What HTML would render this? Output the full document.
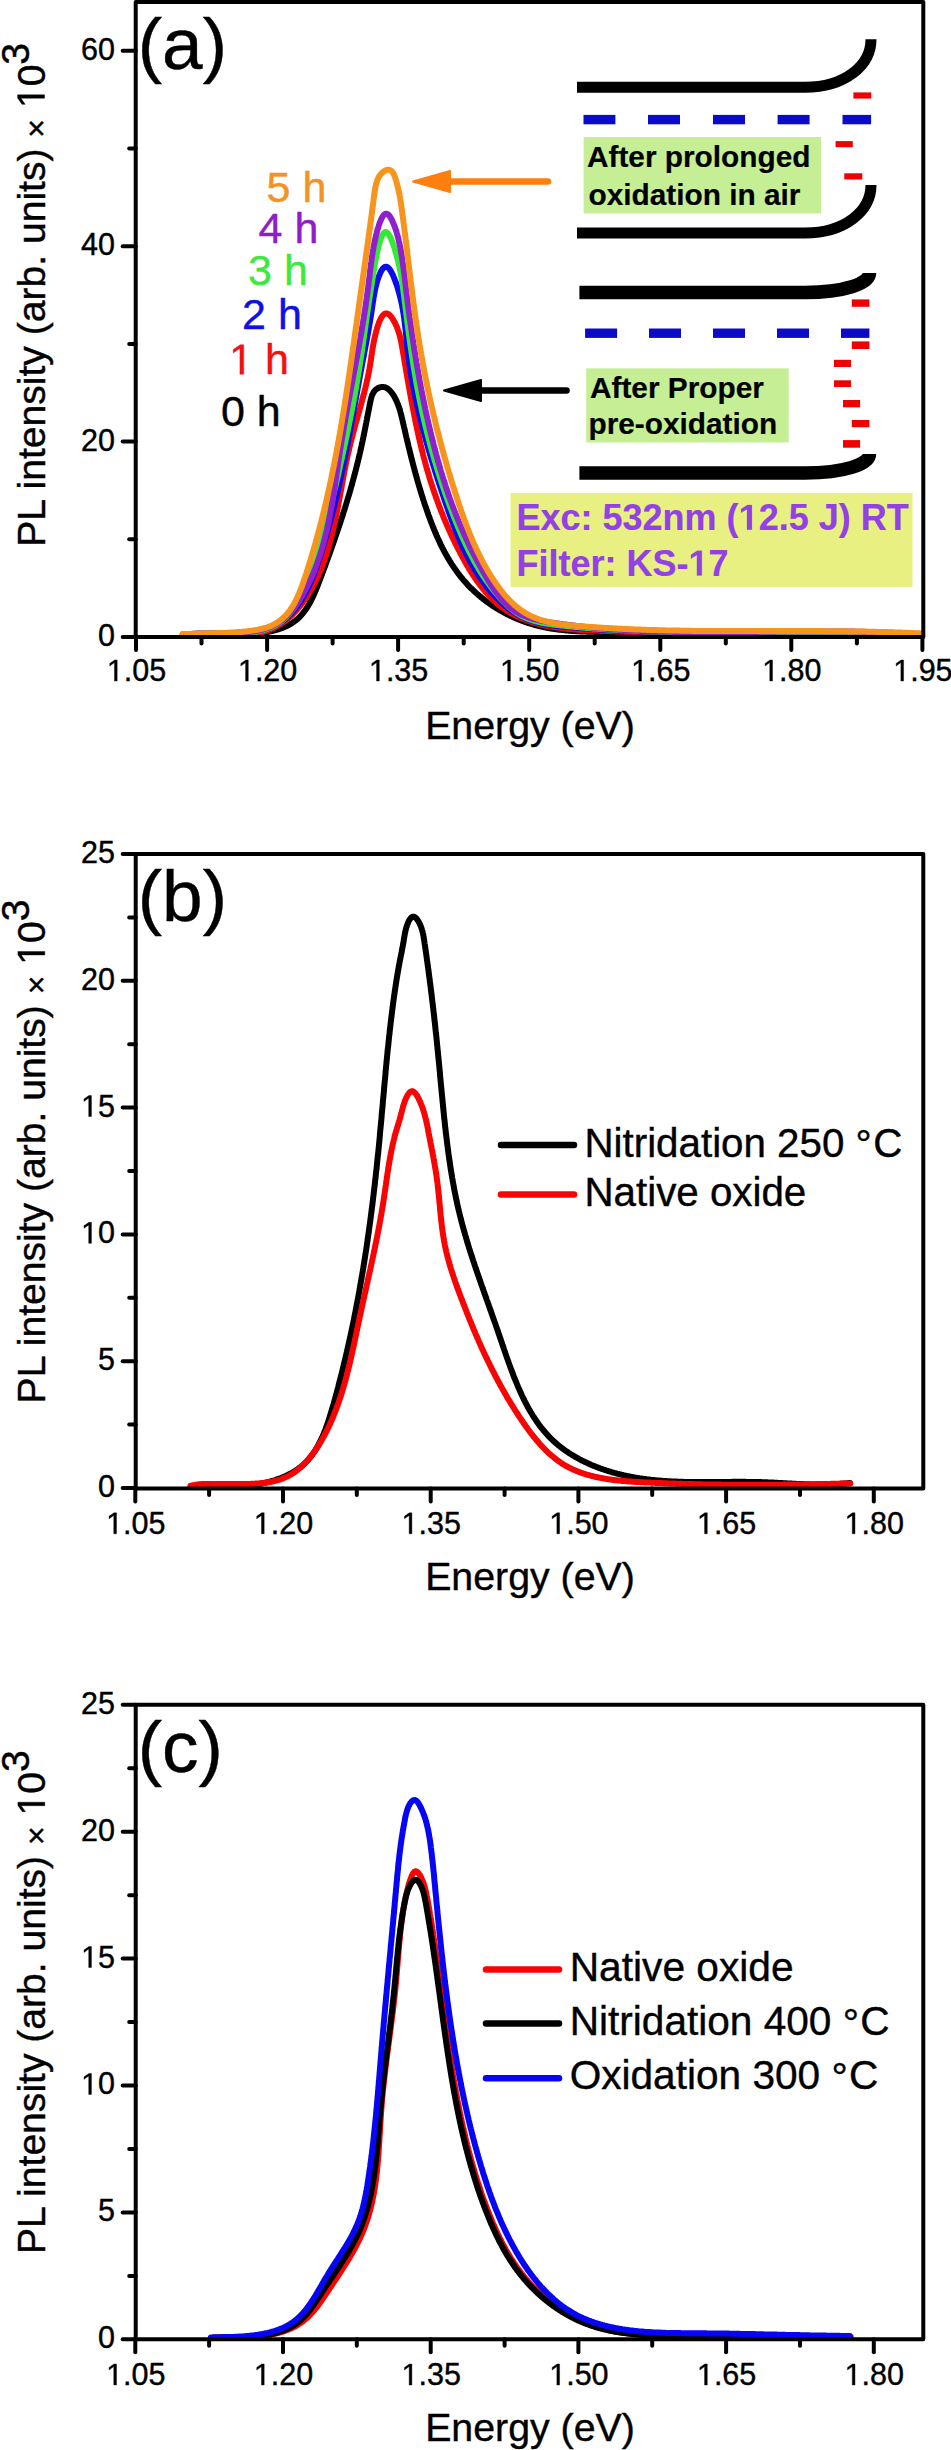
<!DOCTYPE html>
<html><head><meta charset="utf-8"><title>PL spectra</title>
<style>html,body{margin:0;padding:0;background:#fff;} svg text{font-family:"Liberation Sans", sans-serif;} .o1{fill:none;stroke:none}</style>
</head><body>
<svg width="951" height="2450" viewBox="0 0 951 2450" style="display:block">
<rect x="0" y="0" width="951" height="2450" fill="#fff"/>
<g fill="none" stroke-linejoin="round" stroke-linecap="round">
<polyline points="182.7,634.4 183.2,634.3 183.8,634.3 184.3,634.2 184.9,634.2 185.5,634.2 186.0,634.2 186.6,634.2 187.2,634.2 187.8,634.2 188.4,634.2 189.0,634.2 189.6,634.2 190.2,634.2 190.8,634.2 191.4,634.2 192.1,634.2 192.7,634.2 193.3,634.2 193.9,634.2 194.6,634.2 195.2,634.2 195.9,634.2 196.5,634.2 197.2,634.2 197.9,634.2 198.5,634.2 199.2,634.2 199.9,634.2 200.5,634.2 201.2,634.2 201.9,634.2 202.6,634.2 203.3,634.2 204.0,634.2 204.7,634.2 205.4,634.2 206.1,634.2 206.8,634.2 207.5,634.2 208.2,634.2 208.9,634.2 209.6,634.2 210.3,634.2 211.1,634.2 211.8,634.2 212.5,634.2 213.2,634.2 214.0,634.2 214.7,634.2 215.5,634.2 216.2,634.2 216.9,634.2 217.7,634.2 218.4,634.2 219.2,634.2 219.9,634.2 220.7,634.2 221.4,634.2 222.2,634.2 222.9,634.2 223.7,634.2 224.4,634.2 225.2,634.2 225.9,634.2 226.7,634.2 227.5,634.2 228.2,634.2 229.0,634.2 229.8,634.2 230.5,634.2 231.3,634.2 232.1,634.2 232.8,634.2 233.6,634.2 234.4,634.2 235.1,634.2 235.9,634.2 236.7,634.2 237.4,634.2 238.2,634.2 239.0,634.2 239.7,634.2 240.5,634.2 241.3,634.2 242.0,634.2 242.8,634.2 243.6,634.1 244.3,634.1 245.1,634.1 245.9,634.1 246.6,634.1 247.4,634.0 248.2,634.0 248.9,634.0 249.7,633.9 250.4,633.9 251.2,633.8 251.9,633.8 252.7,633.7 253.5,633.7 254.2,633.6 255.0,633.6 255.7,633.5 256.5,633.4 257.2,633.4 257.9,633.3 258.7,633.2 259.4,633.1 260.2,633.0 260.9,633.0 261.6,632.9 262.4,632.8 263.1,632.7 263.8,632.6 264.5,632.4 265.3,632.3 266.0,632.2 266.7,632.1 267.4,632.0 268.1,631.8 268.8,631.7 269.5,631.6 270.2,631.4 270.9,631.3 271.6,631.1 272.3,630.9 273.0,630.8 273.7,630.6 274.4,630.4 275.1,630.3 275.7,630.1 276.4,629.9 277.1,629.7 277.8,629.5 278.4,629.3 279.1,629.1 279.7,628.8 280.4,628.6 281.0,628.4 281.7,628.2 282.3,627.9 282.9,627.7 283.5,627.4 284.2,627.2 284.8,626.9 285.4,626.6 286.0,626.3 286.6,626.1 287.2,625.8 287.8,625.5 288.4,625.2 289.0,624.8 289.5,624.5 290.1,624.2 290.7,623.9 291.3,623.5 291.8,623.2 292.4,622.8 292.9,622.5 293.4,622.1 294.0,621.7 294.5,621.3 295.0,621.0 295.5,620.6 296.1,620.2 296.6,619.7 297.1,619.3 297.6,618.9 298.0,618.5 298.5,618.0 299.0,617.6 299.5,617.1 299.9,616.6 300.4,616.2 300.8,615.7 301.3,615.2 301.7,614.7 302.1,614.2 302.6,613.7 303.0,613.2 303.4,612.7 303.8,612.1 304.2,611.6 304.6,611.1 305.0,610.5 305.4,610.0 305.8,609.4 306.2,608.9 306.6,608.3 306.9,607.7 307.3,607.1 307.7,606.6 308.0,606.0 308.4,605.4 308.7,604.8 309.1,604.2 309.4,603.6 309.8,603.0 310.1,602.3 310.4,601.7 310.8,601.1 311.1,600.5 311.4,599.8 311.7,599.2 312.0,598.6 312.4,597.9 312.7,597.3 313.0,596.6 313.3,596.0 313.6,595.3 313.9,594.7 314.2,594.0 314.5,593.3 314.7,592.7 315.0,592.0 315.3,591.3 315.6,590.7 315.9,590.0 316.2,589.3 316.4,588.7 316.7,588.0 317.0,587.3 317.3,586.6 317.5,585.9 317.8,585.3 318.1,584.6 318.3,583.9 318.6,583.2 318.9,582.5 319.1,581.8 319.4,581.1 319.6,580.5 319.9,579.8 320.2,579.1 320.4,578.4 320.7,577.7 320.9,577.0 321.2,576.3 321.5,575.6 321.7,575.0 322.0,574.3 322.2,573.6 322.5,572.9 322.7,572.2 323.0,571.5 323.2,570.9 323.5,570.2 323.7,569.5 324.0,568.8 324.3,568.1 324.5,567.5 324.8,566.8 325.0,566.1 325.3,565.4 325.5,564.7 325.8,564.1 326.0,563.4 326.3,562.7 326.5,562.0 326.7,561.3 327.0,560.7 327.2,560.0 327.5,559.3 327.7,558.6 328.0,558.0 328.2,557.3 328.5,556.6 328.7,555.9 329.0,555.3 329.2,554.6 329.4,553.9 329.7,553.2 329.9,552.6 330.2,551.9 330.4,551.2 330.6,550.5 330.9,549.9 331.1,549.2 331.4,548.5 331.6,547.9 331.8,547.2 332.1,546.5 332.3,545.8 332.5,545.2 332.8,544.5 333.0,543.8 333.3,543.2 333.5,542.5 333.7,541.8 334.0,541.2 334.2,540.5 334.4,539.8 334.7,539.1 334.9,538.5 335.1,537.8 335.3,537.1 335.6,536.5 335.8,535.8 336.0,535.1 336.3,534.5 336.5,533.8 336.7,533.1 336.9,532.5 337.2,531.8 337.4,531.1 337.6,530.5 337.8,529.8 338.1,529.1 338.3,528.5 338.5,527.8 338.7,527.1 339.0,526.5 339.2,525.8 339.4,525.1 339.6,524.5 339.9,523.8 340.1,523.1 340.3,522.5 340.5,521.8 340.7,521.2 340.9,520.5 341.2,519.8 341.4,519.2 341.6,518.5 341.8,517.8 342.0,517.2 342.2,516.5 342.5,515.8 342.7,515.2 342.9,514.5 343.1,513.8 343.3,513.2 343.5,512.5 343.7,511.8 343.9,511.2 344.1,510.5 344.4,509.9 344.6,509.2 344.8,508.5 345.0,507.9 345.2,507.2 345.4,506.5 345.6,505.9 345.8,505.2 346.0,504.5 346.2,503.9 346.4,503.2 346.6,502.5 346.8,501.9 347.0,501.2 347.2,500.5 347.4,499.9 347.6,499.2 347.8,498.5 348.0,497.9 348.2,497.2 348.4,496.5 348.6,495.9 348.8,495.2 349.0,494.6 349.2,493.9 349.4,493.2 349.6,492.6 349.8,491.9 350.0,491.2 350.2,490.6 350.4,489.9 350.6,489.2 350.7,488.6 350.9,487.9 351.1,487.2 351.3,486.5 351.5,485.9 351.7,485.2 351.9,484.5 352.1,483.9 352.2,483.2 352.4,482.5 352.6,481.9 352.8,481.2 353.0,480.5 353.2,479.9 353.3,479.2 353.5,478.5 353.7,477.8 353.9,477.2 354.1,476.5 354.2,475.8 354.4,475.2 354.6,474.5 354.8,473.8 355.0,473.2 355.1,472.5 355.3,471.8 355.5,471.1 355.7,470.5 355.8,469.8 356.0,469.1 356.2,468.4 356.3,467.8 356.5,467.1 356.7,466.4 356.9,465.7 357.0,465.1 357.2,464.4 357.4,463.7 357.5,463.0 357.7,462.4 357.9,461.7 358.0,461.0 358.2,460.3 358.4,459.6 358.5,459.0 358.7,458.3 358.8,457.6 359.0,456.9 359.2,456.3 359.3,455.6 359.5,454.9 359.6,454.2 359.8,453.5 360.0,452.8 360.1,452.2 360.3,451.5 360.4,450.8 360.6,450.1 360.7,449.4 360.9,448.7 361.0,448.1 361.2,447.4 361.3,446.7 361.5,446.0 361.6,445.3 361.8,444.6 361.9,443.9 362.1,443.3 362.2,442.6 362.4,441.9 362.5,441.2 362.7,440.5 362.8,439.8 363.0,439.1 363.1,438.4 363.2,437.7 363.4,437.0 363.5,436.3 363.7,435.7 363.8,435.0 364.0,434.3 364.1,433.6 364.2,432.9 364.4,432.2 364.5,431.5 364.7,430.8 364.8,430.1 364.9,429.4 365.1,428.7 365.2,428.0 365.4,427.3 365.5,426.6 365.6,425.9 365.8,425.2 365.9,424.5 366.0,423.7 366.2,423.0 366.3,422.3 366.5,421.6 366.6,420.9 366.7,420.2 366.9,419.5 367.0,418.8 367.1,418.1 367.3,417.3 367.4,416.6 367.6,415.9 367.7,415.2 367.8,414.5 368.0,413.8 368.1,413.0 368.3,412.3 368.4,411.6 368.5,410.9 368.7,410.1 368.8,409.4 369.0,408.7 369.1,408.0 369.2,407.2 369.4,406.5 369.5,405.8 369.7,405.0 369.8,404.3 370.0,403.6 370.1,402.8 370.3,402.1 370.4,401.3 370.6,400.6 370.7,399.9 370.9,399.2 371.1,398.4 371.3,397.7 371.5,397.0 371.7,396.4 371.9,395.7 372.2,395.0 372.5,394.4 372.8,393.8 373.1,393.1 373.4,392.6 373.8,392.0 374.2,391.4 374.6,390.9 375.0,390.4 375.5,389.9 376.0,389.5 376.5,389.1 377.1,388.7 377.7,388.3 378.3,388.0 378.9,387.7 379.6,387.5 380.2,387.3 380.9,387.1 381.5,387.0 382.1,386.9 382.8,386.9 383.4,387.0 384.0,387.1 384.6,387.2 385.2,387.4 385.8,387.6 386.4,387.9 386.9,388.2 387.5,388.5 388.0,388.9 388.5,389.3 389.1,389.8 389.6,390.3 390.1,390.8 390.6,391.3 391.0,391.8 391.5,392.4 391.9,393.0 392.4,393.6 392.8,394.2 393.2,394.9 393.7,395.5 394.1,396.2 394.4,396.9 394.8,397.6 395.2,398.3 395.5,399.0 395.9,399.6 396.2,400.3 396.5,401.0 396.8,401.7 397.1,402.4 397.4,403.1 397.7,403.8 398.0,404.5 398.2,405.2 398.5,405.9 398.7,406.6 399.0,407.2 399.2,407.9 399.4,408.6 399.6,409.3 399.9,410.0 400.1,410.7 400.3,411.4 400.4,412.0 400.6,412.7 400.8,413.4 401.0,414.1 401.2,414.8 401.3,415.4 401.5,416.1 401.7,416.8 401.8,417.5 402.0,418.2 402.2,418.8 402.3,419.5 402.5,420.2 402.6,420.9 402.8,421.6 402.9,422.2 403.1,422.9 403.2,423.6 403.4,424.3 403.6,425.0 403.7,425.6 403.9,426.3 404.0,427.0 404.2,427.7 404.3,428.4 404.5,429.0 404.7,429.7 404.8,430.4 405.0,431.1 405.1,431.7 405.3,432.4 405.4,433.1 405.6,433.8 405.8,434.5 405.9,435.1 406.1,435.8 406.2,436.5 406.4,437.2 406.5,437.8 406.7,438.5 406.9,439.2 407.0,439.9 407.2,440.5 407.3,441.2 407.5,441.9 407.7,442.6 407.8,443.3 408.0,443.9 408.2,444.6 408.3,445.3 408.5,446.0 408.6,446.6 408.8,447.3 409.0,448.0 409.1,448.7 409.3,449.3 409.5,450.0 409.6,450.7 409.8,451.4 410.0,452.0 410.1,452.7 410.3,453.4 410.5,454.1 410.6,454.7 410.8,455.4 411.0,456.1 411.1,456.8 411.3,457.4 411.5,458.1 411.6,458.8 411.8,459.5 412.0,460.1 412.2,460.8 412.3,461.5 412.5,462.2 412.7,462.8 412.9,463.5 413.0,464.2 413.2,464.9 413.4,465.5 413.6,466.2 413.7,466.9 413.9,467.5 414.1,468.2 414.3,468.9 414.5,469.6 414.6,470.2 414.8,470.9 415.0,471.6 415.2,472.3 415.4,472.9 415.5,473.6 415.7,474.3 415.9,475.0 416.1,475.6 416.3,476.3 416.5,477.0 416.7,477.6 416.9,478.3 417.0,479.0 417.2,479.7 417.4,480.3 417.6,481.0 417.8,481.7 418.0,482.4 418.2,483.0 418.4,483.7 418.6,484.4 418.8,485.1 419.0,485.7 419.2,486.4 419.4,487.1 419.6,487.7 419.8,488.4 420.0,489.1 420.2,489.8 420.4,490.4 420.6,491.1 420.8,491.8 421.0,492.5 421.2,493.1 421.4,493.8 421.6,494.5 421.8,495.2 422.1,495.8 422.3,496.5 422.5,497.2 422.7,497.8 422.9,498.5 423.1,499.2 423.3,499.9 423.6,500.5 423.8,501.2 424.0,501.9 424.2,502.6 424.4,503.2 424.7,503.9 424.9,504.6 425.1,505.2 425.3,505.9 425.6,506.6 425.8,507.3 426.0,507.9 426.3,508.6 426.5,509.3 426.7,510.0 426.9,510.6 427.2,511.3 427.4,512.0 427.7,512.7 427.9,513.3 428.1,514.0 428.4,514.7 428.6,515.4 428.9,516.0 429.1,516.7 429.4,517.4 429.6,518.0 429.9,518.7 430.1,519.4 430.4,520.1 430.6,520.7 430.9,521.4 431.1,522.1 431.4,522.7 431.6,523.4 431.9,524.1 432.2,524.7 432.4,525.4 432.7,526.1 432.9,526.7 433.2,527.4 433.5,528.1 433.8,528.7 434.0,529.4 434.3,530.1 434.6,530.7 434.9,531.4 435.1,532.1 435.4,532.7 435.7,533.4 436.0,534.0 436.3,534.7 436.5,535.4 436.8,536.0 437.1,536.7 437.4,537.3 437.7,538.0 438.0,538.6 438.3,539.3 438.6,539.9 438.9,540.6 439.2,541.2 439.5,541.9 439.8,542.5 440.1,543.2 440.4,543.8 440.7,544.5 441.1,545.1 441.4,545.8 441.7,546.4 442.0,547.0 442.3,547.7 442.7,548.3 443.0,548.9 443.3,549.6 443.6,550.2 444.0,550.8 444.3,551.5 444.6,552.1 445.0,552.7 445.3,553.4 445.7,554.0 446.0,554.6 446.4,555.2 446.7,555.8 447.1,556.5 447.4,557.1 447.8,557.7 448.1,558.3 448.5,558.9 448.8,559.5 449.2,560.1 449.6,560.7 449.9,561.3 450.3,561.9 450.7,562.5 451.1,563.1 451.4,563.7 451.8,564.3 452.2,564.9 452.6,565.5 453.0,566.1 453.4,566.7 453.8,567.3 454.2,567.8 454.6,568.4 455.0,569.0 455.4,569.6 455.8,570.2 456.2,570.7 456.6,571.3 457.0,571.9 457.4,572.4 457.8,573.0 458.3,573.5 458.7,574.1 459.1,574.7 459.5,575.2 460.0,575.8 460.4,576.3 460.8,576.9 461.3,577.4 461.7,577.9 462.2,578.5 462.6,579.0 463.1,579.6 463.5,580.1 464.0,580.6 464.4,581.1 464.9,581.7 465.4,582.2 465.8,582.7 466.3,583.2 466.8,583.7 467.2,584.3 467.7,584.8 468.2,585.3 468.7,585.8 469.2,586.3 469.6,586.8 470.1,587.3 470.6,587.8 471.1,588.3 471.6,588.7 472.1,589.2 472.6,589.7 473.1,590.2 473.6,590.7 474.1,591.2 474.6,591.6 475.2,592.1 475.7,592.6 476.2,593.0 476.7,593.5 477.2,594.0 477.7,594.4 478.3,594.9 478.8,595.3 479.3,595.8 479.9,596.2 480.4,596.7 480.9,597.1 481.5,597.6 482.0,598.0 482.6,598.4 483.1,598.9 483.6,599.3 484.2,599.7 484.7,600.1 485.3,600.6 485.9,601.0 486.4,601.4 487.0,601.8 487.5,602.2 488.1,602.6 488.7,603.0 489.2,603.4 489.8,603.8 490.4,604.2 490.9,604.6 491.5,605.0 492.1,605.4 492.7,605.8 493.2,606.2 493.8,606.6 494.4,606.9 495.0,607.3 495.6,607.7 496.2,608.0 496.8,608.4 497.4,608.8 498.0,609.1 498.5,609.5 499.1,609.8 499.7,610.2 500.3,610.5 501.0,610.9 501.6,611.2 502.2,611.6 502.8,611.9 503.4,612.3 504.0,612.6 504.6,612.9 505.2,613.2 505.8,613.6 506.5,613.9 507.1,614.2 507.7,614.5 508.3,614.8 508.9,615.1 509.6,615.4 510.2,615.7 510.8,616.0 511.5,616.3 512.1,616.6 512.7,616.9 513.4,617.2 514.0,617.5 514.6,617.8 515.3,618.1 515.9,618.3 516.5,618.6 517.2,618.9 517.8,619.1 518.5,619.4 519.1,619.7 519.8,619.9 520.4,620.2 521.1,620.4 521.7,620.7 522.4,620.9 523.0,621.2 523.7,621.4 524.3,621.6 525.0,621.9 525.7,622.1 526.3,622.3 527.0,622.6 527.6,622.8 528.3,623.0 529.0,623.2 529.6,623.4 530.3,623.6 531.0,623.8 531.6,624.0 532.3,624.2 533.0,624.4 533.7,624.6 534.3,624.8 535.0,625.0 535.7,625.2 536.4,625.4 537.0,625.6 537.7,625.7 538.4,625.9 539.1,626.1 539.7,626.2 540.4,626.4 541.1,626.6 541.8,626.7 542.5,626.9 543.2,627.0 543.8,627.2 544.5,627.3 545.2,627.4 545.9,627.6 546.6,627.7 547.3,627.8 548.0,628.0 548.7,628.1 549.4,628.2 550.1,628.3 550.8,628.5 551.4,628.6 552.1,628.7 552.8,628.8 553.5,628.9 554.2,629.0 554.9,629.1 555.6,629.2 556.3,629.3 557.0,629.4 557.7,629.5 558.4,629.6 559.1,629.7 559.8,629.7 560.5,629.8 561.2,629.9 561.9,630.0 562.6,630.1 563.3,630.1 564.1,630.2 564.8,630.3 565.5,630.4 566.2,630.4 566.9,630.5 567.6,630.5 568.3,630.6 569.0,630.7 569.7,630.7 570.4,630.8 571.1,630.8 571.8,630.9 572.6,630.9 573.3,631.0 574.0,631.0 574.7,631.1 575.4,631.1 576.1,631.2 576.8,631.2 577.5,631.3 578.3,631.3 579.0,631.3 579.7,631.4 580.4,631.4 581.1,631.4 581.8,631.5 582.5,631.5 583.3,631.5 584.0,631.6 584.7,631.6 585.4,631.6 586.1,631.6 586.8,631.7 587.5,631.7 588.3,631.7 589.0,631.7 589.7,631.7 590.4,631.8 591.1,631.8 591.8,631.8 592.6,631.8 593.3,631.8 594.0,631.9 594.7,631.9 595.4,631.9 596.2,631.9 596.9,631.9 597.6,631.9 598.3,631.9 599.0,632.0 599.7,632.0 600.5,632.0 601.2,632.0 601.9,632.0 602.6,632.0 603.3,632.0 604.0,632.0 604.8,632.1 605.5,632.1 606.2,632.1 606.9,632.1 607.6,632.1 608.3,632.1 609.1,632.1 609.8,632.1 610.5,632.1 611.2,632.2 611.9,632.2 612.6,632.2 613.3,632.2 614.1,632.2 614.8,632.2 615.5,632.2 616.2,632.2 616.9,632.2 617.6,632.3 618.3,632.3 619.1,632.3 619.8,632.3 620.5,632.3 621.2,632.3 621.9,632.3 622.6,632.3 623.3,632.3 624.1,632.3 624.8,632.4 625.5,632.4 626.2,632.4 626.9,632.4 627.6,632.4 628.3,632.4 629.0,632.4 629.7,632.4 630.5,632.4 631.2,632.4 631.9,632.5 632.6,632.5 633.3,632.5 634.0,632.5 634.7,632.5 635.4,632.5 636.2,632.5 636.9,632.5 637.6,632.5 638.3,632.5 639.0,632.6 639.7,632.6 640.4,632.6 641.1,632.6 641.8,632.6 642.5,632.6 643.3,632.6 644.0,632.6 644.7,632.6 645.4,632.6 646.1,632.6 646.8,632.7 647.5,632.7 648.2,632.7 648.9,632.7 649.6,632.7 650.3,632.7 651.1,632.7 651.8,632.7 652.5,632.7 653.2,632.7 653.9,632.7 654.6,632.8 655.3,632.8 656.0,632.8 656.7,632.8 657.4,632.8 658.1,632.8 658.8,632.8 659.5,632.8 660.3,632.8 661.0,632.8 661.7,632.8 662.4,632.8 663.1,632.9 663.8,632.9 664.5,632.9 665.2,632.9 665.9,632.9 666.6,632.9 667.3,632.9 668.0,632.9 668.7,632.9 669.4,632.9 670.1,632.9 670.8,632.9 671.6,633.0 672.3,633.0 673.0,633.0 673.7,633.0 674.4,633.0 675.1,633.0 675.8,633.0 676.5,633.0 677.2,633.0 677.9,633.0 678.6,633.0 679.3,633.0 680.0,633.0 680.7,633.1 681.4,633.1 682.1,633.1 682.8,633.1 683.5,633.1 684.2,633.1 684.9,633.1 685.6,633.1 686.4,633.1 687.1,633.1 687.8,633.1 688.5,633.1 689.2,633.1 689.9,633.2 690.6,633.2 691.3,633.2 692.0,633.2 692.7,633.2 693.4,633.2 694.1,633.2 694.8,633.2 695.5,633.2 696.2,633.2 696.9,633.2 697.6,633.2 698.3,633.2 699.0,633.2 699.7,633.3 700.4,633.3 701.1,633.3 701.8,633.3 702.5,633.3 703.2,633.3 703.9,633.3 704.6,633.3 705.3,633.3 706.0,633.3 706.7,633.3 707.4,633.3 708.1,633.3 708.8,633.3 709.5,633.3 710.2,633.4 711.0,633.4 711.7,633.4 712.4,633.4 713.1,633.4 713.8,633.4 714.5,633.4 715.2,633.4 715.9,633.4 716.6,633.4 717.3,633.4 718.0,633.4 718.7,633.4 719.4,633.4 720.1,633.4 720.8,633.4 721.5,633.5 722.2,633.5 722.9,633.5 723.6,633.5 724.3,633.5 725.0,633.5 725.7,633.5 726.4,633.5 727.1,633.5 727.8,633.5 728.5,633.5 729.2,633.5 729.9,633.5 730.6,633.5 731.3,633.5 732.0,633.5 732.7,633.5 733.4,633.6 734.1,633.6 734.8,633.6 735.5,633.6 736.2,633.6 736.9,633.6 737.6,633.6 738.3,633.6 739.0,633.6 739.7,633.6 740.4,633.6 741.1,633.6 741.8,633.6 742.5,633.6 743.2,633.6 743.9,633.6 744.6,633.6 745.3,633.6 746.0,633.6 746.7,633.7 747.4,633.7 748.1,633.7 748.8,633.7 749.5,633.7 750.2,633.7 750.9,633.7 751.6,633.7 752.3,633.7 753.0,633.7 753.7,633.7 754.4,633.7 755.1,633.7 755.8,633.7 756.5,633.7 757.2,633.7 757.9,633.7 758.6,633.7 759.3,633.7 760.0,633.7 760.7,633.7 761.4,633.8 762.1,633.8 762.8,633.8 763.5,633.8 764.2,633.8 764.9,633.8 765.6,633.8 766.3,633.8 767.0,633.8 767.7,633.8 768.4,633.8 769.1,633.8 769.8,633.8 770.5,633.8 771.2,633.8 771.9,633.8 772.6,633.8 773.3,633.8 774.0,633.8 774.7,633.8 775.4,633.8 776.1,633.8 776.8,633.8 777.5,633.9 778.2,633.9 778.9,633.9 779.6,633.9 780.3,633.9 781.0,633.9 781.7,633.9 782.4,633.9 783.1,633.9 783.8,633.9 784.5,633.9 785.2,633.9 785.9,633.9 786.6,633.9 787.3,633.9 788.0,633.9 788.7,633.9 789.4,633.9 790.1,633.9 790.8,633.9 791.5,633.9 792.2,633.9 792.9,633.9 793.6,633.9 794.3,633.9 795.0,633.9 795.7,633.9 796.4,633.9 797.1,634.0 797.8,634.0 798.5,634.0 799.2,634.0 799.9,634.0 800.6,634.0 801.3,634.0 802.0,634.0 802.7,634.0 803.4,634.0 804.1,634.0 804.8,634.0 805.5,634.0 806.2,634.0 806.9,634.0 807.6,634.0 808.3,634.0 809.0,634.0 809.7,634.0 810.4,634.0 811.1,634.0 811.8,634.0 812.5,634.0 813.2,634.0 813.9,634.0 814.6,634.0 815.3,634.0 816.0,634.0 816.7,634.0 817.4,634.0 818.1,634.0 818.8,634.0 819.5,634.0 820.2,634.0 820.9,634.0 821.6,634.0 822.3,634.0 823.0,634.1 823.7,634.1 824.4,634.1 825.1,634.1 825.8,634.1 826.5,634.1 827.2,634.1 827.9,634.1 828.6,634.1 829.3,634.1 830.0,634.1 830.7,634.1 831.4,634.1 832.1,634.1 832.8,634.1 833.5,634.1 834.2,634.1 834.9,634.1 835.6,634.1 836.4,634.1 837.1,634.1 837.8,634.1 838.5,634.1 839.2,634.1 839.9,634.1 840.6,634.1 841.3,634.1 842.0,634.1 842.7,634.1 843.4,634.1 844.1,634.1 844.8,634.1 845.5,634.1 846.2,634.1 846.9,634.1 847.6,634.1 848.3,634.1 849.0,634.1 849.7,634.1 850.4,634.1 851.1,634.1 851.8,634.1 852.5,634.1 853.2,634.1 853.9,634.1 854.6,634.1 855.4,634.1 856.1,634.1 856.8,634.1 857.5,634.1 858.2,634.1 858.9,634.1 859.6,634.1 860.3,634.1 861.0,634.1 861.7,634.1 862.4,634.1 863.1,634.1 863.8,634.1 864.5,634.1 865.2,634.2 865.9,634.2 866.6,634.2 867.3,634.2 868.0,634.2 868.8,634.2 869.5,634.2 870.2,634.2 870.9,634.2 871.6,634.2 872.3,634.2 873.0,634.2 873.7,634.2 874.4,634.2 875.1,634.2 875.8,634.2 876.5,634.2 877.2,634.2 877.9,634.2 878.7,634.2 879.4,634.2 880.1,634.2 880.8,634.2 881.5,634.2 882.2,634.2 882.9,634.2 883.6,634.2 884.3,634.2 885.0,634.2 885.7,634.2 886.4,634.2 887.2,634.2 887.9,634.2 888.6,634.2 889.3,634.2 890.0,634.2 890.7,634.2 891.4,634.2 892.1,634.2 892.8,634.2 893.5,634.2 894.2,634.2 895.0,634.2 895.7,634.2 896.4,634.2 897.1,634.2 897.8,634.2 898.5,634.2 899.2,634.2 899.9,634.2 900.6,634.2 901.4,634.2 902.1,634.2 902.8,634.2 903.5,634.2 904.2,634.2 904.9,634.2 905.6,634.2 906.3,634.2 907.0,634.2 907.8,634.2 908.5,634.2 909.2,634.2 909.9,634.2 910.6,634.2 911.3,634.2 912.0,634.2 912.7,634.2 913.5,634.2 914.2,634.2 914.9,634.2 915.6,634.2 916.3,634.2 917.0,634.2 917.7,634.2 918.5,634.2 919.2,634.2 919.9,634.2 920.6,634.2 921.3,634.2 922.0,634.2" stroke="#000000" stroke-width="6"/>
<polyline points="183.5,634.7 184.1,634.7 184.8,634.7 185.5,634.7 186.2,634.7 186.9,634.7 187.6,634.6 188.3,634.5 189.0,634.4 189.7,634.4 190.4,634.4 191.1,634.4 191.8,634.4 192.6,634.4 193.3,634.4 194.0,634.4 194.8,634.4 195.5,634.4 196.3,634.4 197.0,634.4 197.8,634.4 198.5,634.4 199.3,634.4 200.1,634.4 200.8,634.4 201.6,634.4 202.4,634.4 203.2,634.4 203.9,634.4 204.7,634.4 205.5,634.4 206.3,634.4 207.1,634.4 207.9,634.4 208.7,634.4 209.5,634.4 210.3,634.4 211.1,634.4 211.9,634.4 212.7,634.4 213.5,634.4 214.3,634.4 215.1,634.4 216.0,634.4 216.8,634.4 217.6,634.4 218.4,634.4 219.2,634.4 220.0,634.4 220.9,634.4 221.7,634.4 222.5,634.4 223.3,634.4 224.2,634.4 225.0,634.4 225.8,634.4 226.6,634.4 227.5,634.4 228.3,634.4 229.1,634.4 229.9,634.4 230.8,634.4 231.6,634.4 232.4,634.4 233.3,634.4 234.1,634.4 234.9,634.4 235.7,634.4 236.5,634.4 237.4,634.4 238.2,634.4 239.0,634.4 239.8,634.4 240.6,634.4 241.5,634.4 242.3,634.4 243.1,634.4 243.9,634.3 244.7,634.3 245.5,634.3 246.3,634.2 247.1,634.2 247.9,634.1 248.7,634.1 249.5,634.0 250.3,634.0 251.1,633.9 251.9,633.8 252.7,633.7 253.5,633.6 254.3,633.5 255.1,633.4 255.8,633.3 256.6,633.2 257.4,633.1 258.1,632.9 258.9,632.8 259.7,632.6 260.4,632.5 261.2,632.3 261.9,632.1 262.7,632.0 263.4,631.8 264.2,631.6 264.9,631.4 265.6,631.2 266.3,630.9 267.1,630.7 267.8,630.5 268.5,630.2 269.2,629.9 269.9,629.7 270.6,629.4 271.3,629.1 272.0,628.8 272.7,628.5 273.4,628.2 274.0,627.9 274.7,627.5 275.4,627.2 276.0,626.8 276.7,626.5 277.4,626.1 278.0,625.7 278.6,625.3 279.3,625.0 279.9,624.6 280.6,624.2 281.2,623.7 281.8,623.3 282.4,622.9 283.1,622.5 283.7,622.0 284.3,621.6 284.9,621.1 285.5,620.7 286.1,620.2 286.7,619.7 287.2,619.2 287.8,618.7 288.4,618.3 289.0,617.8 289.6,617.2 290.1,616.7 290.7,616.2 291.2,615.7 291.8,615.2 292.3,614.6 292.9,614.1 293.4,613.5 294.0,613.0 294.5,612.4 295.0,611.9 295.6,611.3 296.1,610.7 296.6,610.1 297.1,609.6 297.6,609.0 298.1,608.4 298.6,607.8 299.1,607.2 299.6,606.6 300.1,606.0 300.6,605.4 301.1,604.7 301.5,604.1 302.0,603.5 302.5,602.9 303.0,602.2 303.4,601.6 303.9,601.0 304.3,600.3 304.8,599.7 305.2,599.0 305.7,598.4 306.1,597.7 306.5,597.1 307.0,596.4 307.4,595.7 307.8,595.1 308.2,594.4 308.7,593.7 309.1,593.1 309.5,592.4 309.9,591.7 310.3,591.0 310.7,590.4 311.1,589.7 311.5,589.0 311.8,588.3 312.2,587.6 312.6,586.9 313.0,586.2 313.3,585.6 313.7,584.9 314.1,584.2 314.4,583.5 314.8,582.8 315.2,582.1 315.5,581.4 315.8,580.7 316.2,580.0 316.5,579.3 316.9,578.6 317.2,577.8 317.5,577.1 317.9,576.4 318.2,575.7 318.5,575.0 318.8,574.3 319.1,573.6 319.4,572.8 319.8,572.1 320.1,571.4 320.4,570.7 320.7,570.0 321.0,569.2 321.3,568.5 321.5,567.8 321.8,567.1 322.1,566.3 322.4,565.6 322.7,564.9 323.0,564.1 323.2,563.4 323.5,562.7 323.8,561.9 324.0,561.2 324.3,560.5 324.6,559.7 324.8,559.0 325.1,558.2 325.3,557.5 325.6,556.7 325.8,556.0 326.1,555.3 326.3,554.5 326.6,553.8 326.8,553.0 327.0,552.3 327.3,551.5 327.5,550.8 327.7,550.0 328.0,549.2 328.2,548.5 328.4,547.7 328.6,547.0 328.8,546.2 329.1,545.5 329.3,544.7 329.5,543.9 329.7,543.2 329.9,542.4 330.1,541.7 330.3,540.9 330.5,540.1 330.7,539.4 330.9,538.6 331.1,537.8 331.3,537.1 331.5,536.3 331.7,535.5 331.9,534.8 332.1,534.0 332.3,533.2 332.5,532.4 332.7,531.7 332.8,530.9 333.0,530.1 333.2,529.4 333.4,528.6 333.6,527.8 333.7,527.0 333.9,526.2 334.1,525.5 334.3,524.7 334.4,523.9 334.6,523.1 334.8,522.4 334.9,521.6 335.1,520.8 335.3,520.0 335.4,519.2 335.6,518.5 335.8,517.7 335.9,516.9 336.1,516.1 336.2,515.3 336.4,514.5 336.5,513.8 336.7,513.0 336.9,512.2 337.0,511.4 337.2,510.6 337.3,509.8 337.5,509.1 337.6,508.3 337.8,507.5 337.9,506.7 338.1,505.9 338.2,505.1 338.4,504.3 338.5,503.6 338.7,502.8 338.8,502.0 339.0,501.2 339.1,500.4 339.3,499.6 339.4,498.8 339.5,498.1 339.7,497.3 339.8,496.5 340.0,495.7 340.1,494.9 340.3,494.1 340.4,493.3 340.5,492.5 340.7,491.8 340.8,491.0 341.0,490.2 341.1,489.4 341.3,488.6 341.4,487.8 341.5,487.0 341.7,486.2 341.8,485.5 342.0,484.7 342.1,483.9 342.3,483.1 342.4,482.3 342.5,481.5 342.7,480.7 342.8,480.0 343.0,479.2 343.1,478.4 343.3,477.6 343.4,476.8 343.6,476.0 343.7,475.2 343.9,474.5 344.0,473.7 344.2,472.9 344.3,472.1 344.4,471.3 344.6,470.6 344.7,469.8 344.9,469.0 345.1,468.2 345.2,467.4 345.4,466.7 345.5,465.9 345.7,465.1 345.8,464.3 346.0,463.5 346.1,462.8 346.3,462.0 346.5,461.2 346.6,460.4 346.8,459.7 346.9,458.9 347.1,458.1 347.3,457.3 347.4,456.6 347.6,455.8 347.8,455.0 347.9,454.2 348.1,453.5 348.3,452.7 348.5,451.9 348.6,451.2 348.8,450.4 349.0,449.6 349.2,448.9 349.3,448.1 349.5,447.3 349.7,446.6 349.9,445.8 350.1,445.1 350.3,444.3 350.4,443.5 350.6,442.8 350.8,442.0 351.0,441.3 351.2,440.5 351.4,439.7 351.6,439.0 351.8,438.2 352.0,437.5 352.2,436.7 352.4,436.0 352.6,435.2 352.8,434.5 353.0,433.7 353.2,432.9 353.4,432.2 353.6,431.4 353.8,430.7 354.0,429.9 354.2,429.2 354.4,428.4 354.6,427.7 354.8,426.9 355.0,426.2 355.2,425.4 355.4,424.7 355.6,423.9 355.8,423.2 356.0,422.4 356.2,421.7 356.5,421.0 356.7,420.2 356.9,419.5 357.1,418.7 357.3,418.0 357.5,417.2 357.7,416.5 357.9,415.7 358.1,415.0 358.3,414.2 358.5,413.5 358.7,412.8 359.0,412.0 359.2,411.3 359.4,410.5 359.6,409.8 359.8,409.0 360.0,408.3 360.2,407.5 360.4,406.8 360.6,406.1 360.8,405.3 361.0,404.6 361.2,403.8 361.4,403.1 361.6,402.3 361.8,401.6 362.0,400.8 362.2,400.1 362.4,399.4 362.6,398.6 362.8,397.9 363.0,397.1 363.2,396.4 363.4,395.6 363.6,394.9 363.8,394.1 364.0,393.4 364.2,392.7 364.4,391.9 364.5,391.2 364.7,390.4 364.9,389.7 365.1,388.9 365.3,388.2 365.5,387.4 365.6,386.7 365.8,385.9 366.0,385.2 366.2,384.4 366.4,383.7 366.5,382.9 366.7,382.2 366.9,381.4 367.0,380.7 367.2,379.9 367.4,379.2 367.5,378.4 367.7,377.7 367.9,376.9 368.0,376.2 368.2,375.4 368.3,374.7 368.5,373.9 368.6,373.2 368.8,372.4 368.9,371.6 369.1,370.9 369.2,370.1 369.4,369.4 369.5,368.6 369.6,367.8 369.8,367.1 369.9,366.3 370.0,365.6 370.1,364.8 370.3,364.0 370.4,363.3 370.5,362.5 370.6,361.7 370.7,361.0 370.9,360.2 371.0,359.4 371.1,358.7 371.2,357.9 371.3,357.1 371.4,356.3 371.5,355.5 371.6,354.7 371.8,353.9 371.9,353.0 372.0,352.2 372.1,351.3 372.3,350.4 372.4,349.5 372.6,348.6 372.7,347.7 372.9,346.7 373.1,345.8 373.2,344.8 373.4,343.8 373.6,342.8 373.8,341.8 374.0,340.8 374.2,339.8 374.4,338.8 374.6,337.8 374.9,336.8 375.1,335.8 375.3,334.8 375.6,333.8 375.8,332.8 376.1,331.9 376.3,330.9 376.6,329.9 376.9,329.0 377.1,328.1 377.4,327.1 377.7,326.2 378.0,325.4 378.3,324.5 378.6,323.7 378.9,322.8 379.2,322.0 379.5,321.3 379.8,320.5 380.2,319.8 380.5,319.1 380.8,318.5 381.2,317.9 381.5,317.3 381.9,316.7 382.2,316.2 382.6,315.7 382.9,315.3 383.3,314.9 383.7,314.6 384.1,314.3 384.4,314.0 384.8,313.8 385.2,313.6 385.6,313.5 386.0,313.5 386.4,313.4 386.8,313.5 387.2,313.6 387.7,313.7 388.1,313.9 388.5,314.2 388.9,314.5 389.3,314.8 389.8,315.2 390.2,315.6 390.6,316.1 391.0,316.6 391.5,317.1 391.9,317.7 392.3,318.3 392.7,318.9 393.1,319.6 393.5,320.3 393.9,321.0 394.3,321.7 394.7,322.5 395.1,323.2 395.5,324.0 395.9,324.8 396.2,325.6 396.6,326.5 396.9,327.3 397.3,328.2 397.6,329.0 397.9,329.9 398.2,330.8 398.5,331.6 398.8,332.5 399.1,333.4 399.3,334.2 399.6,335.1 399.8,335.9 400.0,336.8 400.2,337.6 400.4,338.5 400.6,339.3 400.8,340.1 401.0,341.0 401.2,341.8 401.3,342.6 401.5,343.5 401.6,344.3 401.8,345.1 401.9,345.9 402.1,346.8 402.2,347.6 402.4,348.4 402.5,349.2 402.6,350.0 402.8,350.8 402.9,351.7 403.1,352.5 403.2,353.3 403.3,354.1 403.5,354.9 403.6,355.7 403.8,356.5 403.9,357.4 404.0,358.2 404.2,359.0 404.3,359.8 404.4,360.6 404.6,361.4 404.7,362.2 404.9,363.0 405.0,363.8 405.1,364.6 405.3,365.4 405.4,366.2 405.5,367.0 405.7,367.8 405.8,368.6 405.9,369.4 406.1,370.2 406.2,371.0 406.4,371.8 406.5,372.6 406.6,373.4 406.8,374.2 406.9,375.0 407.0,375.8 407.2,376.6 407.3,377.4 407.4,378.2 407.6,379.0 407.7,379.8 407.9,380.6 408.0,381.4 408.1,382.2 408.3,382.9 408.4,383.7 408.5,384.5 408.7,385.3 408.8,386.1 409.0,386.9 409.1,387.7 409.2,388.5 409.4,389.2 409.5,390.0 409.7,390.8 409.8,391.6 409.9,392.4 410.1,393.2 410.2,393.9 410.4,394.7 410.5,395.5 410.6,396.3 410.8,397.1 410.9,397.8 411.1,398.6 411.2,399.4 411.4,400.2 411.5,401.0 411.6,401.7 411.8,402.5 411.9,403.3 412.1,404.1 412.2,404.8 412.4,405.6 412.5,406.4 412.7,407.1 412.8,407.9 413.0,408.7 413.1,409.5 413.3,410.2 413.4,411.0 413.6,411.8 413.7,412.5 413.9,413.3 414.0,414.1 414.2,414.8 414.3,415.6 414.5,416.4 414.6,417.1 414.8,417.9 414.9,418.7 415.1,419.4 415.2,420.2 415.4,421.0 415.5,421.7 415.7,422.5 415.9,423.2 416.0,424.0 416.2,424.8 416.3,425.5 416.5,426.3 416.7,427.0 416.8,427.8 417.0,428.6 417.1,429.3 417.3,430.1 417.5,430.8 417.6,431.6 417.8,432.3 418.0,433.1 418.1,433.9 418.3,434.6 418.5,435.4 418.6,436.1 418.8,436.9 419.0,437.6 419.1,438.4 419.3,439.1 419.5,439.9 419.7,440.6 419.8,441.4 420.0,442.1 420.2,442.9 420.4,443.6 420.5,444.4 420.7,445.1 420.9,445.9 421.1,446.6 421.3,447.4 421.4,448.1 421.6,448.9 421.8,449.6 422.0,450.4 422.2,451.1 422.4,451.8 422.6,452.6 422.7,453.3 422.9,454.1 423.1,454.8 423.3,455.6 423.5,456.3 423.7,457.1 423.9,457.8 424.1,458.5 424.3,459.3 424.5,460.0 424.7,460.8 424.9,461.5 425.1,462.2 425.3,463.0 425.5,463.7 425.7,464.5 425.9,465.2 426.1,465.9 426.3,466.7 426.5,467.4 426.7,468.1 426.9,468.9 427.1,469.6 427.4,470.4 427.6,471.1 427.8,471.8 428.0,472.6 428.2,473.3 428.4,474.0 428.7,474.8 428.9,475.5 429.1,476.2 429.3,477.0 429.5,477.7 429.8,478.4 430.0,479.2 430.2,479.9 430.4,480.6 430.7,481.4 430.9,482.1 431.1,482.8 431.4,483.6 431.6,484.3 431.8,485.0 432.1,485.8 432.3,486.5 432.6,487.2 432.8,488.0 433.0,488.7 433.3,489.4 433.5,490.2 433.8,490.9 434.0,491.6 434.3,492.4 434.5,493.1 434.8,493.8 435.0,494.5 435.3,495.3 435.5,496.0 435.8,496.7 436.0,497.5 436.3,498.2 436.6,498.9 436.8,499.6 437.1,500.4 437.4,501.1 437.6,501.8 437.9,502.6 438.2,503.3 438.4,504.0 438.7,504.7 439.0,505.5 439.2,506.2 439.5,506.9 439.8,507.7 440.1,508.4 440.4,509.1 440.6,509.8 440.9,510.6 441.2,511.3 441.5,512.0 441.8,512.7 442.1,513.5 442.4,514.2 442.7,514.9 443.0,515.7 443.2,516.4 443.5,517.1 443.8,517.8 444.1,518.6 444.4,519.3 444.7,520.0 445.1,520.7 445.4,521.5 445.7,522.2 446.0,522.9 446.3,523.6 446.6,524.4 446.9,525.1 447.2,525.8 447.6,526.6 447.9,527.3 448.2,528.0 448.5,528.7 448.8,529.5 449.2,530.2 449.5,530.9 449.8,531.6 450.2,532.4 450.5,533.1 450.8,533.8 451.2,534.6 451.5,535.3 451.8,536.0 452.2,536.7 452.5,537.5 452.9,538.2 453.2,538.9 453.6,539.6 453.9,540.4 454.3,541.1 454.6,541.8 455.0,542.6 455.3,543.3 455.7,544.0 456.0,544.7 456.4,545.5 456.8,546.2 457.1,546.9 457.5,547.7 457.9,548.4 458.3,549.1 458.6,549.9 459.0,550.6 459.4,551.3 459.8,552.0 460.1,552.8 460.5,553.5 460.9,554.2 461.3,555.0 461.7,555.7 462.1,556.4 462.5,557.1 462.9,557.9 463.3,558.6 463.7,559.3 464.1,560.0 464.5,560.8 464.9,561.5 465.3,562.2 465.7,562.9 466.1,563.7 466.5,564.4 466.9,565.1 467.3,565.8 467.8,566.5 468.2,567.2 468.6,568.0 469.0,568.7 469.5,569.4 469.9,570.1 470.3,570.8 470.8,571.5 471.2,572.2 471.7,572.9 472.1,573.6 472.5,574.3 473.0,575.0 473.4,575.7 473.9,576.3 474.4,577.0 474.8,577.7 475.3,578.4 475.7,579.1 476.2,579.7 476.7,580.4 477.1,581.1 477.6,581.7 478.1,582.4 478.6,583.1 479.0,583.7 479.5,584.4 480.0,585.0 480.5,585.6 481.0,586.3 481.5,586.9 482.0,587.6 482.5,588.2 483.0,588.8 483.5,589.4 484.0,590.1 484.5,590.7 485.0,591.3 485.5,591.9 486.0,592.5 486.6,593.1 487.1,593.7 487.6,594.3 488.2,594.8 488.7,595.4 489.2,596.0 489.8,596.6 490.3,597.1 490.8,597.7 491.4,598.2 491.9,598.8 492.5,599.3 493.0,599.9 493.6,600.4 494.2,600.9 494.7,601.5 495.3,602.0 495.9,602.5 496.5,603.0 497.0,603.5 497.6,604.0 498.2,604.5 498.8,604.9 499.4,605.4 500.0,605.9 500.6,606.4 501.2,606.8 501.8,607.3 502.4,607.7 503.0,608.1 503.6,608.6 504.2,609.0 504.8,609.4 505.4,609.8 506.1,610.3 506.7,610.7 507.3,611.1 508.0,611.5 508.6,611.8 509.2,612.2 509.9,612.6 510.5,613.0 511.2,613.3 511.8,613.7 512.5,614.1 513.1,614.4 513.8,614.8 514.4,615.1 515.1,615.4 515.8,615.8 516.4,616.1 517.1,616.4 517.8,616.7 518.4,617.0 519.1,617.3 519.8,617.6 520.5,617.9 521.2,618.2 521.9,618.5 522.5,618.8 523.2,619.1 523.9,619.3 524.6,619.6 525.3,619.9 526.0,620.1 526.7,620.4 527.4,620.6 528.1,620.9 528.8,621.1 529.6,621.4 530.3,621.6 531.0,621.8 531.7,622.1 532.4,622.3 533.1,622.5 533.9,622.7 534.6,622.9 535.3,623.1 536.0,623.3 536.8,623.5 537.5,623.7 538.2,623.9 539.0,624.1 539.7,624.3 540.5,624.5 541.2,624.6 541.9,624.8 542.7,625.0 543.4,625.1 544.2,625.3 544.9,625.5 545.7,625.6 546.4,625.8 547.2,625.9 547.9,626.1 548.7,626.2 549.5,626.4 550.2,626.5 551.0,626.6 551.7,626.8 552.5,626.9 553.3,627.0 554.0,627.1 554.8,627.2 555.6,627.4 556.3,627.5 557.1,627.6 557.9,627.7 558.7,627.8 559.4,627.9 560.2,628.0 561.0,628.1 561.8,628.2 562.6,628.3 563.3,628.4 564.1,628.5 564.9,628.6 565.7,628.7 566.5,628.7 567.2,628.8 568.0,628.9 568.8,629.0 569.6,629.0 570.4,629.1 571.2,629.2 572.0,629.3 572.8,629.3 573.6,629.4 574.3,629.5 575.1,629.5 575.9,629.6 576.7,629.6 577.5,629.7 578.3,629.8 579.1,629.8 579.9,629.9 580.7,629.9 581.5,630.0 582.3,630.0 583.1,630.1 583.9,630.1 584.7,630.1 585.5,630.2 586.3,630.2 587.1,630.3 587.9,630.3 588.7,630.4 589.5,630.4 590.3,630.4 591.1,630.5 591.9,630.5 592.7,630.5 593.5,630.6 594.3,630.6 595.1,630.6 595.9,630.7 596.7,630.7 597.5,630.7 598.3,630.8 599.1,630.8 599.9,630.8 600.7,630.9 601.5,630.9 602.3,630.9 603.1,630.9 603.9,631.0 604.7,631.0 605.5,631.0 606.3,631.1 607.1,631.1 607.9,631.1 608.7,631.1 609.5,631.2 610.3,631.2 611.1,631.2 611.9,631.2 612.7,631.3 613.5,631.3 614.3,631.3 615.1,631.3 615.9,631.4 616.7,631.4 617.5,631.4 618.3,631.4 619.0,631.5 619.8,631.5 620.6,631.5 621.4,631.5 622.2,631.6 623.0,631.6 623.8,631.6 624.6,631.6 625.4,631.7 626.2,631.7 627.0,631.7 627.8,631.7 628.6,631.7 629.4,631.8 630.2,631.8 631.0,631.8 631.8,631.8 632.6,631.8 633.4,631.9 634.1,631.9 634.9,631.9 635.7,631.9 636.5,631.9 637.3,632.0 638.1,632.0 638.9,632.0 639.7,632.0 640.5,632.0 641.3,632.0 642.1,632.1 642.9,632.1 643.7,632.1 644.5,632.1 645.2,632.1 646.0,632.1 646.8,632.2 647.6,632.2 648.4,632.2 649.2,632.2 650.0,632.2 650.8,632.2 651.6,632.3 652.4,632.3 653.2,632.3 653.9,632.3 654.7,632.3 655.5,632.3 656.3,632.3 657.1,632.4 657.9,632.4 658.7,632.4 659.5,632.4 660.3,632.4 661.1,632.4 661.8,632.4 662.6,632.4 663.4,632.5 664.2,632.5 665.0,632.5 665.8,632.5 666.6,632.5 667.4,632.5 668.2,632.5 668.9,632.5 669.7,632.5 670.5,632.6 671.3,632.6 672.1,632.6 672.9,632.6 673.7,632.6 674.5,632.6 675.2,632.6 676.0,632.6 676.8,632.6 677.6,632.6 678.4,632.7 679.2,632.7 680.0,632.7 680.8,632.7 681.5,632.7 682.3,632.7 683.1,632.7 683.9,632.7 684.7,632.7 685.5,632.7 686.3,632.7 687.0,632.7 687.8,632.8 688.6,632.8 689.4,632.8 690.2,632.8 691.0,632.8 691.8,632.8 692.5,632.8 693.3,632.8 694.1,632.8 694.9,632.8 695.7,632.8 696.5,632.8 697.3,632.8 698.0,632.8 698.8,632.8 699.6,632.8 700.4,632.9 701.2,632.9 702.0,632.9 702.8,632.9 703.5,632.9 704.3,632.9 705.1,632.9 705.9,632.9 706.7,632.9 707.5,632.9 708.2,632.9 709.0,632.9 709.8,632.9 710.6,632.9 711.4,632.9 712.2,632.9 712.9,632.9 713.7,632.9 714.5,632.9 715.3,632.9 716.1,632.9 716.9,632.9 717.7,632.9 718.4,632.9 719.2,633.0 720.0,633.0 720.8,633.0 721.6,633.0 722.4,633.0 723.1,633.0 723.9,633.0 724.7,633.0 725.5,633.0 726.3,633.0 727.1,633.0 727.8,633.0 728.6,633.0 729.4,633.0 730.2,633.0 731.0,633.0 731.8,633.0 732.5,633.0 733.3,633.0 734.1,633.0 734.9,633.0 735.7,633.0 736.4,633.0 737.2,633.0 738.0,633.0 738.8,633.0 739.6,633.0 740.4,633.0 741.1,633.0 741.9,633.0 742.7,633.0 743.5,633.0 744.3,633.0 745.1,633.0 745.8,633.0 746.6,633.0 747.4,633.0 748.2,633.0 749.0,633.0 749.8,633.0 750.5,633.0 751.3,633.0 752.1,633.0 752.9,633.0 753.7,633.0 754.4,633.0 755.2,633.0 756.0,633.0 756.8,633.0 757.6,633.0 758.4,633.0 759.1,633.0 759.9,633.0 760.7,633.0 761.5,633.0 762.3,633.0 763.1,633.0 763.8,633.0 764.6,633.0 765.4,633.0 766.2,633.0 767.0,633.0 767.8,633.0 768.5,633.0 769.3,633.0 770.1,633.0 770.9,633.0 771.7,633.0 772.4,633.0 773.2,633.0 774.0,633.0 774.8,633.0 775.6,633.0 776.4,633.0 777.1,633.0 777.9,633.0 778.7,633.0 779.5,633.0 780.3,633.0 781.1,633.0 781.8,633.0 782.6,633.0 783.4,633.0 784.2,633.0 785.0,633.0 785.8,633.0 786.5,633.0 787.3,633.0 788.1,633.0 788.9,633.0 789.7,633.0 790.5,633.0 791.2,633.0 792.0,633.0 792.8,633.0 793.6,633.0 794.4,633.0 795.2,633.0 795.9,633.0 796.7,633.0 797.5,633.0 798.3,633.0 799.1,633.0 799.9,633.0 800.6,633.0 801.4,633.0 802.2,633.0 803.0,633.0 803.8,633.0 804.6,633.0 805.3,633.0 806.1,633.0 806.9,633.0 807.7,633.0 808.5,633.0 809.3,633.0 810.0,633.0 810.8,633.0 811.6,633.0 812.4,633.0 813.2,633.0 814.0,633.0 814.8,633.0 815.5,633.0 816.3,633.1 817.1,633.1 817.9,633.1 818.7,633.1 819.5,633.1 820.2,633.1 821.0,633.1 821.8,633.1 822.6,633.1 823.4,633.1 824.2,633.1 825.0,633.1 825.7,633.1 826.5,633.1 827.3,633.1 828.1,633.1 828.9,633.1 829.7,633.1 830.5,633.1 831.2,633.1 832.0,633.1 832.8,633.1 833.6,633.1 834.4,633.1 835.2,633.1 836.0,633.1 836.8,633.1 837.5,633.1 838.3,633.1 839.1,633.1 839.9,633.1 840.7,633.2 841.5,633.2 842.3,633.2 843.1,633.2 843.8,633.2 844.6,633.2 845.4,633.2 846.2,633.2 847.0,633.2 847.8,633.2 848.6,633.2 849.4,633.2 850.1,633.2 850.9,633.2 851.7,633.2 852.5,633.2 853.3,633.2 854.1,633.2 854.9,633.3 855.7,633.3 856.5,633.3 857.2,633.3 858.0,633.3 858.8,633.3 859.6,633.3 860.4,633.3 861.2,633.3 862.0,633.3 862.8,633.3 863.6,633.3 864.4,633.3 865.1,633.4 865.9,633.4 866.7,633.4 867.5,633.4 868.3,633.4 869.1,633.4 869.9,633.4 870.7,633.4 871.5,633.4 872.3,633.4 873.1,633.4 873.8,633.5 874.6,633.5 875.4,633.5 876.2,633.5 877.0,633.5 877.8,633.5 878.6,633.5 879.4,633.5 880.2,633.5 881.0,633.6 881.8,633.6 882.6,633.6 883.4,633.6 884.2,633.6 884.9,633.6 885.7,633.6 886.5,633.6 887.3,633.7 888.1,633.7 888.9,633.7 889.7,633.7 890.5,633.7 891.3,633.7 892.1,633.7 892.9,633.8 893.7,633.8 894.5,633.8 895.3,633.8 896.1,633.8 896.9,633.8 897.7,633.8 898.5,633.9 899.3,633.9 900.1,633.9 900.9,633.9 901.6,633.9 902.4,633.9 903.2,634.0 904.0,634.0 904.8,634.0 905.6,634.0 906.4,634.0 907.2,634.1 908.0,634.1 908.8,634.1 909.6,634.1 910.4,634.1 911.2,634.1 912.0,634.2 912.8,634.2 913.6,634.2 914.4,634.2 915.2,634.2 916.0,634.3 916.8,634.3 917.6,634.3 918.4,634.3 919.2,634.4 920.0,634.4" stroke="#f50808" stroke-width="6"/>
<polyline points="183.8,634.7 184.5,634.6 185.2,634.5 185.9,634.5 186.6,634.4 187.3,634.3 188.0,634.3 188.7,634.2 189.5,634.2 190.2,634.1 191.0,634.1 191.7,634.1 192.5,634.1 193.2,634.1 194.0,634.1 194.8,634.1 195.6,634.1 196.4,634.1 197.2,634.1 198.0,634.1 198.8,634.1 199.6,634.1 200.4,634.1 201.2,634.1 202.1,634.1 202.9,634.1 203.7,634.1 204.6,634.1 205.4,634.1 206.2,634.1 207.1,634.1 207.9,634.1 208.8,634.1 209.7,634.1 210.5,634.1 211.4,634.1 212.3,634.1 213.1,634.1 214.0,634.1 214.9,634.1 215.8,634.1 216.6,634.1 217.5,634.1 218.4,634.1 219.3,634.1 220.2,634.1 221.1,634.1 222.0,634.1 222.8,634.1 223.7,634.1 224.6,634.1 225.5,634.1 226.4,634.1 227.3,634.1 228.2,634.1 229.1,634.1 230.0,634.1 230.9,634.0 231.8,634.0 232.7,634.0 233.6,634.0 234.5,633.9 235.4,633.9 236.3,633.9 237.2,633.8 238.1,633.8 239.0,633.8 239.9,633.7 240.8,633.7 241.6,633.6 242.5,633.5 243.4,633.5 244.3,633.4 245.2,633.3 246.0,633.2 246.9,633.1 247.8,633.1 248.7,633.0 249.5,632.9 250.4,632.7 251.3,632.6 252.1,632.5 253.0,632.4 253.8,632.2 254.7,632.1 255.5,632.0 256.3,631.8 257.2,631.7 258.0,631.5 258.8,631.3 259.7,631.1 260.5,630.9 261.3,630.7 262.1,630.5 262.9,630.3 263.7,630.1 264.5,629.9 265.3,629.7 266.1,629.4 266.8,629.2 267.6,628.9 268.4,628.6 269.1,628.4 269.9,628.1 270.6,627.8 271.4,627.5 272.1,627.2 272.8,626.8 273.5,626.5 274.2,626.2 275.0,625.8 275.7,625.4 276.3,625.1 277.0,624.7 277.7,624.3 278.4,623.9 279.0,623.5 279.7,623.1 280.4,622.7 281.0,622.2 281.6,621.8 282.3,621.3 282.9,620.9 283.5,620.4 284.1,619.9 284.7,619.5 285.3,619.0 285.9,618.5 286.5,618.0 287.1,617.4 287.7,616.9 288.3,616.4 288.8,615.9 289.4,615.3 290.0,614.8 290.5,614.2 291.1,613.6 291.6,613.1 292.1,612.5 292.7,611.9 293.2,611.3 293.7,610.7 294.2,610.1 294.7,609.5 295.2,608.8 295.7,608.2 296.2,607.6 296.7,606.9 297.2,606.3 297.7,605.7 298.1,605.0 298.6,604.3 299.1,603.7 299.5,603.0 300.0,602.3 300.4,601.6 300.9,600.9 301.3,600.2 301.7,599.5 302.2,598.8 302.6,598.1 303.0,597.4 303.5,596.7 303.9,595.9 304.3,595.2 304.7,594.5 305.1,593.7 305.5,593.0 305.9,592.3 306.3,591.5 306.7,590.7 307.0,590.0 307.4,589.2 307.8,588.4 308.2,587.7 308.5,586.9 308.9,586.1 309.3,585.3 309.6,584.5 310.0,583.8 310.3,583.0 310.7,582.2 311.0,581.4 311.4,580.6 311.7,579.8 312.0,579.0 312.4,578.1 312.7,577.3 313.0,576.5 313.4,575.7 313.7,574.9 314.0,574.1 314.3,573.2 314.6,572.4 314.9,571.6 315.2,570.7 315.6,569.9 315.9,569.1 316.2,568.2 316.5,567.4 316.7,566.6 317.0,565.7 317.3,564.9 317.6,564.0 317.9,563.2 318.2,562.4 318.5,561.5 318.8,560.7 319.0,559.8 319.3,559.0 319.6,558.1 319.9,557.3 320.1,556.4 320.4,555.6 320.7,554.7 320.9,553.9 321.2,553.0 321.5,552.2 321.7,551.3 322.0,550.5 322.3,549.6 322.5,548.8 322.8,547.9 323.0,547.1 323.3,546.2 323.5,545.4 323.8,544.5 324.0,543.7 324.3,542.9 324.5,542.0 324.8,541.2 325.0,540.3 325.3,539.5 325.5,538.6 325.8,537.8 326.0,537.0 326.2,536.1 326.5,535.3 326.7,534.4 327.0,533.6 327.2,532.7 327.4,531.9 327.7,531.1 327.9,530.2 328.1,529.4 328.4,528.6 328.6,527.7 328.8,526.9 329.0,526.0 329.3,525.2 329.5,524.4 329.7,523.5 329.9,522.7 330.2,521.9 330.4,521.0 330.6,520.2 330.8,519.4 331.0,518.5 331.3,517.7 331.5,516.9 331.7,516.0 331.9,515.2 332.1,514.4 332.3,513.5 332.5,512.7 332.8,511.9 333.0,511.0 333.2,510.2 333.4,509.4 333.6,508.6 333.8,507.7 334.0,506.9 334.2,506.1 334.4,505.2 334.6,504.4 334.8,503.6 335.0,502.8 335.2,501.9 335.4,501.1 335.6,500.3 335.8,499.4 336.0,498.6 336.2,497.8 336.4,497.0 336.6,496.1 336.8,495.3 337.0,494.5 337.1,493.7 337.3,492.8 337.5,492.0 337.7,491.2 337.9,490.4 338.1,489.6 338.3,488.7 338.5,487.9 338.6,487.1 338.8,486.3 339.0,485.4 339.2,484.6 339.4,483.8 339.6,483.0 339.7,482.2 339.9,481.3 340.1,480.5 340.3,479.7 340.5,478.9 340.6,478.1 340.8,477.2 341.0,476.4 341.2,475.6 341.3,474.8 341.5,474.0 341.7,473.1 341.9,472.3 342.0,471.5 342.2,470.7 342.4,469.9 342.5,469.1 342.7,468.2 342.9,467.4 343.0,466.6 343.2,465.8 343.4,465.0 343.5,464.2 343.7,463.3 343.9,462.5 344.0,461.7 344.2,460.9 344.4,460.1 344.5,459.3 344.7,458.4 344.9,457.6 345.0,456.8 345.2,456.0 345.3,455.2 345.5,454.4 345.7,453.5 345.8,452.7 346.0,451.9 346.1,451.1 346.3,450.3 346.5,449.5 346.6,448.7 346.8,447.8 346.9,447.0 347.1,446.2 347.3,445.4 347.4,444.6 347.6,443.8 347.7,443.0 347.9,442.2 348.0,441.3 348.2,440.5 348.3,439.7 348.5,438.9 348.6,438.1 348.8,437.3 348.9,436.5 349.1,435.6 349.3,434.8 349.4,434.0 349.6,433.2 349.7,432.4 349.9,431.6 350.0,430.8 350.2,430.0 350.3,429.1 350.5,428.3 350.6,427.5 350.8,426.7 350.9,425.9 351.1,425.1 351.2,424.3 351.4,423.5 351.5,422.6 351.7,421.8 351.8,421.0 351.9,420.2 352.1,419.4 352.2,418.6 352.4,417.8 352.5,417.0 352.7,416.1 352.8,415.3 353.0,414.5 353.1,413.7 353.3,412.9 353.4,412.1 353.6,411.3 353.7,410.5 353.9,409.6 354.0,408.8 354.2,408.0 354.3,407.2 354.4,406.4 354.6,405.6 354.7,404.8 354.9,403.9 355.0,403.1 355.2,402.3 355.3,401.5 355.5,400.7 355.6,399.9 355.8,399.1 355.9,398.2 356.1,397.4 356.2,396.6 356.3,395.8 356.5,395.0 356.6,394.2 356.8,393.4 356.9,392.5 357.1,391.7 357.2,390.9 357.4,390.1 357.5,389.3 357.7,388.5 357.8,387.7 358.0,386.8 358.1,386.0 358.3,385.2 358.4,384.4 358.6,383.6 358.7,382.8 358.8,381.9 359.0,381.1 359.1,380.3 359.3,379.5 359.4,378.7 359.6,377.9 359.7,377.0 359.9,376.2 360.0,375.4 360.2,374.6 360.3,373.8 360.5,373.0 360.6,372.1 360.8,371.3 360.9,370.5 361.1,369.7 361.2,368.9 361.4,368.0 361.6,367.2 361.7,366.4 361.9,365.6 362.0,364.8 362.2,363.9 362.3,363.1 362.5,362.3 362.6,361.5 362.8,360.7 362.9,359.8 363.1,359.0 363.2,358.2 363.4,357.4 363.6,356.6 363.7,355.7 363.9,354.9 364.0,354.1 364.2,353.3 364.3,352.4 364.5,351.6 364.7,350.8 364.8,350.0 365.0,349.1 365.1,348.3 365.3,347.5 365.5,346.6 365.6,345.8 365.8,345.0 365.9,344.1 366.1,343.3 366.2,342.5 366.4,341.6 366.6,340.8 366.7,339.9 366.9,339.1 367.0,338.3 367.2,337.4 367.3,336.6 367.5,335.7 367.6,334.9 367.8,334.0 368.0,333.2 368.1,332.3 368.3,331.5 368.4,330.6 368.6,329.8 368.7,328.9 368.9,328.0 369.0,327.2 369.2,326.3 369.3,325.5 369.5,324.6 369.6,323.7 369.8,322.8 369.9,322.0 370.1,321.1 370.2,320.2 370.3,319.3 370.5,318.4 370.6,317.6 370.8,316.7 370.9,315.8 371.0,314.9 371.2,314.0 371.3,313.1 371.5,312.2 371.6,311.3 371.7,310.4 371.9,309.5 372.0,308.6 372.1,307.7 372.3,306.7 372.4,305.8 372.5,304.9 372.7,304.0 372.8,303.1 372.9,302.1 373.1,301.2 373.2,300.3 373.4,299.3 373.5,298.4 373.6,297.5 373.8,296.6 374.0,295.6 374.1,294.7 374.3,293.8 374.5,292.8 374.6,291.9 374.8,291.0 375.0,290.0 375.2,289.1 375.4,288.2 375.6,287.2 375.8,286.3 376.1,285.4 376.3,284.5 376.6,283.5 376.8,282.6 377.1,281.7 377.3,280.8 377.6,279.9 377.9,279.0 378.2,278.1 378.5,277.2 378.9,276.3 379.2,275.5 379.5,274.6 379.9,273.8 380.2,273.1 380.6,272.3 380.9,271.6 381.3,270.9 381.7,270.3 382.1,269.7 382.4,269.2 382.8,268.7 383.2,268.2 383.6,267.8 384.0,267.5 384.4,267.2 384.8,267.0 385.2,266.8 385.6,266.7 386.0,266.7 386.5,266.7 386.9,266.9 387.3,267.1 387.7,267.3 388.1,267.6 388.5,268.0 388.9,268.4 389.3,268.9 389.7,269.4 390.1,270.0 390.5,270.6 390.9,271.3 391.3,272.0 391.7,272.7 392.1,273.5 392.5,274.3 392.9,275.1 393.3,275.9 393.6,276.8 394.0,277.7 394.3,278.6 394.7,279.5 395.0,280.4 395.4,281.3 395.7,282.2 396.0,283.1 396.4,284.1 396.7,285.0 397.0,285.9 397.3,286.8 397.6,287.7 397.8,288.6 398.1,289.5 398.4,290.4 398.6,291.3 398.9,292.2 399.2,293.1 399.4,294.0 399.6,294.9 399.9,295.8 400.1,296.7 400.3,297.5 400.5,298.4 400.7,299.3 400.9,300.2 401.1,301.1 401.3,301.9 401.5,302.8 401.7,303.7 401.9,304.6 402.1,305.4 402.2,306.3 402.4,307.2 402.5,308.0 402.7,308.9 402.9,309.8 403.0,310.6 403.1,311.5 403.3,312.4 403.4,313.2 403.6,314.1 403.7,314.9 403.8,315.8 403.9,316.6 404.1,317.5 404.2,318.4 404.3,319.2 404.4,320.1 404.5,320.9 404.6,321.8 404.7,322.6 404.8,323.4 404.9,324.3 405.0,325.1 405.1,326.0 405.2,326.8 405.3,327.7 405.4,328.5 405.5,329.4 405.6,330.2 405.7,331.0 405.8,331.9 405.8,332.7 405.9,333.5 406.0,334.4 406.1,335.2 406.2,336.1 406.3,336.9 406.4,337.7 406.4,338.6 406.5,339.4 406.6,340.2 406.7,341.1 406.8,341.9 406.9,342.7 406.9,343.6 407.0,344.4 407.1,345.2 407.2,346.1 407.3,346.9 407.4,347.7 407.5,348.6 407.6,349.4 407.7,350.2 407.8,351.1 407.8,351.9 407.9,352.7 408.0,353.6 408.2,354.4 408.3,355.2 408.4,356.1 408.5,356.9 408.6,357.7 408.7,358.6 408.8,359.4 408.9,360.2 409.0,361.1 409.1,361.9 409.3,362.8 409.4,363.6 409.5,364.4 409.6,365.3 409.7,366.1 409.9,366.9 410.0,367.8 410.1,368.6 410.3,369.4 410.4,370.3 410.5,371.1 410.7,371.9 410.8,372.8 410.9,373.6 411.1,374.4 411.2,375.3 411.3,376.1 411.5,376.9 411.6,377.8 411.8,378.6 411.9,379.4 412.1,380.3 412.2,381.1 412.4,381.9 412.5,382.8 412.7,383.6 412.8,384.4 413.0,385.3 413.2,386.1 413.3,386.9 413.5,387.8 413.6,388.6 413.8,389.4 414.0,390.3 414.1,391.1 414.3,391.9 414.5,392.7 414.6,393.6 414.8,394.4 415.0,395.2 415.1,396.1 415.3,396.9 415.5,397.7 415.7,398.6 415.8,399.4 416.0,400.2 416.2,401.1 416.4,401.9 416.6,402.7 416.8,403.6 416.9,404.4 417.1,405.2 417.3,406.0 417.5,406.9 417.7,407.7 417.9,408.5 418.1,409.4 418.3,410.2 418.5,411.0 418.7,411.8 418.9,412.7 419.1,413.5 419.2,414.3 419.4,415.2 419.6,416.0 419.9,416.8 420.1,417.6 420.3,418.5 420.5,419.3 420.7,420.1 420.9,421.0 421.1,421.8 421.3,422.6 421.5,423.4 421.7,424.3 421.9,425.1 422.1,425.9 422.3,426.7 422.6,427.6 422.8,428.4 423.0,429.2 423.2,430.0 423.4,430.9 423.6,431.7 423.9,432.5 424.1,433.3 424.3,434.1 424.5,435.0 424.8,435.8 425.0,436.6 425.2,437.4 425.4,438.3 425.7,439.1 425.9,439.9 426.1,440.7 426.3,441.5 426.6,442.4 426.8,443.2 427.0,444.0 427.3,444.8 427.5,445.6 427.7,446.5 428.0,447.3 428.2,448.1 428.4,448.9 428.7,449.7 428.9,450.5 429.2,451.4 429.4,452.2 429.6,453.0 429.9,453.8 430.1,454.6 430.4,455.4 430.6,456.3 430.8,457.1 431.1,457.9 431.3,458.7 431.6,459.5 431.8,460.3 432.1,461.1 432.3,461.9 432.6,462.8 432.8,463.6 433.1,464.4 433.3,465.2 433.6,466.0 433.8,466.8 434.1,467.6 434.3,468.4 434.6,469.2 434.8,470.0 435.1,470.9 435.3,471.7 435.6,472.5 435.8,473.3 436.1,474.1 436.4,474.9 436.6,475.7 436.9,476.5 437.1,477.3 437.4,478.1 437.6,478.9 437.9,479.7 438.2,480.5 438.4,481.3 438.7,482.1 439.0,482.9 439.2,483.7 439.5,484.5 439.7,485.3 440.0,486.1 440.3,486.9 440.5,487.7 440.8,488.5 441.1,489.3 441.3,490.1 441.6,490.9 441.9,491.7 442.1,492.5 442.4,493.3 442.7,494.1 442.9,494.9 443.2,495.7 443.5,496.5 443.7,497.3 444.0,498.1 444.3,498.9 444.5,499.7 444.8,500.4 445.1,501.2 445.3,502.0 445.6,502.8 445.9,503.6 446.1,504.4 446.4,505.2 446.7,506.0 447.0,506.8 447.2,507.5 447.5,508.3 447.8,509.1 448.1,509.9 448.3,510.7 448.6,511.5 448.9,512.3 449.2,513.0 449.4,513.8 449.7,514.6 450.0,515.4 450.3,516.2 450.6,516.9 450.8,517.7 451.1,518.5 451.4,519.3 451.7,520.0 452.0,520.8 452.3,521.6 452.6,522.4 452.9,523.1 453.2,523.9 453.4,524.7 453.7,525.5 454.0,526.2 454.3,527.0 454.6,527.8 454.9,528.5 455.2,529.3 455.5,530.1 455.8,530.8 456.2,531.6 456.5,532.4 456.8,533.1 457.1,533.9 457.4,534.7 457.7,535.4 458.0,536.2 458.4,536.9 458.7,537.7 459.0,538.4 459.3,539.2 459.6,540.0 460.0,540.7 460.3,541.5 460.6,542.2 461.0,543.0 461.3,543.7 461.7,544.5 462.0,545.2 462.3,546.0 462.7,546.7 463.0,547.5 463.4,548.2 463.7,549.0 464.1,549.7 464.5,550.4 464.8,551.2 465.2,551.9 465.6,552.7 465.9,553.4 466.3,554.1 466.7,554.9 467.0,555.6 467.4,556.4 467.8,557.1 468.2,557.8 468.6,558.6 469.0,559.3 469.4,560.0 469.8,560.7 470.2,561.5 470.6,562.2 471.0,562.9 471.4,563.6 471.8,564.4 472.2,565.1 472.6,565.8 473.1,566.5 473.5,567.3 473.9,568.0 474.3,568.7 474.8,569.4 475.2,570.1 475.7,570.8 476.1,571.5 476.6,572.3 477.0,573.0 477.5,573.7 477.9,574.4 478.4,575.1 478.9,575.8 479.3,576.5 479.8,577.2 480.3,577.9 480.8,578.6 481.3,579.3 481.7,580.0 482.2,580.7 482.7,581.4 483.2,582.0 483.7,582.7 484.3,583.4 484.8,584.1 485.3,584.8 485.8,585.5 486.3,586.1 486.8,586.8 487.4,587.5 487.9,588.1 488.4,588.8 489.0,589.4 489.5,590.1 490.1,590.7 490.6,591.4 491.2,592.0 491.7,592.7 492.3,593.3 492.9,594.0 493.4,594.6 494.0,595.2 494.6,595.8 495.2,596.4 495.8,597.1 496.4,597.7 496.9,598.3 497.5,598.9 498.1,599.5 498.7,600.0 499.4,600.6 500.0,601.2 500.6,601.8 501.2,602.4 501.8,602.9 502.4,603.5 503.1,604.0 503.7,604.6 504.3,605.1 505.0,605.7 505.6,606.2 506.3,606.7 506.9,607.2 507.6,607.7 508.2,608.3 508.9,608.8 509.6,609.2 510.2,609.7 510.9,610.2 511.6,610.7 512.3,611.2 512.9,611.6 513.6,612.1 514.3,612.5 515.0,613.0 515.7,613.4 516.4,613.8 517.1,614.2 517.8,614.7 518.6,615.1 519.3,615.5 520.0,615.8 520.7,616.2 521.4,616.6 522.2,617.0 522.9,617.3 523.6,617.7 524.4,618.0 525.1,618.3 525.9,618.7 526.6,619.0 527.4,619.3 528.2,619.6 528.9,619.9 529.7,620.2 530.5,620.4 531.2,620.7 532.0,621.0 532.8,621.2 533.6,621.5 534.4,621.7 535.2,621.9 536.0,622.1 536.8,622.4 537.6,622.6 538.4,622.8 539.2,623.0 540.0,623.2 540.8,623.3 541.6,623.5 542.4,623.7 543.2,623.9 544.0,624.0 544.9,624.2 545.7,624.3 546.5,624.5 547.3,624.6 548.2,624.8 549.0,624.9 549.8,625.0 550.6,625.2 551.5,625.3 552.3,625.4 553.2,625.5 554.0,625.6 554.8,625.7 555.7,625.8 556.5,625.9 557.4,626.0 558.2,626.1 559.0,626.2 559.9,626.3 560.7,626.4 561.6,626.5 562.4,626.6 563.3,626.7 564.1,626.7 565.0,626.8 565.8,626.9 566.7,627.0 567.5,627.0 568.4,627.1 569.2,627.2 570.1,627.3 570.9,627.3 571.8,627.4 572.6,627.5 573.5,627.6 574.3,627.6 575.2,627.7 576.0,627.8 576.9,627.8 577.7,627.9 578.6,628.0 579.4,628.0 580.3,628.1 581.1,628.2 581.9,628.2 582.8,628.3 583.6,628.4 584.5,628.4 585.3,628.5 586.2,628.6 587.0,628.6 587.9,628.7 588.7,628.7 589.6,628.8 590.4,628.9 591.3,628.9 592.1,629.0 593.0,629.0 593.8,629.1 594.7,629.1 595.5,629.2 596.4,629.3 597.2,629.3 598.1,629.4 598.9,629.4 599.8,629.5 600.6,629.5 601.5,629.6 602.3,629.6 603.1,629.7 604.0,629.7 604.8,629.8 605.7,629.8 606.5,629.9 607.4,629.9 608.2,630.0 609.1,630.0 609.9,630.1 610.8,630.1 611.6,630.1 612.5,630.2 613.3,630.2 614.2,630.3 615.0,630.3 615.9,630.4 616.7,630.4 617.6,630.4 618.4,630.5 619.2,630.5 620.1,630.6 620.9,630.6 621.8,630.6 622.6,630.7 623.5,630.7 624.3,630.8 625.2,630.8 626.0,630.8 626.9,630.9 627.7,630.9 628.6,630.9 629.4,631.0 630.3,631.0 631.1,631.0 632.0,631.1 632.8,631.1 633.6,631.1 634.5,631.2 635.3,631.2 636.2,631.2 637.0,631.3 637.9,631.3 638.7,631.3 639.6,631.4 640.4,631.4 641.3,631.4 642.1,631.4 643.0,631.5 643.8,631.5 644.6,631.5 645.5,631.6 646.3,631.6 647.2,631.6 648.0,631.6 648.9,631.7 649.7,631.7 650.6,631.7 651.4,631.7 652.3,631.7 653.1,631.8 654.0,631.8 654.8,631.8 655.6,631.8 656.5,631.9 657.3,631.9 658.2,631.9 659.0,631.9 659.9,631.9 660.7,632.0 661.6,632.0 662.4,632.0 663.3,632.0 664.1,632.0 665.0,632.1 665.8,632.1 666.6,632.1 667.5,632.1 668.3,632.1 669.2,632.1 670.0,632.1 670.9,632.2 671.7,632.2 672.6,632.2 673.4,632.2 674.3,632.2 675.1,632.2 675.9,632.2 676.8,632.3 677.6,632.3 678.5,632.3 679.3,632.3 680.2,632.3 681.0,632.3 681.9,632.3 682.7,632.3 683.6,632.4 684.4,632.4 685.2,632.4 686.1,632.4 686.9,632.4 687.8,632.4 688.6,632.4 689.5,632.4 690.3,632.4 691.2,632.4 692.0,632.4 692.9,632.5 693.7,632.5 694.5,632.5 695.4,632.5 696.2,632.5 697.1,632.5 697.9,632.5 698.8,632.5 699.6,632.5 700.5,632.5 701.3,632.5 702.2,632.5 703.0,632.5 703.8,632.5 704.7,632.5 705.5,632.5 706.4,632.5 707.2,632.5 708.1,632.6 708.9,632.6 709.8,632.6 710.6,632.6 711.5,632.6 712.3,632.6 713.1,632.6 714.0,632.6 714.8,632.6 715.7,632.6 716.5,632.6 717.4,632.6 718.2,632.6 719.1,632.6 719.9,632.6 720.7,632.6 721.6,632.6 722.4,632.6 723.3,632.6 724.1,632.6 725.0,632.6 725.8,632.6 726.7,632.6 727.5,632.6 728.4,632.6 729.2,632.6 730.0,632.6 730.9,632.6 731.7,632.6 732.6,632.6 733.4,632.6 734.3,632.6 735.1,632.6 736.0,632.6 736.8,632.6 737.6,632.6 738.5,632.6 739.3,632.6 740.2,632.6 741.0,632.6 741.9,632.6 742.7,632.6 743.6,632.6 744.4,632.6 745.3,632.5 746.1,632.5 746.9,632.5 747.8,632.5 748.6,632.5 749.5,632.5 750.3,632.5 751.2,632.5 752.0,632.5 752.9,632.5 753.7,632.5 754.5,632.5 755.4,632.5 756.2,632.5 757.1,632.5 757.9,632.5 758.8,632.5 759.6,632.5 760.5,632.5 761.3,632.5 762.2,632.5 763.0,632.5 763.8,632.5 764.7,632.5 765.5,632.5 766.4,632.5 767.2,632.5 768.1,632.5 768.9,632.5 769.8,632.4 770.6,632.4 771.4,632.4 772.3,632.4 773.1,632.4 774.0,632.4 774.8,632.4 775.7,632.4 776.5,632.4 777.4,632.4 778.2,632.4 779.1,632.4 779.9,632.4 780.7,632.4 781.6,632.4 782.4,632.4 783.3,632.4 784.1,632.4 785.0,632.4 785.8,632.4 786.7,632.4 787.5,632.4 788.3,632.4 789.2,632.4 790.0,632.4 790.9,632.4 791.7,632.4 792.6,632.4 793.4,632.3 794.3,632.3 795.1,632.3 796.0,632.3 796.8,632.3 797.6,632.3 798.5,632.3 799.3,632.3 800.2,632.3 801.0,632.3 801.9,632.3 802.7,632.3 803.6,632.3 804.4,632.3 805.3,632.3 806.1,632.3 806.9,632.3 807.8,632.3 808.6,632.3 809.5,632.3 810.3,632.3 811.2,632.3 812.0,632.3 812.9,632.3 813.7,632.3 814.6,632.3 815.4,632.3 816.2,632.3 817.1,632.3 817.9,632.3 818.8,632.3 819.6,632.3 820.5,632.3 821.3,632.3 822.2,632.3 823.0,632.3 823.9,632.3 824.7,632.3 825.5,632.3 826.4,632.3 827.2,632.3 828.1,632.3 828.9,632.3 829.8,632.3 830.6,632.3 831.5,632.3 832.3,632.4 833.2,632.4 834.0,632.4 834.8,632.4 835.7,632.4 836.5,632.4 837.4,632.4 838.2,632.4 839.1,632.4 839.9,632.4 840.8,632.4 841.6,632.4 842.5,632.4 843.3,632.4 844.2,632.4 845.0,632.4 845.8,632.4 846.7,632.5 847.5,632.5 848.4,632.5 849.2,632.5 850.1,632.5 850.9,632.5 851.8,632.5 852.6,632.5 853.5,632.5 854.3,632.5 855.2,632.5 856.0,632.6 856.8,632.6 857.7,632.6 858.5,632.6 859.4,632.6 860.2,632.6 861.1,632.6 861.9,632.6 862.8,632.6 863.6,632.7 864.5,632.7 865.3,632.7 866.2,632.7 867.0,632.7 867.8,632.7 868.7,632.8 869.5,632.8 870.4,632.8 871.2,632.8 872.1,632.8 872.9,632.8 873.8,632.8 874.6,632.9 875.5,632.9 876.3,632.9 877.2,632.9 878.0,632.9 878.9,633.0 879.7,633.0 880.5,633.0 881.4,633.0 882.2,633.0 883.1,633.1 883.9,633.1 884.8,633.1 885.6,633.1 886.5,633.2 887.3,633.2 888.2,633.2 889.0,633.2 889.9,633.2 890.7,633.3 891.6,633.3 892.4,633.3 893.3,633.3 894.1,633.4 895.0,633.4 895.8,633.4 896.6,633.5 897.5,633.5 898.3,633.5 899.2,633.5 900.0,633.6 900.9,633.6 901.7,633.6 902.6,633.7 903.4,633.7 904.3,633.7 905.1,633.8 906.0,633.8 906.8,633.8 907.7,633.9 908.5,633.9 909.4,633.9 910.2,634.0 911.1,634.0 911.9,634.0 912.8,634.1 913.6,634.1 914.5,634.1 915.3,634.2 916.1,634.2 917.0,634.3 917.8,634.3 918.7,634.3 919.5,634.4 920.4,634.4 921.2,634.5 922.1,634.5" stroke="#0c0ceb" stroke-width="6"/>
<polyline points="183.5,634.7 184.3,634.7 185.0,634.7 185.8,634.7 186.6,634.6 187.4,634.5 188.1,634.4 188.9,634.3 189.7,634.2 190.5,634.1 191.3,634.0 192.1,634.0 193.0,633.9 193.8,633.8 194.6,633.8 195.5,633.7 196.3,633.7 197.1,633.6 198.0,633.6 198.8,633.6 199.7,633.6 200.6,633.6 201.4,633.6 202.3,633.6 203.2,633.6 204.0,633.6 204.9,633.6 205.8,633.6 206.7,633.6 207.6,633.6 208.5,633.6 209.4,633.6 210.3,633.6 211.2,633.6 212.1,633.6 213.0,633.6 213.9,633.6 214.8,633.6 215.8,633.6 216.7,633.6 217.6,633.6 218.5,633.6 219.4,633.6 220.4,633.6 221.3,633.6 222.2,633.6 223.1,633.6 224.1,633.6 225.0,633.6 225.9,633.6 226.8,633.6 227.8,633.6 228.7,633.6 229.6,633.6 230.6,633.6 231.5,633.6 232.4,633.6 233.4,633.6 234.3,633.6 235.2,633.6 236.1,633.5 237.1,633.5 238.0,633.5 238.9,633.5 239.8,633.4 240.7,633.4 241.7,633.3 242.6,633.3 243.5,633.2 244.4,633.2 245.3,633.1 246.2,633.0 247.1,633.0 248.0,632.9 248.9,632.8 249.8,632.7 250.7,632.6 251.6,632.5 252.5,632.4 253.4,632.2 254.2,632.1 255.1,632.0 256.0,631.8 256.9,631.7 257.7,631.5 258.6,631.3 259.4,631.1 260.3,630.9 261.1,630.7 262.0,630.5 262.8,630.3 263.6,630.1 264.4,629.8 265.3,629.6 266.1,629.3 266.9,629.1 267.7,628.8 268.5,628.5 269.3,628.2 270.0,627.9 270.8,627.6 271.6,627.2 272.4,626.9 273.1,626.5 273.9,626.2 274.6,625.8 275.3,625.4 276.1,625.0 276.8,624.5 277.5,624.1 278.2,623.7 278.9,623.2 279.6,622.7 280.3,622.2 280.9,621.7 281.6,621.2 282.3,620.7 282.9,620.1 283.6,619.6 284.2,619.0 284.8,618.5 285.4,617.9 286.1,617.3 286.7,616.7 287.3,616.1 287.9,615.4 288.4,614.8 289.0,614.2 289.6,613.5 290.2,612.8 290.7,612.2 291.3,611.5 291.8,610.8 292.4,610.1 292.9,609.4 293.4,608.7 294.0,608.0 294.5,607.3 295.0,606.5 295.5,605.8 296.0,605.1 296.5,604.3 297.0,603.6 297.4,602.8 297.9,602.1 298.4,601.3 298.9,600.5 299.3,599.8 299.8,599.0 300.2,598.2 300.7,597.4 301.1,596.6 301.5,595.8 302.0,595.1 302.4,594.3 302.8,593.5 303.2,592.7 303.6,591.9 304.0,591.1 304.4,590.3 304.8,589.5 305.2,588.7 305.6,587.9 306.0,587.0 306.4,586.2 306.8,585.4 307.1,584.6 307.5,583.8 307.9,583.0 308.2,582.2 308.6,581.4 308.9,580.5 309.3,579.7 309.6,578.9 309.9,578.1 310.3,577.2 310.6,576.4 310.9,575.6 311.3,574.8 311.6,573.9 311.9,573.1 312.2,572.3 312.5,571.4 312.8,570.6 313.1,569.8 313.4,568.9 313.7,568.1 314.0,567.3 314.3,566.4 314.6,565.6 314.9,564.7 315.2,563.9 315.5,563.1 315.8,562.2 316.0,561.4 316.3,560.5 316.6,559.7 316.8,558.8 317.1,558.0 317.4,557.1 317.6,556.3 317.9,555.4 318.1,554.6 318.4,553.7 318.6,552.9 318.9,552.0 319.1,551.2 319.4,550.3 319.6,549.5 319.9,548.6 320.1,547.7 320.4,546.9 320.6,546.0 320.8,545.2 321.1,544.3 321.3,543.5 321.5,542.6 321.8,541.7 322.0,540.9 322.2,540.0 322.4,539.2 322.7,538.3 322.9,537.4 323.1,536.6 323.3,535.7 323.5,534.9 323.8,534.0 324.0,533.1 324.2,532.3 324.4,531.4 324.6,530.5 324.8,529.7 325.1,528.8 325.3,528.0 325.5,527.1 325.7,526.2 325.9,525.4 326.1,524.5 326.3,523.6 326.5,522.8 326.8,521.9 327.0,521.1 327.2,520.2 327.4,519.3 327.6,518.5 327.8,517.6 328.0,516.7 328.2,515.9 328.4,515.0 328.7,514.2 328.9,513.3 329.1,512.4 329.3,511.6 329.5,510.7 329.7,509.9 329.9,509.0 330.1,508.1 330.3,507.3 330.5,506.4 330.7,505.5 330.9,504.7 331.2,503.8 331.4,503.0 331.6,502.1 331.8,501.2 332.0,500.4 332.2,499.5 332.4,498.7 332.6,497.8 332.8,496.9 333.0,496.1 333.2,495.2 333.4,494.4 333.6,493.5 333.8,492.6 334.0,491.8 334.2,490.9 334.4,490.1 334.6,489.2 334.9,488.3 335.1,487.5 335.3,486.6 335.5,485.8 335.7,484.9 335.9,484.0 336.1,483.2 336.3,482.3 336.5,481.5 336.7,480.6 336.9,479.7 337.1,478.9 337.3,478.0 337.5,477.2 337.7,476.3 337.9,475.4 338.1,474.6 338.3,473.7 338.5,472.9 338.7,472.0 338.9,471.1 339.1,470.3 339.2,469.4 339.4,468.5 339.6,467.7 339.8,466.8 340.0,466.0 340.2,465.1 340.4,464.2 340.6,463.4 340.8,462.5 341.0,461.7 341.2,460.8 341.4,459.9 341.6,459.1 341.8,458.2 342.0,457.4 342.2,456.5 342.3,455.6 342.5,454.8 342.7,453.9 342.9,453.0 343.1,452.2 343.3,451.3 343.5,450.5 343.7,449.6 343.9,448.7 344.1,447.9 344.2,447.0 344.4,446.1 344.6,445.3 344.8,444.4 345.0,443.6 345.2,442.7 345.4,441.8 345.5,441.0 345.7,440.1 345.9,439.2 346.1,438.4 346.3,437.5 346.5,436.7 346.6,435.8 346.8,434.9 347.0,434.1 347.2,433.2 347.4,432.3 347.5,431.5 347.7,430.6 347.9,429.7 348.1,428.9 348.3,428.0 348.4,427.1 348.6,426.3 348.8,425.4 349.0,424.5 349.1,423.7 349.3,422.8 349.5,421.9 349.7,421.1 349.8,420.2 350.0,419.3 350.2,418.5 350.4,417.6 350.5,416.7 350.7,415.9 350.9,415.0 351.1,414.1 351.2,413.3 351.4,412.4 351.6,411.5 351.7,410.7 351.9,409.8 352.1,408.9 352.2,408.1 352.4,407.2 352.6,406.3 352.7,405.5 352.9,404.6 353.1,403.7 353.2,402.8 353.4,402.0 353.6,401.1 353.7,400.2 353.9,399.4 354.0,398.5 354.2,397.6 354.4,396.7 354.5,395.9 354.7,395.0 354.8,394.1 355.0,393.2 355.2,392.4 355.3,391.5 355.5,390.6 355.6,389.8 355.8,388.9 355.9,388.0 356.1,387.1 356.2,386.3 356.4,385.4 356.5,384.5 356.7,383.6 356.9,382.7 357.0,381.9 357.2,381.0 357.3,380.1 357.5,379.2 357.6,378.4 357.7,377.5 357.9,376.6 358.0,375.7 358.2,374.9 358.3,374.0 358.5,373.1 358.6,372.2 358.8,371.3 358.9,370.5 359.1,369.6 359.2,368.7 359.3,367.8 359.5,366.9 359.6,366.0 359.8,365.2 359.9,364.3 360.0,363.4 360.2,362.5 360.3,361.6 360.4,360.7 360.6,359.9 360.7,359.0 360.8,358.1 361.0,357.2 361.1,356.3 361.2,355.4 361.4,354.6 361.5,353.7 361.6,352.8 361.8,351.9 361.9,351.0 362.0,350.1 362.2,349.2 362.3,348.4 362.4,347.5 362.5,346.6 362.7,345.7 362.8,344.8 362.9,343.9 363.0,343.0 363.2,342.2 363.3,341.3 363.4,340.4 363.5,339.5 363.7,338.6 363.8,337.7 363.9,336.9 364.0,336.0 364.2,335.1 364.3,334.2 364.4,333.3 364.5,332.5 364.7,331.6 364.8,330.7 364.9,329.8 365.0,329.0 365.1,328.1 365.3,327.2 365.4,326.3 365.5,325.5 365.6,324.6 365.7,323.7 365.9,322.9 366.0,322.0 366.1,321.1 366.2,320.3 366.4,319.4 366.5,318.5 366.6,317.7 366.7,316.8 366.8,316.0 367.0,315.1 367.1,314.3 367.2,313.4 367.3,312.5 367.5,311.7 367.6,310.8 367.7,310.0 367.8,309.2 367.9,308.3 368.1,307.5 368.2,306.6 368.3,305.8 368.4,304.9 368.6,304.1 368.7,303.3 368.8,302.5 368.9,301.6 369.1,300.8 369.2,300.0 369.3,299.1 369.4,298.3 369.6,297.5 369.7,296.7 369.8,295.9 370.0,295.0 370.1,294.2 370.2,293.4 370.4,292.5 370.5,291.7 370.6,290.9 370.7,290.0 370.9,289.2 371.0,288.3 371.1,287.4 371.3,286.6 371.4,285.7 371.6,284.8 371.7,283.9 371.8,283.0 372.0,282.1 372.1,281.2 372.3,280.2 372.4,279.3 372.5,278.4 372.7,277.4 372.8,276.5 373.0,275.5 373.1,274.5 373.3,273.5 373.5,272.6 373.6,271.6 373.8,270.6 374.0,269.6 374.1,268.6 374.3,267.5 374.5,266.5 374.6,265.5 374.8,264.5 375.0,263.4 375.2,262.4 375.4,261.3 375.6,260.3 375.8,259.2 376.0,258.1 376.2,257.0 376.4,256.0 376.6,254.9 376.9,253.8 377.1,252.7 377.3,251.7 377.6,250.6 377.8,249.5 378.0,248.5 378.3,247.5 378.5,246.5 378.8,245.5 379.1,244.5 379.3,243.5 379.6,242.6 379.9,241.7 380.1,240.8 380.4,239.9 380.7,239.1 381.0,238.3 381.3,237.6 381.6,236.9 381.9,236.2 382.2,235.6 382.5,235.0 382.8,234.5 383.1,234.0 383.4,233.5 383.7,233.2 384.0,232.8 384.3,232.6 384.7,232.3 385.0,232.2 385.3,232.1 385.7,232.1 386.0,232.1 386.3,232.2 386.7,232.4 387.0,232.6 387.4,232.9 387.7,233.3 388.1,233.7 388.4,234.1 388.8,234.6 389.1,235.1 389.5,235.7 389.8,236.4 390.2,237.0 390.5,237.7 390.9,238.5 391.2,239.3 391.6,240.1 391.9,240.9 392.3,241.8 392.6,242.7 393.0,243.6 393.3,244.6 393.6,245.5 394.0,246.5 394.3,247.5 394.6,248.5 394.9,249.6 395.2,250.6 395.5,251.7 395.8,252.7 396.1,253.8 396.4,254.8 396.7,255.9 397.0,256.9 397.3,258.0 397.5,259.0 397.8,260.0 398.0,261.0 398.3,262.1 398.5,263.1 398.7,264.1 399.0,265.1 399.2,266.0 399.4,267.0 399.6,268.0 399.8,269.0 400.0,269.9 400.2,270.9 400.4,271.8 400.6,272.8 400.7,273.7 400.9,274.7 401.1,275.6 401.3,276.5 401.4,277.4 401.6,278.4 401.7,279.3 401.9,280.2 402.0,281.1 402.2,282.0 402.3,282.9 402.4,283.8 402.6,284.7 402.7,285.6 402.8,286.4 402.9,287.3 403.1,288.2 403.2,289.1 403.3,290.0 403.4,290.8 403.5,291.7 403.6,292.6 403.8,293.4 403.9,294.3 404.0,295.2 404.1,296.0 404.2,296.9 404.3,297.8 404.4,298.6 404.5,299.5 404.6,300.4 404.7,301.2 404.8,302.1 404.9,303.0 405.1,303.8 405.2,304.7 405.3,305.5 405.4,306.4 405.5,307.3 405.6,308.1 405.7,309.0 405.8,309.9 405.9,310.7 406.0,311.6 406.1,312.5 406.2,313.3 406.3,314.2 406.5,315.0 406.6,315.9 406.7,316.8 406.8,317.6 406.9,318.5 407.0,319.4 407.1,320.2 407.2,321.1 407.3,322.0 407.4,322.8 407.6,323.7 407.7,324.6 407.8,325.4 407.9,326.3 408.0,327.2 408.1,328.0 408.2,328.9 408.4,329.8 408.5,330.6 408.6,331.5 408.7,332.3 408.8,333.2 408.9,334.1 409.0,334.9 409.2,335.8 409.3,336.7 409.4,337.5 409.5,338.4 409.6,339.3 409.8,340.1 409.9,341.0 410.0,341.9 410.1,342.7 410.2,343.6 410.4,344.5 410.5,345.3 410.6,346.2 410.7,347.1 410.9,347.9 411.0,348.8 411.1,349.7 411.2,350.5 411.4,351.4 411.5,352.3 411.6,353.1 411.7,354.0 411.9,354.9 412.0,355.7 412.1,356.6 412.3,357.5 412.4,358.3 412.5,359.2 412.7,360.1 412.8,361.0 412.9,361.8 413.1,362.7 413.2,363.6 413.3,364.4 413.5,365.3 413.6,366.2 413.8,367.0 413.9,367.9 414.0,368.8 414.2,369.6 414.3,370.5 414.5,371.4 414.6,372.2 414.8,373.1 414.9,374.0 415.1,374.8 415.2,375.7 415.3,376.6 415.5,377.4 415.6,378.3 415.8,379.2 416.0,380.1 416.1,380.9 416.3,381.8 416.4,382.7 416.6,383.5 416.7,384.4 416.9,385.3 417.0,386.1 417.2,387.0 417.4,387.9 417.5,388.7 417.7,389.6 417.9,390.5 418.0,391.4 418.2,392.2 418.4,393.1 418.5,394.0 418.7,394.8 418.9,395.7 419.0,396.6 419.2,397.4 419.4,398.3 419.6,399.2 419.7,400.1 419.9,400.9 420.1,401.8 420.3,402.7 420.4,403.5 420.6,404.4 420.8,405.3 421.0,406.1 421.2,407.0 421.4,407.9 421.6,408.8 421.7,409.6 421.9,410.5 422.1,411.4 422.3,412.2 422.5,413.1 422.7,414.0 422.9,414.8 423.1,415.7 423.3,416.6 423.5,417.5 423.7,418.3 423.9,419.2 424.1,420.1 424.3,420.9 424.5,421.8 424.7,422.7 424.9,423.5 425.1,424.4 425.3,425.3 425.5,426.1 425.7,427.0 426.0,427.9 426.2,428.8 426.4,429.6 426.6,430.5 426.8,431.4 427.0,432.2 427.2,433.1 427.5,434.0 427.7,434.8 427.9,435.7 428.1,436.6 428.4,437.4 428.6,438.3 428.8,439.2 429.0,440.0 429.3,440.9 429.5,441.8 429.7,442.6 429.9,443.5 430.2,444.3 430.4,445.2 430.6,446.1 430.9,446.9 431.1,447.8 431.4,448.7 431.6,449.5 431.8,450.4 432.1,451.2 432.3,452.1 432.6,453.0 432.8,453.8 433.1,454.7 433.3,455.5 433.5,456.4 433.8,457.3 434.0,458.1 434.3,459.0 434.5,459.8 434.8,460.7 435.0,461.6 435.3,462.4 435.6,463.3 435.8,464.1 436.1,465.0 436.3,465.8 436.6,466.7 436.8,467.5 437.1,468.4 437.4,469.2 437.6,470.1 437.9,471.0 438.2,471.8 438.4,472.7 438.7,473.5 439.0,474.4 439.2,475.2 439.5,476.1 439.8,476.9 440.1,477.7 440.3,478.6 440.6,479.4 440.9,480.3 441.2,481.1 441.4,482.0 441.7,482.8 442.0,483.7 442.3,484.5 442.6,485.4 442.8,486.2 443.1,487.0 443.4,487.9 443.7,488.7 444.0,489.6 444.3,490.4 444.6,491.2 444.8,492.1 445.1,492.9 445.4,493.7 445.7,494.6 446.0,495.4 446.3,496.3 446.6,497.1 446.9,497.9 447.2,498.8 447.5,499.6 447.8,500.4 448.1,501.2 448.4,502.1 448.7,502.9 449.0,503.7 449.3,504.6 449.6,505.4 449.9,506.2 450.2,507.0 450.5,507.9 450.9,508.7 451.2,509.5 451.5,510.3 451.8,511.1 452.1,512.0 452.4,512.8 452.7,513.6 453.0,514.4 453.4,515.2 453.7,516.1 454.0,516.9 454.3,517.7 454.6,518.5 455.0,519.3 455.3,520.1 455.6,520.9 455.9,521.7 456.3,522.6 456.6,523.4 456.9,524.2 457.2,525.0 457.6,525.8 457.9,526.6 458.2,527.4 458.6,528.2 458.9,529.0 459.2,529.8 459.6,530.6 459.9,531.4 460.3,532.2 460.6,533.0 461.0,533.8 461.3,534.6 461.6,535.4 462.0,536.2 462.3,537.0 462.7,537.8 463.1,538.6 463.4,539.3 463.8,540.1 464.1,540.9 464.5,541.7 464.9,542.5 465.2,543.3 465.6,544.1 466.0,544.9 466.3,545.6 466.7,546.4 467.1,547.2 467.5,548.0 467.8,548.8 468.2,549.5 468.6,550.3 469.0,551.1 469.4,551.9 469.8,552.6 470.2,553.4 470.6,554.2 471.0,555.0 471.4,555.7 471.8,556.5 472.2,557.3 472.6,558.0 473.0,558.8 473.4,559.6 473.9,560.3 474.3,561.1 474.7,561.9 475.1,562.6 475.6,563.4 476.0,564.1 476.4,564.9 476.9,565.7 477.3,566.4 477.8,567.2 478.2,567.9 478.7,568.7 479.1,569.4 479.6,570.2 480.1,570.9 480.5,571.7 481.0,572.4 481.5,573.2 482.0,573.9 482.4,574.7 482.9,575.4 483.4,576.2 483.9,576.9 484.4,577.6 484.9,578.4 485.4,579.1 485.9,579.9 486.4,580.6 487.0,581.3 487.5,582.1 488.0,582.8 488.5,583.5 489.1,584.3 489.6,585.0 490.1,585.7 490.7,586.4 491.2,587.2 491.8,587.9 492.3,588.6 492.9,589.4 493.5,590.1 494.0,590.8 494.6,591.5 495.2,592.2 495.8,593.0 496.4,593.7 497.0,594.4 497.6,595.1 498.2,595.8 498.8,596.5 499.4,597.2 500.0,597.9 500.6,598.6 501.2,599.3 501.9,600.0 502.5,600.7 503.1,601.3 503.8,602.0 504.4,602.7 505.1,603.3 505.8,604.0 506.4,604.6 507.1,605.2 507.8,605.8 508.4,606.5 509.1,607.1 509.8,607.7 510.5,608.3 511.2,608.8 511.9,609.4 512.6,610.0 513.3,610.5 514.0,611.0 514.8,611.6 515.5,612.1 516.2,612.6 517.0,613.1 517.7,613.6 518.5,614.0 519.2,614.5 520.0,614.9 520.7,615.3 521.5,615.7 522.3,616.1 523.0,616.5 523.8,616.9 524.6,617.3 525.4,617.6 526.2,618.0 527.0,618.3 527.8,618.6 528.6,618.9 529.4,619.2 530.2,619.5 531.1,619.8 531.9,620.1 532.7,620.3 533.5,620.6 534.4,620.8 535.2,621.1 536.0,621.3 536.9,621.5 537.7,621.7 538.6,621.9 539.4,622.1 540.3,622.3 541.1,622.5 542.0,622.7 542.8,622.8 543.7,623.0 544.6,623.2 545.4,623.3 546.3,623.5 547.2,623.6 548.0,623.7 548.9,623.9 549.8,624.0 550.6,624.1 551.5,624.2 552.4,624.4 553.3,624.5 554.1,624.6 555.0,624.7 555.9,624.8 556.8,624.9 557.7,625.0 558.5,625.1 559.4,625.2 560.3,625.3 561.2,625.4 562.1,625.5 563.0,625.6 563.8,625.7 564.7,625.8 565.6,625.9 566.5,626.0 567.4,626.1 568.2,626.2 569.1,626.2 570.0,626.3 570.9,626.4 571.8,626.5 572.7,626.6 573.5,626.7 574.4,626.8 575.3,626.9 576.2,626.9 577.1,627.0 577.9,627.1 578.8,627.2 579.7,627.3 580.6,627.3 581.5,627.4 582.4,627.5 583.2,627.6 584.1,627.6 585.0,627.7 585.9,627.8 586.8,627.9 587.7,627.9 588.5,628.0 589.4,628.1 590.3,628.2 591.2,628.2 592.1,628.3 593.0,628.4 593.8,628.4 594.7,628.5 595.6,628.6 596.5,628.6 597.4,628.7 598.3,628.8 599.1,628.8 600.0,628.9 600.9,628.9 601.8,629.0 602.7,629.1 603.6,629.1 604.4,629.2 605.3,629.2 606.2,629.3 607.1,629.3 608.0,629.4 608.9,629.5 609.7,629.5 610.6,629.6 611.5,629.6 612.4,629.7 613.3,629.7 614.2,629.8 615.0,629.8 615.9,629.9 616.8,629.9 617.7,630.0 618.6,630.0 619.5,630.1 620.3,630.1 621.2,630.2 622.1,630.2 623.0,630.3 623.9,630.3 624.8,630.3 625.6,630.4 626.5,630.4 627.4,630.5 628.3,630.5 629.2,630.6 630.1,630.6 631.0,630.6 631.8,630.7 632.7,630.7 633.6,630.7 634.5,630.8 635.4,630.8 636.3,630.9 637.1,630.9 638.0,630.9 638.9,631.0 639.8,631.0 640.7,631.0 641.6,631.1 642.5,631.1 643.3,631.1 644.2,631.2 645.1,631.2 646.0,631.2 646.9,631.2 647.8,631.3 648.6,631.3 649.5,631.3 650.4,631.4 651.3,631.4 652.2,631.4 653.1,631.4 654.0,631.5 654.8,631.5 655.7,631.5 656.6,631.5 657.5,631.6 658.4,631.6 659.3,631.6 660.2,631.6 661.0,631.7 661.9,631.7 662.8,631.7 663.7,631.7 664.6,631.7 665.5,631.8 666.3,631.8 667.2,631.8 668.1,631.8 669.0,631.8 669.9,631.9 670.8,631.9 671.7,631.9 672.5,631.9 673.4,631.9 674.3,631.9 675.2,631.9 676.1,632.0 677.0,632.0 677.9,632.0 678.7,632.0 679.6,632.0 680.5,632.0 681.4,632.0 682.3,632.1 683.2,632.1 684.1,632.1 684.9,632.1 685.8,632.1 686.7,632.1 687.6,632.1 688.5,632.1 689.4,632.1 690.3,632.1 691.1,632.2 692.0,632.2 692.9,632.2 693.8,632.2 694.7,632.2 695.6,632.2 696.5,632.2 697.3,632.2 698.2,632.2 699.1,632.2 700.0,632.2 700.9,632.2 701.8,632.2 702.7,632.2 703.5,632.2 704.4,632.3 705.3,632.3 706.2,632.3 707.1,632.3 708.0,632.3 708.9,632.3 709.8,632.3 710.6,632.3 711.5,632.3 712.4,632.3 713.3,632.3 714.2,632.3 715.1,632.3 716.0,632.3 716.8,632.3 717.7,632.3 718.6,632.3 719.5,632.3 720.4,632.3 721.3,632.3 722.2,632.3 723.0,632.3 723.9,632.3 724.8,632.3 725.7,632.3 726.6,632.3 727.5,632.3 728.4,632.3 729.3,632.3 730.1,632.3 731.0,632.3 731.9,632.3 732.8,632.3 733.7,632.3 734.6,632.3 735.5,632.3 736.3,632.3 737.2,632.3 738.1,632.2 739.0,632.2 739.9,632.2 740.8,632.2 741.7,632.2 742.5,632.2 743.4,632.2 744.3,632.2 745.2,632.2 746.1,632.2 747.0,632.2 747.9,632.2 748.8,632.2 749.6,632.2 750.5,632.2 751.4,632.2 752.3,632.2 753.2,632.2 754.1,632.2 755.0,632.2 755.8,632.2 756.7,632.2 757.6,632.1 758.5,632.1 759.4,632.1 760.3,632.1 761.2,632.1 762.0,632.1 762.9,632.1 763.8,632.1 764.7,632.1 765.6,632.1 766.5,632.1 767.4,632.1 768.3,632.1 769.1,632.1 770.0,632.1 770.9,632.1 771.8,632.1 772.7,632.1 773.6,632.1 774.5,632.0 775.3,632.0 776.2,632.0 777.1,632.0 778.0,632.0 778.9,632.0 779.8,632.0 780.7,632.0 781.6,632.0 782.4,632.0 783.3,632.0 784.2,632.0 785.1,632.0 786.0,632.0 786.9,632.0 787.8,632.0 788.6,632.0 789.5,632.0 790.4,632.0 791.3,632.0 792.2,632.0 793.1,631.9 794.0,631.9 794.8,631.9 795.7,631.9 796.6,631.9 797.5,631.9 798.4,631.9 799.3,631.9 800.2,631.9 801.1,631.9 801.9,631.9 802.8,631.9 803.7,631.9 804.6,631.9 805.5,631.9 806.4,631.9 807.3,631.9 808.1,631.9 809.0,631.9 809.9,631.9 810.8,631.9 811.7,631.9 812.6,631.9 813.5,631.9 814.3,631.9 815.2,631.9 816.1,631.9 817.0,631.9 817.9,631.9 818.8,631.9 819.7,631.9 820.5,631.9 821.4,631.9 822.3,631.9 823.2,631.9 824.1,631.9 825.0,631.9 825.9,631.9 826.7,631.9 827.6,631.9 828.5,631.9 829.4,631.9 830.3,631.9 831.2,631.9 832.1,631.9 833.0,631.9 833.8,631.9 834.7,632.0 835.6,632.0 836.5,632.0 837.4,632.0 838.3,632.0 839.2,632.0 840.0,632.0 840.9,632.0 841.8,632.0 842.7,632.0 843.6,632.0 844.5,632.0 845.4,632.0 846.2,632.0 847.1,632.1 848.0,632.1 848.9,632.1 849.8,632.1 850.7,632.1 851.6,632.1 852.4,632.1 853.3,632.1 854.2,632.1 855.1,632.2 856.0,632.2 856.9,632.2 857.7,632.2 858.6,632.2 859.5,632.2 860.4,632.2 861.3,632.3 862.2,632.3 863.1,632.3 863.9,632.3 864.8,632.3 865.7,632.3 866.6,632.4 867.5,632.4 868.4,632.4 869.3,632.4 870.1,632.4 871.0,632.5 871.9,632.5 872.8,632.5 873.7,632.5 874.6,632.5 875.5,632.6 876.3,632.6 877.2,632.6 878.1,632.6 879.0,632.7 879.9,632.7 880.8,632.7 881.6,632.7 882.5,632.8 883.4,632.8 884.3,632.8 885.2,632.8 886.1,632.9 887.0,632.9 887.8,632.9 888.7,633.0 889.6,633.0 890.5,633.0 891.4,633.0 892.3,633.1 893.1,633.1 894.0,633.1 894.9,633.2 895.8,633.2 896.7,633.2 897.6,633.3 898.5,633.3 899.3,633.3 900.2,633.4 901.1,633.4 902.0,633.5 902.9,633.5 903.8,633.5 904.6,633.6 905.5,633.6 906.4,633.7 907.3,633.7 908.2,633.7 909.1,633.8 909.9,633.8 910.8,633.9 911.7,633.9 912.6,634.0 913.5,634.0 914.4,634.0 915.2,634.1 916.1,634.1 917.0,634.2 917.9,634.2 918.8,634.3 919.7,634.3 920.5,634.4" stroke="#38e838" stroke-width="6"/>
<polyline points="183.5,634.6 184.2,634.6 185.0,634.6 185.8,634.5 186.6,634.4 187.4,634.3 188.2,634.3 189.1,634.2 189.9,634.1 190.7,634.0 191.6,633.9 192.4,633.9 193.3,633.8 194.1,633.8 195.0,633.7 195.8,633.7 196.7,633.6 197.6,633.6 198.5,633.6 199.3,633.5 200.2,633.5 201.1,633.5 202.0,633.5 202.9,633.4 203.8,633.4 204.7,633.4 205.6,633.4 206.5,633.4 207.5,633.4 208.4,633.4 209.3,633.4 210.2,633.4 211.2,633.4 212.1,633.4 213.0,633.4 213.9,633.4 214.9,633.4 215.8,633.4 216.8,633.4 217.7,633.4 218.6,633.4 219.6,633.4 220.5,633.4 221.5,633.4 222.4,633.4 223.4,633.4 224.3,633.4 225.3,633.4 226.2,633.4 227.2,633.4 228.1,633.4 229.1,633.4 230.0,633.4 231.0,633.4 231.9,633.4 232.9,633.3 233.8,633.3 234.8,633.3 235.7,633.2 236.7,633.2 237.6,633.2 238.6,633.1 239.5,633.1 240.4,633.0 241.4,632.9 242.3,632.9 243.2,632.8 244.2,632.7 245.1,632.6 246.0,632.6 247.0,632.5 247.9,632.4 248.8,632.3 249.7,632.1 250.6,632.0 251.5,631.9 252.4,631.8 253.3,631.6 254.2,631.5 255.1,631.3 256.0,631.1 256.9,631.0 257.8,630.8 258.7,630.6 259.5,630.4 260.4,630.2 261.3,630.0 262.1,629.8 263.0,629.5 263.8,629.3 264.7,629.0 265.5,628.7 266.3,628.5 267.2,628.2 268.0,627.9 268.8,627.6 269.6,627.3 270.4,626.9 271.2,626.6 272.0,626.2 272.8,625.9 273.5,625.5 274.3,625.1 275.0,624.7 275.8,624.3 276.5,623.9 277.3,623.4 278.0,623.0 278.7,622.5 279.4,622.0 280.1,621.5 280.8,621.0 281.5,620.5 282.2,620.0 282.9,619.4 283.6,618.9 284.2,618.3 284.9,617.7 285.5,617.1 286.2,616.6 286.8,615.9 287.4,615.3 288.0,614.7 288.6,614.1 289.3,613.4 289.9,612.8 290.4,612.1 291.0,611.4 291.6,610.8 292.2,610.1 292.7,609.4 293.3,608.7 293.9,608.0 294.4,607.2 294.9,606.5 295.5,605.8 296.0,605.1 296.5,604.3 297.1,603.6 297.6,602.8 298.1,602.1 298.6,601.3 299.1,600.5 299.6,599.8 300.1,599.0 300.5,598.2 301.0,597.4 301.5,596.7 302.0,595.9 302.4,595.1 302.9,594.3 303.3,593.5 303.8,592.7 304.2,591.9 304.7,591.1 305.1,590.3 305.5,589.5 306.0,588.7 306.4,587.9 306.8,587.1 307.2,586.3 307.6,585.5 308.0,584.7 308.4,583.9 308.8,583.1 309.2,582.3 309.6,581.5 310.0,580.6 310.4,579.8 310.7,579.0 311.1,578.2 311.5,577.4 311.8,576.6 312.2,575.7 312.6,574.9 312.9,574.1 313.3,573.3 313.6,572.4 314.0,571.6 314.3,570.8 314.6,569.9 315.0,569.1 315.3,568.3 315.6,567.5 315.9,566.6 316.2,565.8 316.6,564.9 316.9,564.1 317.2,563.3 317.5,562.4 317.8,561.6 318.1,560.7 318.4,559.9 318.7,559.1 318.9,558.2 319.2,557.4 319.5,556.5 319.8,555.7 320.1,554.8 320.3,554.0 320.6,553.1 320.9,552.3 321.1,551.4 321.4,550.6 321.7,549.7 321.9,548.8 322.2,548.0 322.4,547.1 322.7,546.3 322.9,545.4 323.1,544.5 323.4,543.7 323.6,542.8 323.9,542.0 324.1,541.1 324.3,540.2 324.5,539.4 324.8,538.5 325.0,537.6 325.2,536.8 325.4,535.9 325.6,535.0 325.8,534.1 326.0,533.3 326.3,532.4 326.5,531.5 326.7,530.6 326.9,529.8 327.1,528.9 327.3,528.0 327.5,527.1 327.6,526.3 327.8,525.4 328.0,524.5 328.2,523.6 328.4,522.7 328.6,521.9 328.8,521.0 328.9,520.1 329.1,519.2 329.3,518.3 329.5,517.5 329.6,516.6 329.8,515.7 330.0,514.8 330.2,513.9 330.3,513.0 330.5,512.1 330.6,511.2 330.8,510.4 331.0,509.5 331.1,508.6 331.3,507.7 331.4,506.8 331.6,505.9 331.8,505.0 331.9,504.1 332.1,503.2 332.2,502.3 332.4,501.4 332.5,500.5 332.7,499.7 332.8,498.8 333.0,497.9 333.1,497.0 333.2,496.1 333.4,495.2 333.5,494.3 333.7,493.4 333.8,492.5 333.9,491.6 334.1,490.7 334.2,489.8 334.4,488.9 334.5,488.0 334.6,487.1 334.8,486.2 334.9,485.3 335.0,484.4 335.2,483.5 335.3,482.6 335.4,481.7 335.6,480.8 335.7,479.9 335.8,479.0 336.0,478.1 336.1,477.2 336.2,476.3 336.4,475.4 336.5,474.5 336.6,473.6 336.8,472.7 336.9,471.8 337.0,470.9 337.2,470.0 337.3,469.1 337.4,468.2 337.6,467.2 337.7,466.3 337.8,465.4 338.0,464.5 338.1,463.6 338.2,462.7 338.4,461.8 338.5,460.9 338.6,460.0 338.8,459.1 338.9,458.2 339.0,457.3 339.2,456.4 339.3,455.5 339.4,454.6 339.6,453.7 339.7,452.8 339.9,451.9 340.0,451.0 340.1,450.1 340.3,449.2 340.4,448.3 340.6,447.4 340.7,446.5 340.8,445.6 341.0,444.7 341.1,443.8 341.3,442.9 341.4,441.9 341.6,441.0 341.7,440.1 341.9,439.2 342.0,438.3 342.2,437.4 342.3,436.5 342.5,435.6 342.6,434.7 342.8,433.8 342.9,432.9 343.1,432.0 343.2,431.1 343.4,430.2 343.5,429.3 343.7,428.4 343.9,427.5 344.0,426.6 344.2,425.7 344.3,424.8 344.5,423.9 344.6,423.0 344.8,422.1 345.0,421.2 345.1,420.3 345.3,419.4 345.4,418.5 345.6,417.6 345.8,416.7 345.9,415.8 346.1,414.9 346.3,414.0 346.4,413.1 346.6,412.2 346.7,411.3 346.9,410.4 347.1,409.5 347.2,408.6 347.4,407.7 347.6,406.8 347.7,405.9 347.9,405.0 348.1,404.1 348.2,403.2 348.4,402.3 348.6,401.4 348.7,400.5 348.9,399.6 349.1,398.7 349.2,397.8 349.4,396.9 349.6,396.0 349.7,395.1 349.9,394.2 350.1,393.3 350.2,392.4 350.4,391.5 350.6,390.7 350.7,389.8 350.9,388.9 351.1,388.0 351.2,387.1 351.4,386.2 351.6,385.3 351.8,384.4 351.9,383.5 352.1,382.6 352.3,381.7 352.4,380.8 352.6,379.9 352.8,379.0 352.9,378.1 353.1,377.2 353.3,376.3 353.4,375.4 353.6,374.5 353.8,373.6 354.0,372.7 354.1,371.8 354.3,370.9 354.5,370.0 354.6,369.1 354.8,368.2 355.0,367.3 355.1,366.4 355.3,365.6 355.5,364.7 355.6,363.8 355.8,362.9 356.0,362.0 356.1,361.1 356.3,360.2 356.5,359.3 356.6,358.4 356.8,357.5 357.0,356.6 357.1,355.7 357.3,354.8 357.4,353.9 357.6,353.0 357.8,352.1 357.9,351.2 358.1,350.3 358.3,349.5 358.4,348.6 358.6,347.7 358.8,346.8 358.9,345.9 359.1,345.0 359.2,344.1 359.4,343.2 359.6,342.3 359.7,341.4 359.9,340.5 360.0,339.6 360.2,338.7 360.3,337.8 360.5,336.9 360.7,336.1 360.8,335.2 361.0,334.3 361.1,333.4 361.3,332.5 361.4,331.6 361.6,330.7 361.7,329.8 361.9,328.9 362.0,328.0 362.2,327.1 362.3,326.2 362.5,325.3 362.6,324.4 362.8,323.6 362.9,322.7 363.1,321.8 363.2,320.9 363.4,320.0 363.5,319.1 363.7,318.2 363.8,317.3 363.9,316.4 364.1,315.5 364.2,314.6 364.4,313.8 364.5,312.9 364.6,312.0 364.8,311.1 364.9,310.2 365.1,309.3 365.2,308.4 365.3,307.5 365.5,306.6 365.6,305.7 365.7,304.8 365.9,304.0 366.0,303.1 366.1,302.2 366.2,301.3 366.4,300.4 366.5,299.5 366.6,298.6 366.8,297.7 366.9,296.8 367.0,295.9 367.1,295.1 367.2,294.2 367.4,293.3 367.5,292.4 367.6,291.5 367.7,290.6 367.8,289.7 367.9,288.8 368.1,287.9 368.2,287.0 368.3,286.2 368.4,285.3 368.5,284.4 368.6,283.5 368.7,282.6 368.8,281.7 368.9,280.8 369.0,279.9 369.2,279.0 369.3,278.2 369.4,277.3 369.5,276.4 369.6,275.5 369.7,274.6 369.8,273.7 369.9,272.8 370.0,271.9 370.1,271.0 370.2,270.1 370.3,269.2 370.4,268.3 370.6,267.4 370.7,266.5 370.8,265.6 370.9,264.7 371.0,263.8 371.1,262.8 371.3,261.9 371.4,261.0 371.5,260.1 371.7,259.2 371.8,258.2 371.9,257.3 372.1,256.4 372.2,255.5 372.3,254.5 372.5,253.6 372.6,252.6 372.8,251.7 372.9,250.8 373.1,249.8 373.3,248.9 373.4,247.9 373.6,246.9 373.8,246.0 374.0,245.0 374.2,244.0 374.4,243.0 374.6,242.1 374.8,241.1 375.0,240.1 375.2,239.1 375.4,238.1 375.7,237.0 375.9,236.0 376.1,235.0 376.4,233.9 376.7,232.9 377.0,231.8 377.2,230.7 377.5,229.7 377.8,228.6 378.2,227.6 378.5,226.5 378.8,225.5 379.1,224.5 379.5,223.5 379.8,222.5 380.2,221.6 380.6,220.7 380.9,219.8 381.3,219.0 381.7,218.2 382.1,217.5 382.5,216.8 382.9,216.2 383.3,215.6 383.7,215.1 384.1,214.7 384.5,214.4 384.9,214.1 385.4,213.9 385.8,213.8 386.2,213.7 386.7,213.8 387.1,213.9 387.5,214.1 388.0,214.4 388.4,214.8 388.9,215.2 389.3,215.7 389.7,216.3 390.2,216.9 390.6,217.6 391.0,218.3 391.5,219.1 391.9,219.9 392.3,220.8 392.7,221.7 393.1,222.6 393.5,223.6 393.9,224.6 394.3,225.6 394.7,226.6 395.1,227.6 395.4,228.7 395.8,229.8 396.1,230.8 396.5,231.9 396.8,233.0 397.1,234.0 397.4,235.1 397.7,236.1 397.9,237.2 398.2,238.2 398.5,239.2 398.7,240.2 398.9,241.3 399.2,242.3 399.4,243.3 399.6,244.3 399.8,245.3 400.0,246.2 400.2,247.2 400.4,248.2 400.6,249.2 400.7,250.1 400.9,251.1 401.1,252.0 401.2,253.0 401.4,253.9 401.6,254.9 401.7,255.8 401.9,256.7 402.0,257.7 402.2,258.6 402.3,259.5 402.4,260.4 402.6,261.3 402.7,262.3 402.8,263.2 403.0,264.1 403.1,265.0 403.2,265.9 403.3,266.8 403.5,267.7 403.6,268.5 403.7,269.4 403.8,270.3 403.9,271.2 404.0,272.1 404.1,273.0 404.2,273.9 404.3,274.7 404.5,275.6 404.6,276.5 404.7,277.4 404.8,278.2 404.9,279.1 405.0,280.0 405.1,280.9 405.2,281.7 405.3,282.6 405.4,283.5 405.5,284.4 405.6,285.2 405.7,286.1 405.8,287.0 405.9,287.9 406.0,288.8 406.1,289.6 406.2,290.5 406.3,291.4 406.4,292.3 406.5,293.2 406.7,294.0 406.8,294.9 406.9,295.8 407.0,296.7 407.1,297.6 407.2,298.5 407.3,299.3 407.4,300.2 407.5,301.1 407.6,302.0 407.8,302.9 407.9,303.8 408.0,304.7 408.1,305.6 408.2,306.4 408.3,307.3 408.4,308.2 408.6,309.1 408.7,310.0 408.8,310.9 408.9,311.8 409.0,312.7 409.2,313.6 409.3,314.5 409.4,315.4 409.5,316.3 409.6,317.2 409.8,318.1 409.9,318.9 410.0,319.8 410.1,320.7 410.3,321.6 410.4,322.5 410.5,323.4 410.6,324.3 410.8,325.2 410.9,326.1 411.0,327.0 411.1,327.9 411.3,328.8 411.4,329.7 411.5,330.6 411.7,331.5 411.8,332.4 411.9,333.3 412.0,334.2 412.2,335.1 412.3,336.0 412.5,336.9 412.6,337.8 412.7,338.7 412.9,339.6 413.0,340.5 413.1,341.4 413.3,342.4 413.4,343.3 413.5,344.2 413.7,345.1 413.8,346.0 414.0,346.9 414.1,347.8 414.2,348.7 414.4,349.6 414.5,350.5 414.7,351.4 414.8,352.3 415.0,353.2 415.1,354.1 415.3,355.0 415.4,355.9 415.6,356.8 415.7,357.7 415.9,358.6 416.0,359.5 416.2,360.4 416.3,361.4 416.5,362.3 416.6,363.2 416.8,364.1 416.9,365.0 417.1,365.9 417.2,366.8 417.4,367.7 417.5,368.6 417.7,369.5 417.9,370.4 418.0,371.3 418.2,372.2 418.3,373.1 418.5,374.0 418.7,374.9 418.8,375.8 419.0,376.7 419.1,377.7 419.3,378.6 419.5,379.5 419.6,380.4 419.8,381.3 420.0,382.2 420.1,383.1 420.3,384.0 420.5,384.9 420.7,385.8 420.8,386.7 421.0,387.6 421.2,388.5 421.3,389.4 421.5,390.3 421.7,391.2 421.9,392.1 422.0,393.0 422.2,393.9 422.4,394.8 422.6,395.7 422.8,396.6 422.9,397.5 423.1,398.4 423.3,399.3 423.5,400.2 423.7,401.1 423.8,402.0 424.0,402.9 424.2,403.8 424.4,404.7 424.6,405.6 424.8,406.5 425.0,407.4 425.2,408.3 425.3,409.2 425.5,410.1 425.7,411.0 425.9,411.9 426.1,412.8 426.3,413.7 426.5,414.6 426.7,415.5 426.9,416.4 427.1,417.3 427.3,418.2 427.5,419.0 427.7,419.9 427.9,420.8 428.1,421.7 428.3,422.6 428.5,423.5 428.7,424.4 428.9,425.3 429.1,426.2 429.3,427.1 429.5,427.9 429.7,428.8 430.0,429.7 430.2,430.6 430.4,431.5 430.6,432.4 430.8,433.3 431.0,434.1 431.2,435.0 431.4,435.9 431.7,436.8 431.9,437.7 432.1,438.6 432.3,439.4 432.5,440.3 432.8,441.2 433.0,442.1 433.2,442.9 433.4,443.8 433.6,444.7 433.9,445.6 434.1,446.5 434.3,447.3 434.6,448.2 434.8,449.1 435.0,449.9 435.2,450.8 435.5,451.7 435.7,452.6 435.9,453.4 436.2,454.3 436.4,455.2 436.6,456.0 436.9,456.9 437.1,457.8 437.4,458.6 437.6,459.5 437.8,460.4 438.1,461.2 438.3,462.1 438.6,462.9 438.8,463.8 439.1,464.7 439.3,465.5 439.6,466.4 439.8,467.2 440.1,468.1 440.3,469.0 440.6,469.8 440.8,470.7 441.1,471.5 441.3,472.4 441.6,473.2 441.9,474.1 442.1,474.9 442.4,475.8 442.6,476.6 442.9,477.5 443.2,478.3 443.4,479.2 443.7,480.0 444.0,480.9 444.2,481.7 444.5,482.6 444.8,483.4 445.1,484.3 445.3,485.1 445.6,486.0 445.9,486.8 446.2,487.7 446.4,488.5 446.7,489.4 447.0,490.2 447.3,491.0 447.6,491.9 447.9,492.7 448.2,493.6 448.4,494.4 448.7,495.3 449.0,496.1 449.3,496.9 449.6,497.8 449.9,498.6 450.2,499.5 450.5,500.3 450.8,501.1 451.1,502.0 451.4,502.8 451.7,503.6 452.0,504.5 452.4,505.3 452.7,506.2 453.0,507.0 453.3,507.8 453.6,508.7 453.9,509.5 454.2,510.3 454.6,511.2 454.9,512.0 455.2,512.8 455.5,513.7 455.9,514.5 456.2,515.3 456.5,516.2 456.9,517.0 457.2,517.8 457.5,518.6 457.9,519.5 458.2,520.3 458.5,521.1 458.9,522.0 459.2,522.8 459.6,523.6 459.9,524.5 460.3,525.3 460.6,526.1 461.0,526.9 461.3,527.8 461.7,528.6 462.1,529.4 462.4,530.2 462.8,531.1 463.1,531.9 463.5,532.7 463.9,533.6 464.2,534.4 464.6,535.2 465.0,536.0 465.4,536.9 465.7,537.7 466.1,538.5 466.5,539.3 466.9,540.2 467.3,541.0 467.7,541.8 468.0,542.6 468.4,543.5 468.8,544.3 469.2,545.1 469.6,545.9 470.0,546.8 470.4,547.6 470.8,548.4 471.2,549.2 471.6,550.1 472.1,550.9 472.5,551.7 472.9,552.5 473.3,553.3 473.7,554.2 474.1,555.0 474.6,555.8 475.0,556.6 475.4,557.5 475.8,558.3 476.3,559.1 476.7,559.9 477.1,560.8 477.6,561.6 478.0,562.4 478.5,563.2 478.9,564.0 479.4,564.9 479.8,565.7 480.3,566.5 480.7,567.3 481.2,568.2 481.6,569.0 482.1,569.8 482.5,570.6 483.0,571.5 483.5,572.3 484.0,573.1 484.4,573.9 484.9,574.8 485.4,575.6 485.9,576.4 486.3,577.2 486.8,578.0 487.3,578.9 487.8,579.7 488.3,580.5 488.8,581.3 489.3,582.1 489.8,582.9 490.3,583.8 490.8,584.6 491.3,585.4 491.8,586.2 492.4,587.0 492.9,587.8 493.4,588.5 494.0,589.3 494.5,590.1 495.0,590.9 495.6,591.6 496.1,592.4 496.7,593.2 497.3,593.9 497.8,594.7 498.4,595.4 499.0,596.1 499.5,596.8 500.1,597.6 500.7,598.3 501.3,599.0 501.9,599.6 502.5,600.3 503.1,601.0 503.8,601.7 504.4,602.3 505.0,603.0 505.7,603.6 506.3,604.2 507.0,604.8 507.6,605.4 508.3,606.0 508.9,606.6 509.6,607.2 510.3,607.7 511.0,608.3 511.7,608.8 512.4,609.3 513.1,609.8 513.8,610.3 514.6,610.8 515.3,611.3 516.0,611.7 516.8,612.2 517.5,612.6 518.3,613.0 519.1,613.4 519.8,613.8 520.6,614.2 521.4,614.6 522.2,614.9 523.0,615.3 523.8,615.6 524.6,616.0 525.4,616.3 526.2,616.6 527.1,616.9 527.9,617.2 528.7,617.5 529.6,617.7 530.4,618.0 531.3,618.3 532.1,618.5 533.0,618.8 533.8,619.0 534.7,619.2 535.5,619.5 536.4,619.7 537.3,619.9 538.2,620.1 539.0,620.3 539.9,620.5 540.8,620.7 541.7,620.9 542.6,621.0 543.5,621.2 544.4,621.4 545.3,621.5 546.1,621.7 547.0,621.9 547.9,622.0 548.8,622.2 549.7,622.3 550.6,622.4 551.5,622.6 552.5,622.7 553.4,622.9 554.3,623.0 555.2,623.1 556.1,623.3 557.0,623.4 557.9,623.5 558.8,623.6 559.7,623.8 560.6,623.9 561.5,624.0 562.4,624.1 563.3,624.3 564.2,624.4 565.1,624.5 566.0,624.6 566.9,624.7 567.8,624.9 568.7,625.0 569.7,625.1 570.6,625.2 571.5,625.3 572.4,625.4 573.3,625.5 574.2,625.6 575.1,625.7 576.0,625.9 576.9,626.0 577.8,626.1 578.7,626.2 579.6,626.3 580.5,626.4 581.4,626.5 582.3,626.6 583.2,626.7 584.1,626.8 585.1,626.9 586.0,626.9 586.9,627.0 587.8,627.1 588.7,627.2 589.6,627.3 590.5,627.4 591.4,627.5 592.3,627.6 593.2,627.7 594.1,627.7 595.0,627.8 595.9,627.9 596.8,628.0 597.7,628.1 598.7,628.2 599.6,628.2 600.5,628.3 601.4,628.4 602.3,628.5 603.2,628.5 604.1,628.6 605.0,628.7 605.9,628.8 606.8,628.8 607.7,628.9 608.6,629.0 609.5,629.0 610.5,629.1 611.4,629.2 612.3,629.2 613.2,629.3 614.1,629.4 615.0,629.4 615.9,629.5 616.8,629.5 617.7,629.6 618.6,629.7 619.5,629.7 620.4,629.8 621.3,629.8 622.3,629.9 623.2,630.0 624.1,630.0 625.0,630.1 625.9,630.1 626.8,630.2 627.7,630.2 628.6,630.3 629.5,630.3 630.4,630.4 631.3,630.4 632.2,630.5 633.1,630.5 634.1,630.6 635.0,630.6 635.9,630.6 636.8,630.7 637.7,630.7 638.6,630.8 639.5,630.8 640.4,630.9 641.3,630.9 642.2,630.9 643.1,631.0 644.1,631.0 645.0,631.0 645.9,631.1 646.8,631.1 647.7,631.1 648.6,631.2 649.5,631.2 650.4,631.2 651.3,631.3 652.2,631.3 653.1,631.3 654.0,631.4 655.0,631.4 655.9,631.4 656.8,631.5 657.7,631.5 658.6,631.5 659.5,631.5 660.4,631.6 661.3,631.6 662.2,631.6 663.1,631.6 664.1,631.7 665.0,631.7 665.9,631.7 666.8,631.7 667.7,631.7 668.6,631.8 669.5,631.8 670.4,631.8 671.3,631.8 672.2,631.8 673.1,631.9 674.1,631.9 675.0,631.9 675.9,631.9 676.8,631.9 677.7,631.9 678.6,632.0 679.5,632.0 680.4,632.0 681.3,632.0 682.2,632.0 683.2,632.0 684.1,632.0 685.0,632.0 685.9,632.0 686.8,632.1 687.7,632.1 688.6,632.1 689.5,632.1 690.4,632.1 691.3,632.1 692.2,632.1 693.2,632.1 694.1,632.1 695.0,632.1 695.9,632.1 696.8,632.1 697.7,632.1 698.6,632.1 699.5,632.2 700.4,632.2 701.3,632.2 702.3,632.2 703.2,632.2 704.1,632.2 705.0,632.2 705.9,632.2 706.8,632.2 707.7,632.2 708.6,632.2 709.5,632.2 710.5,632.2 711.4,632.2 712.3,632.2 713.2,632.2 714.1,632.2 715.0,632.2 715.9,632.2 716.8,632.2 717.7,632.2 718.6,632.2 719.6,632.2 720.5,632.1 721.4,632.1 722.3,632.1 723.2,632.1 724.1,632.1 725.0,632.1 725.9,632.1 726.8,632.1 727.7,632.1 728.7,632.1 729.6,632.1 730.5,632.1 731.4,632.1 732.3,632.1 733.2,632.1 734.1,632.1 735.0,632.1 735.9,632.1 736.9,632.0 737.8,632.0 738.7,632.0 739.6,632.0 740.5,632.0 741.4,632.0 742.3,632.0 743.2,632.0 744.1,632.0 745.0,632.0 746.0,632.0 746.9,632.0 747.8,631.9 748.7,631.9 749.6,631.9 750.5,631.9 751.4,631.9 752.3,631.9 753.2,631.9 754.2,631.9 755.1,631.9 756.0,631.9 756.9,631.9 757.8,631.8 758.7,631.8 759.6,631.8 760.5,631.8 761.4,631.8 762.4,631.8 763.3,631.8 764.2,631.8 765.1,631.8 766.0,631.8 766.9,631.7 767.8,631.7 768.7,631.7 769.6,631.7 770.5,631.7 771.5,631.7 772.4,631.7 773.3,631.7 774.2,631.7 775.1,631.7 776.0,631.7 776.9,631.6 777.8,631.6 778.7,631.6 779.7,631.6 780.6,631.6 781.5,631.6 782.4,631.6 783.3,631.6 784.2,631.6 785.1,631.6 786.0,631.6 786.9,631.5 787.9,631.5 788.8,631.5 789.7,631.5 790.6,631.5 791.5,631.5 792.4,631.5 793.3,631.5 794.2,631.5 795.1,631.5 796.0,631.5 797.0,631.5 797.9,631.5 798.8,631.4 799.7,631.4 800.6,631.4 801.5,631.4 802.4,631.4 803.3,631.4 804.2,631.4 805.2,631.4 806.1,631.4 807.0,631.4 807.9,631.4 808.8,631.4 809.7,631.4 810.6,631.4 811.5,631.4 812.4,631.4 813.3,631.4 814.3,631.4 815.2,631.4 816.1,631.4 817.0,631.4 817.9,631.4 818.8,631.4 819.7,631.4 820.6,631.4 821.5,631.4 822.4,631.4 823.4,631.4 824.3,631.4 825.2,631.4 826.1,631.4 827.0,631.4 827.9,631.4 828.8,631.4 829.7,631.4 830.6,631.4 831.6,631.4 832.5,631.4 833.4,631.4 834.3,631.4 835.2,631.4 836.1,631.4 837.0,631.4 837.9,631.4 838.8,631.4 839.7,631.5 840.7,631.5 841.6,631.5 842.5,631.5 843.4,631.5 844.3,631.5 845.2,631.5 846.1,631.5 847.0,631.5 847.9,631.5 848.8,631.6 849.8,631.6 850.7,631.6 851.6,631.6 852.5,631.6 853.4,631.6 854.3,631.6 855.2,631.7 856.1,631.7 857.0,631.7 857.9,631.7 858.9,631.7 859.8,631.8 860.7,631.8 861.6,631.8 862.5,631.8 863.4,631.8 864.3,631.9 865.2,631.9 866.1,631.9 867.0,631.9 867.9,632.0 868.9,632.0 869.8,632.0 870.7,632.0 871.6,632.1 872.5,632.1 873.4,632.1 874.3,632.1 875.2,632.2 876.1,632.2 877.0,632.2 877.9,632.3 878.9,632.3 879.8,632.3 880.7,632.4 881.6,632.4 882.5,632.4 883.4,632.5 884.3,632.5 885.2,632.5 886.1,632.6 887.0,632.6 887.9,632.6 888.9,632.7 889.8,632.7 890.7,632.8 891.6,632.8 892.5,632.8 893.4,632.9 894.3,632.9 895.2,633.0 896.1,633.0 897.0,633.1 897.9,633.1 898.9,633.2 899.8,633.2 900.7,633.3 901.6,633.3 902.5,633.4 903.4,633.4 904.3,633.5 905.2,633.5 906.1,633.6 907.0,633.6 907.9,633.7 908.8,633.7 909.8,633.8 910.7,633.9 911.6,633.9 912.5,634.0 913.4,634.0 914.3,634.1 915.2,634.2 916.1,634.2 917.0,634.3 917.9,634.4 918.8,634.4 919.7,634.5 920.6,634.6 921.6,634.6" stroke="#9020cc" stroke-width="6"/>
<polyline points="182.6,634.0 183.7,634.0 184.8,634.0 186.0,633.9 187.1,633.9 188.1,633.9 189.2,633.9 190.3,633.9 191.3,633.8 192.3,633.8 193.3,633.8 194.3,633.8 195.3,633.8 196.3,633.7 197.3,633.7 198.2,633.7 199.2,633.7 200.1,633.7 201.1,633.7 202.0,633.6 202.9,633.6 203.8,633.6 204.7,633.6 205.6,633.6 206.5,633.5 207.4,633.5 208.2,633.5 209.1,633.5 210.0,633.4 210.9,633.4 211.7,633.4 212.6,633.4 213.5,633.3 214.3,633.3 215.2,633.3 216.0,633.3 216.9,633.2 217.8,633.2 218.6,633.2 219.5,633.1 220.4,633.1 221.2,633.1 222.1,633.0 223.0,633.0 223.9,632.9 224.8,632.9 225.7,632.9 226.6,632.8 227.5,632.8 228.4,632.7 229.3,632.7 230.3,632.6 231.2,632.6 232.2,632.5 233.1,632.4 234.1,632.4 235.1,632.3 236.1,632.3 237.1,632.2 238.1,632.1 239.1,632.0 240.2,632.0 241.2,631.9 242.2,631.8 243.3,631.7 244.3,631.6 245.4,631.5 246.5,631.4 247.5,631.3 248.6,631.1 249.6,631.0 250.7,630.9 251.8,630.7 252.8,630.6 253.9,630.4 254.9,630.2 256.0,630.0 257.0,629.9 258.0,629.7 259.1,629.4 260.1,629.2 261.1,629.0 262.1,628.7 263.1,628.5 264.1,628.2 265.1,627.9 266.1,627.6 267.0,627.3 268.0,627.0 268.9,626.6 269.9,626.3 270.8,625.9 271.7,625.5 272.5,625.1 273.4,624.7 274.2,624.3 275.1,623.8 275.9,623.4 276.7,622.9 277.4,622.4 278.2,621.9 279.0,621.4 279.7,620.8 280.4,620.3 281.1,619.7 281.8,619.1 282.5,618.5 283.2,617.9 283.8,617.3 284.5,616.7 285.1,616.1 285.7,615.4 286.4,614.8 286.9,614.1 287.5,613.4 288.1,612.7 288.7,612.0 289.2,611.3 289.8,610.6 290.3,609.8 290.8,609.1 291.3,608.3 291.8,607.6 292.3,606.8 292.8,606.0 293.3,605.2 293.7,604.4 294.2,603.6 294.6,602.8 295.1,602.0 295.5,601.2 295.9,600.3 296.3,599.5 296.7,598.6 297.1,597.8 297.5,596.9 297.9,596.1 298.3,595.2 298.7,594.3 299.1,593.4 299.4,592.6 299.8,591.7 300.1,590.8 300.5,589.9 300.8,589.0 301.2,588.1 301.5,587.2 301.9,586.3 302.2,585.4 302.5,584.4 302.8,583.5 303.2,582.6 303.5,581.7 303.8,580.8 304.1,579.8 304.4,578.9 304.7,578.0 305.0,577.1 305.3,576.1 305.7,575.2 306.0,574.3 306.3,573.4 306.6,572.4 306.9,571.5 307.2,570.6 307.5,569.7 307.8,568.7 308.1,567.8 308.4,566.9 308.6,566.0 308.9,565.0 309.2,564.1 309.5,563.2 309.8,562.2 310.1,561.3 310.4,560.4 310.7,559.5 310.9,558.5 311.2,557.6 311.5,556.7 311.8,555.7 312.1,554.8 312.3,553.9 312.6,552.9 312.9,552.0 313.2,551.1 313.4,550.1 313.7,549.2 314.0,548.3 314.3,547.4 314.5,546.4 314.8,545.5 315.1,544.6 315.3,543.6 315.6,542.7 315.9,541.8 316.1,540.8 316.4,539.9 316.6,539.0 316.9,538.0 317.2,537.1 317.4,536.2 317.7,535.2 317.9,534.3 318.2,533.3 318.4,532.4 318.7,531.5 318.9,530.5 319.2,529.6 319.4,528.7 319.7,527.7 319.9,526.8 320.2,525.9 320.4,524.9 320.6,524.0 320.9,523.0 321.1,522.1 321.4,521.2 321.6,520.2 321.8,519.3 322.1,518.4 322.3,517.4 322.5,516.5 322.8,515.5 323.0,514.6 323.2,513.7 323.5,512.7 323.7,511.8 323.9,510.8 324.2,509.9 324.4,509.0 324.6,508.0 324.8,507.1 325.1,506.1 325.3,505.2 325.5,504.3 325.7,503.3 325.9,502.4 326.2,501.4 326.4,500.5 326.6,499.6 326.8,498.6 327.0,497.7 327.3,496.7 327.5,495.8 327.7,494.8 327.9,493.9 328.1,493.0 328.3,492.0 328.5,491.1 328.7,490.1 328.9,489.2 329.1,488.3 329.4,487.3 329.6,486.4 329.8,485.4 330.0,484.5 330.2,483.5 330.4,482.6 330.6,481.6 330.8,480.7 331.0,479.8 331.2,478.8 331.4,477.9 331.6,476.9 331.8,476.0 332.0,475.0 332.2,474.1 332.3,473.1 332.5,472.2 332.7,471.3 332.9,470.3 333.1,469.4 333.3,468.4 333.5,467.5 333.7,466.5 333.9,465.6 334.1,464.6 334.3,463.7 334.4,462.7 334.6,461.8 334.8,460.9 335.0,459.9 335.2,459.0 335.4,458.0 335.5,457.1 335.7,456.1 335.9,455.2 336.1,454.2 336.3,453.3 336.4,452.3 336.6,451.4 336.8,450.4 337.0,449.5 337.1,448.5 337.3,447.6 337.5,446.6 337.7,445.7 337.8,444.8 338.0,443.8 338.2,442.9 338.4,441.9 338.5,441.0 338.7,440.0 338.9,439.1 339.0,438.1 339.2,437.2 339.4,436.2 339.5,435.3 339.7,434.3 339.9,433.4 340.0,432.4 340.2,431.5 340.4,430.5 340.5,429.6 340.7,428.6 340.9,427.7 341.0,426.7 341.2,425.8 341.3,424.8 341.5,423.9 341.7,422.9 341.8,422.0 342.0,421.0 342.1,420.1 342.3,419.1 342.5,418.2 342.6,417.2 342.8,416.3 342.9,415.4 343.1,414.4 343.2,413.5 343.4,412.5 343.5,411.6 343.7,410.6 343.9,409.7 344.0,408.7 344.2,407.8 344.3,406.8 344.5,405.9 344.6,404.9 344.8,404.0 344.9,403.0 345.1,402.1 345.2,401.1 345.4,400.2 345.5,399.2 345.7,398.3 345.8,397.3 346.0,396.4 346.1,395.4 346.3,394.5 346.4,393.5 346.5,392.6 346.7,391.6 346.8,390.7 347.0,389.7 347.1,388.8 347.3,387.8 347.4,386.9 347.6,385.9 347.7,385.0 347.8,384.0 348.0,383.1 348.1,382.1 348.3,381.2 348.4,380.2 348.6,379.3 348.7,378.3 348.8,377.4 349.0,376.4 349.1,375.5 349.3,374.5 349.4,373.6 349.5,372.6 349.7,371.7 349.8,370.7 350.0,369.8 350.1,368.8 350.2,367.9 350.4,366.9 350.5,366.0 350.6,365.0 350.8,364.1 350.9,363.1 351.1,362.2 351.2,361.2 351.3,360.3 351.5,359.3 351.6,358.4 351.7,357.4 351.9,356.5 352.0,355.5 352.1,354.6 352.3,353.7 352.4,352.7 352.5,351.8 352.7,350.8 352.8,349.9 352.9,348.9 353.1,348.0 353.2,347.0 353.4,346.1 353.5,345.1 353.6,344.2 353.8,343.2 353.9,342.3 354.0,341.3 354.2,340.4 354.3,339.4 354.4,338.5 354.6,337.5 354.7,336.6 354.8,335.6 354.9,334.7 355.1,333.7 355.2,332.8 355.3,331.9 355.5,330.9 355.6,330.0 355.7,329.0 355.9,328.1 356.0,327.1 356.1,326.2 356.3,325.2 356.4,324.3 356.5,323.3 356.7,322.4 356.8,321.4 356.9,320.5 357.1,319.6 357.2,318.6 357.3,317.7 357.5,316.7 357.6,315.8 357.7,314.8 357.9,313.9 358.0,312.9 358.1,312.0 358.3,311.0 358.4,310.1 358.5,309.2 358.6,308.2 358.8,307.3 358.9,306.3 359.0,305.4 359.2,304.4 359.3,303.5 359.4,302.5 359.6,301.6 359.7,300.7 359.8,299.7 360.0,298.8 360.1,297.8 360.2,296.9 360.4,295.9 360.5,295.0 360.6,294.1 360.8,293.1 360.9,292.2 361.0,291.2 361.2,290.3 361.3,289.3 361.4,288.4 361.6,287.4 361.7,286.5 361.8,285.6 362.0,284.6 362.1,283.7 362.2,282.7 362.4,281.8 362.5,280.8 362.6,279.9 362.8,278.9 362.9,278.0 363.0,277.0 363.2,276.1 363.3,275.1 363.4,274.2 363.6,273.3 363.7,272.3 363.8,271.4 364.0,270.4 364.1,269.5 364.2,268.5 364.4,267.6 364.5,266.6 364.6,265.7 364.8,264.7 364.9,263.8 365.0,262.8 365.2,261.9 365.3,260.9 365.4,260.0 365.6,259.0 365.7,258.1 365.8,257.1 366.0,256.1 366.1,255.2 366.2,254.2 366.4,253.3 366.5,252.3 366.6,251.4 366.8,250.4 366.9,249.5 367.0,248.5 367.2,247.5 367.3,246.6 367.4,245.6 367.6,244.7 367.7,243.7 367.8,242.7 368.0,241.8 368.1,240.8 368.2,239.9 368.4,238.9 368.5,237.9 368.6,237.0 368.8,236.0 368.9,235.0 369.0,234.1 369.2,233.1 369.3,232.1 369.4,231.2 369.5,230.2 369.7,229.2 369.8,228.2 369.9,227.3 370.1,226.3 370.2,225.3 370.3,224.4 370.5,223.4 370.6,222.4 370.7,221.4 370.9,220.5 371.0,219.5 371.1,218.5 371.3,217.5 371.4,216.5 371.5,215.6 371.7,214.6 371.8,213.6 371.9,212.6 372.0,211.6 372.2,210.6 372.3,209.7 372.4,208.7 372.6,207.7 372.7,206.7 372.8,205.7 373.0,204.7 373.1,203.7 373.2,202.7 373.4,201.7 373.5,200.7 373.6,199.7 373.7,198.7 373.9,197.7 374.0,196.7 374.1,195.7 374.3,194.7 374.4,193.7 374.5,192.7 374.7,191.7 374.8,190.7 375.0,189.8 375.1,188.8 375.3,187.8 375.5,186.8 375.7,185.9 375.9,184.9 376.1,184.0 376.4,183.1 376.7,182.1 377.0,181.2 377.3,180.4 377.6,179.5 378.0,178.7 378.4,177.8 378.8,177.0 379.3,176.3 379.8,175.5 380.3,174.8 380.9,174.1 381.5,173.4 382.2,172.8 382.8,172.2 383.5,171.6 384.2,171.2 384.9,170.8 385.6,170.4 386.4,170.1 387.1,169.9 387.8,169.8 388.5,169.8 389.2,169.9 389.9,170.1 390.6,170.4 391.3,170.9 391.9,171.4 392.5,172.1 393.0,172.9 393.6,173.9 394.1,174.9 394.6,176.0 395.0,177.2 395.4,178.4 395.8,179.6 396.2,180.9 396.6,182.2 396.9,183.4 397.2,184.7 397.5,185.9 397.8,187.1 398.1,188.2 398.3,189.3 398.5,190.3 398.8,191.3 399.0,192.3 399.2,193.3 399.4,194.2 399.6,195.2 399.7,196.1 399.9,197.0 400.1,198.0 400.2,198.9 400.4,199.8 400.5,200.8 400.7,201.7 400.8,202.6 401.0,203.6 401.1,204.5 401.2,205.4 401.4,206.4 401.5,207.3 401.6,208.3 401.8,209.2 401.9,210.1 402.0,211.1 402.2,212.0 402.3,213.0 402.4,213.9 402.5,214.8 402.7,215.8 402.8,216.7 402.9,217.7 403.0,218.6 403.2,219.6 403.3,220.5 403.4,221.4 403.5,222.4 403.7,223.3 403.8,224.3 403.9,225.2 404.0,226.2 404.1,227.1 404.3,228.1 404.4,229.0 404.5,230.0 404.6,230.9 404.7,231.8 404.9,232.8 405.0,233.7 405.1,234.7 405.2,235.6 405.3,236.6 405.4,237.5 405.6,238.5 405.7,239.4 405.8,240.4 405.9,241.3 406.0,242.3 406.1,243.2 406.3,244.2 406.4,245.1 406.5,246.1 406.6,247.0 406.7,248.0 406.8,248.9 407.0,249.9 407.1,250.8 407.2,251.8 407.3,252.7 407.4,253.7 407.5,254.7 407.6,255.6 407.8,256.6 407.9,257.5 408.0,258.5 408.1,259.4 408.2,260.4 408.3,261.3 408.4,262.3 408.6,263.2 408.7,264.2 408.8,265.1 408.9,266.1 409.0,267.1 409.1,268.0 409.2,269.0 409.4,269.9 409.5,270.9 409.6,271.8 409.7,272.8 409.8,273.7 409.9,274.7 410.0,275.6 410.2,276.6 410.3,277.6 410.4,278.5 410.5,279.5 410.6,280.4 410.7,281.4 410.9,282.3 411.0,283.3 411.1,284.2 411.2,285.2 411.3,286.2 411.5,287.1 411.6,288.1 411.7,289.0 411.8,290.0 411.9,290.9 412.1,291.9 412.2,292.9 412.3,293.8 412.4,294.8 412.5,295.7 412.7,296.7 412.8,297.6 412.9,298.6 413.0,299.5 413.1,300.5 413.3,301.5 413.4,302.4 413.5,303.4 413.6,304.3 413.8,305.3 413.9,306.2 414.0,307.2 414.2,308.1 414.3,309.1 414.4,310.1 414.5,311.0 414.7,312.0 414.8,312.9 414.9,313.9 415.1,314.8 415.2,315.8 415.3,316.7 415.5,317.7 415.6,318.7 415.7,319.6 415.9,320.6 416.0,321.5 416.1,322.5 416.3,323.4 416.4,324.4 416.6,325.3 416.7,326.3 416.8,327.2 417.0,328.2 417.1,329.1 417.3,330.1 417.4,331.1 417.6,332.0 417.7,333.0 417.9,333.9 418.0,334.9 418.1,335.8 418.3,336.8 418.4,337.7 418.6,338.7 418.8,339.6 418.9,340.6 419.1,341.5 419.2,342.5 419.4,343.4 419.5,344.4 419.7,345.3 419.8,346.3 420.0,347.2 420.2,348.2 420.3,349.1 420.5,350.1 420.6,351.0 420.8,352.0 421.0,352.9 421.1,353.9 421.3,354.8 421.5,355.8 421.6,356.7 421.8,357.7 422.0,358.6 422.1,359.6 422.3,360.5 422.5,361.5 422.6,362.4 422.8,363.3 423.0,364.3 423.2,365.2 423.3,366.2 423.5,367.1 423.7,368.1 423.9,369.0 424.1,370.0 424.2,370.9 424.4,371.9 424.6,372.8 424.8,373.7 425.0,374.7 425.1,375.6 425.3,376.6 425.5,377.5 425.7,378.5 425.9,379.4 426.1,380.4 426.3,381.3 426.5,382.2 426.7,383.2 426.8,384.1 427.0,385.1 427.2,386.0 427.4,386.9 427.6,387.9 427.8,388.8 428.0,389.8 428.2,390.7 428.4,391.7 428.6,392.6 428.8,393.5 429.0,394.5 429.2,395.4 429.4,396.4 429.6,397.3 429.8,398.2 430.0,399.2 430.2,400.1 430.4,401.0 430.7,402.0 430.9,402.9 431.1,403.9 431.3,404.8 431.5,405.7 431.7,406.7 431.9,407.6 432.1,408.5 432.4,409.5 432.6,410.4 432.8,411.4 433.0,412.3 433.2,413.2 433.4,414.2 433.7,415.1 433.9,416.0 434.1,417.0 434.3,417.9 434.6,418.8 434.8,419.8 435.0,420.7 435.2,421.6 435.5,422.6 435.7,423.5 435.9,424.4 436.1,425.4 436.4,426.3 436.6,427.2 436.8,428.2 437.1,429.1 437.3,430.0 437.5,431.0 437.8,431.9 438.0,432.8 438.3,433.7 438.5,434.7 438.7,435.6 439.0,436.5 439.2,437.5 439.5,438.4 439.7,439.3 439.9,440.3 440.2,441.2 440.4,442.1 440.7,443.0 440.9,444.0 441.2,444.9 441.4,445.8 441.7,446.7 441.9,447.7 442.2,448.6 442.4,449.5 442.7,450.4 442.9,451.4 443.2,452.3 443.4,453.2 443.7,454.2 444.0,455.1 444.2,456.0 444.5,456.9 444.7,457.8 445.0,458.8 445.2,459.7 445.5,460.6 445.8,461.5 446.0,462.5 446.3,463.4 446.6,464.3 446.8,465.2 447.1,466.2 447.4,467.1 447.6,468.0 447.9,468.9 448.2,469.8 448.5,470.8 448.7,471.7 449.0,472.6 449.3,473.5 449.6,474.4 449.8,475.4 450.1,476.3 450.4,477.2 450.7,478.1 450.9,479.0 451.2,479.9 451.5,480.9 451.8,481.8 452.1,482.7 452.4,483.6 452.6,484.5 452.9,485.4 453.2,486.4 453.5,487.3 453.8,488.2 454.1,489.1 454.4,490.0 454.7,490.9 454.9,491.8 455.2,492.8 455.5,493.7 455.8,494.6 456.1,495.5 456.4,496.4 456.7,497.3 457.0,498.2 457.3,499.1 457.6,500.1 457.9,501.0 458.2,501.9 458.5,502.8 458.8,503.7 459.1,504.6 459.4,505.5 459.7,506.4 460.0,507.3 460.4,508.2 460.7,509.2 461.0,510.1 461.3,511.0 461.6,511.9 461.9,512.8 462.2,513.7 462.5,514.6 462.9,515.5 463.2,516.4 463.5,517.3 463.8,518.2 464.2,519.1 464.5,520.0 464.8,520.9 465.2,521.8 465.5,522.7 465.8,523.6 466.2,524.5 466.5,525.4 466.8,526.3 467.2,527.2 467.5,528.1 467.9,529.0 468.2,529.9 468.6,530.8 468.9,531.7 469.3,532.6 469.6,533.5 470.0,534.3 470.4,535.2 470.7,536.1 471.1,537.0 471.5,537.9 471.8,538.8 472.2,539.7 472.6,540.5 473.0,541.4 473.3,542.3 473.7,543.2 474.1,544.1 474.5,545.0 474.9,545.8 475.3,546.7 475.7,547.6 476.1,548.5 476.5,549.3 476.9,550.2 477.3,551.1 477.7,551.9 478.2,552.8 478.6,553.7 479.0,554.5 479.4,555.4 479.9,556.3 480.3,557.1 480.7,558.0 481.2,558.9 481.6,559.7 482.1,560.6 482.5,561.4 483.0,562.3 483.4,563.1 483.9,564.0 484.4,564.8 484.8,565.7 485.3,566.5 485.8,567.4 486.3,568.2 486.7,569.1 487.2,569.9 487.7,570.8 488.2,571.6 488.7,572.4 489.2,573.3 489.7,574.1 490.3,574.9 490.8,575.8 491.3,576.6 491.8,577.4 492.4,578.3 492.9,579.1 493.4,579.9 494.0,580.7 494.5,581.5 495.1,582.3 495.6,583.2 496.2,584.0 496.8,584.8 497.3,585.6 497.9,586.4 498.5,587.2 499.1,587.9 499.7,588.7 500.2,589.5 500.8,590.3 501.5,591.0 502.1,591.8 502.7,592.6 503.3,593.3 503.9,594.1 504.5,594.8 505.2,595.5 505.8,596.3 506.5,597.0 507.1,597.7 507.8,598.4 508.4,599.1 509.1,599.8 509.8,600.5 510.4,601.2 511.1,601.8 511.8,602.5 512.5,603.2 513.2,603.8 513.9,604.4 514.6,605.1 515.3,605.7 516.0,606.3 516.8,606.9 517.5,607.5 518.2,608.1 519.0,608.7 519.7,609.2 520.5,609.8 521.2,610.3 522.0,610.9 522.8,611.4 523.5,611.9 524.3,612.4 525.1,612.9 525.9,613.4 526.7,613.8 527.5,614.3 528.3,614.7 529.1,615.2 530.0,615.6 530.8,616.0 531.6,616.4 532.5,616.8 533.3,617.1 534.2,617.5 535.0,617.9 535.9,618.2 536.8,618.5 537.6,618.9 538.5,619.2 539.4,619.5 540.3,619.8 541.2,620.1 542.1,620.3 543.0,620.6 543.9,620.9 544.8,621.1 545.7,621.3 546.6,621.6 547.5,621.8 548.4,622.0 549.4,622.2 550.3,622.4 551.2,622.6 552.2,622.8 553.1,623.0 554.1,623.2 555.0,623.3 556.0,623.5 556.9,623.7 557.9,623.8 558.8,624.0 559.8,624.1 560.7,624.2 561.7,624.4 562.7,624.5 563.6,624.6 564.6,624.7 565.6,624.9 566.5,625.0 567.5,625.1 568.5,625.2 569.5,625.3 570.4,625.4 571.4,625.5 572.4,625.6 573.4,625.6 574.3,625.7 575.3,625.8 576.3,625.9 577.3,626.0 578.3,626.1 579.2,626.1 580.2,626.2 581.2,626.3 582.2,626.4 583.2,626.4 584.1,626.5 585.1,626.6 586.1,626.7 587.1,626.7 588.1,626.8 589.0,626.9 590.0,626.9 591.0,627.0 592.0,627.1 592.9,627.1 593.9,627.2 594.9,627.3 595.9,627.3 596.9,627.4 597.8,627.5 598.8,627.5 599.8,627.6 600.8,627.7 601.7,627.7 602.7,627.8 603.7,627.8 604.7,627.9 605.6,628.0 606.6,628.0 607.6,628.1 608.5,628.1 609.5,628.2 610.5,628.2 611.5,628.3 612.4,628.3 613.4,628.4 614.4,628.4 615.4,628.5 616.3,628.6 617.3,628.6 618.3,628.7 619.2,628.7 620.2,628.7 621.2,628.8 622.1,628.8 623.1,628.9 624.1,628.9 625.1,629.0 626.0,629.0 627.0,629.1 628.0,629.1 628.9,629.2 629.9,629.2 630.9,629.2 631.8,629.3 632.8,629.3 633.8,629.4 634.7,629.4 635.7,629.4 636.7,629.5 637.6,629.5 638.6,629.5 639.6,629.6 640.5,629.6 641.5,629.7 642.5,629.7 643.4,629.7 644.4,629.8 645.4,629.8 646.3,629.8 647.3,629.9 648.3,629.9 649.2,629.9 650.2,629.9 651.2,630.0 652.1,630.0 653.1,630.0 654.1,630.1 655.0,630.1 656.0,630.1 657.0,630.1 657.9,630.2 658.9,630.2 659.9,630.2 660.8,630.3 661.8,630.3 662.7,630.3 663.7,630.3 664.7,630.3 665.6,630.4 666.6,630.4 667.6,630.4 668.5,630.4 669.5,630.5 670.4,630.5 671.4,630.5 672.4,630.5 673.3,630.5 674.3,630.6 675.3,630.6 676.2,630.6 677.2,630.6 678.1,630.6 679.1,630.6 680.1,630.7 681.0,630.7 682.0,630.7 682.9,630.7 683.9,630.7 684.9,630.7 685.8,630.8 686.8,630.8 687.7,630.8 688.7,630.8 689.7,630.8 690.6,630.8 691.6,630.8 692.5,630.9 693.5,630.9 694.5,630.9 695.4,630.9 696.4,630.9 697.3,630.9 698.3,630.9 699.3,630.9 700.2,630.9 701.2,630.9 702.1,631.0 703.1,631.0 704.0,631.0 705.0,631.0 706.0,631.0 706.9,631.0 707.9,631.0 708.8,631.0 709.8,631.0 710.8,631.0 711.7,631.0 712.7,631.0 713.6,631.0 714.6,631.1 715.5,631.1 716.5,631.1 717.5,631.1 718.4,631.1 719.4,631.1 720.3,631.1 721.3,631.1 722.2,631.1 723.2,631.1 724.2,631.1 725.1,631.1 726.1,631.1 727.0,631.1 728.0,631.1 728.9,631.1 729.9,631.1 730.9,631.1 731.8,631.1 732.8,631.1 733.7,631.1 734.7,631.1 735.6,631.1 736.6,631.1 737.6,631.1 738.5,631.1 739.5,631.1 740.4,631.1 741.4,631.1 742.3,631.1 743.3,631.1 744.2,631.1 745.2,631.1 746.2,631.1 747.1,631.1 748.1,631.1 749.0,631.1 750.0,631.1 750.9,631.1 751.9,631.1 752.9,631.1 753.8,631.1 754.8,631.1 755.7,631.1 756.7,631.1 757.6,631.1 758.6,631.1 759.5,631.1 760.5,631.1 761.5,631.1 762.4,631.1 763.4,631.1 764.3,631.1 765.3,631.1 766.2,631.1 767.2,631.1 768.1,631.1 769.1,631.1 770.1,631.1 771.0,631.1 772.0,631.1 772.9,631.1 773.9,631.1 774.8,631.1 775.8,631.1 776.8,631.1 777.7,631.1 778.7,631.1 779.6,631.1 780.6,631.1 781.5,631.1 782.5,631.1 783.4,631.1 784.4,631.1 785.4,631.1 786.3,631.1 787.3,631.1 788.2,631.1 789.2,631.1 790.1,631.1 791.1,631.1 792.1,631.1 793.0,631.1 794.0,631.1 794.9,631.1 795.9,631.1 796.8,631.1 797.8,631.1 798.8,631.1 799.7,631.1 800.7,631.1 801.6,631.1 802.6,631.1 803.5,631.1 804.5,631.1 805.5,631.1 806.4,631.1 807.4,631.1 808.3,631.1 809.3,631.1 810.2,631.1 811.2,631.1 812.2,631.1 813.1,631.1 814.1,631.1 815.0,631.1 816.0,631.1 817.0,631.1 817.9,631.1 818.9,631.1 819.8,631.1 820.8,631.1 821.7,631.1 822.7,631.1 823.7,631.2 824.6,631.2 825.6,631.2 826.5,631.2 827.5,631.2 828.5,631.2 829.4,631.2 830.4,631.2 831.3,631.2 832.3,631.2 833.3,631.2 834.2,631.2 835.2,631.2 836.1,631.2 837.1,631.2 838.1,631.3 839.0,631.3 840.0,631.3 840.9,631.3 841.9,631.3 842.9,631.3 843.8,631.3 844.8,631.3 845.8,631.3 846.7,631.3 847.7,631.4 848.6,631.4 849.6,631.4 850.6,631.4 851.5,631.4 852.5,631.4 853.4,631.4 854.4,631.4 855.4,631.5 856.3,631.5 857.3,631.5 858.3,631.5 859.2,631.5 860.2,631.5 861.2,631.5 862.1,631.6 863.1,631.6 864.0,631.6 865.0,631.6 866.0,631.6 866.9,631.7 867.9,631.7 868.9,631.7 869.8,631.7 870.8,631.7 871.8,631.7 872.7,631.8 873.7,631.8 874.7,631.8 875.6,631.8 876.6,631.9 877.6,631.9 878.5,631.9 879.5,631.9 880.5,632.0 881.4,632.0 882.4,632.0 883.4,632.0 884.3,632.1 885.3,632.1 886.3,632.1 887.2,632.1 888.2,632.2 889.2,632.2 890.1,632.2 891.1,632.3 892.1,632.3 893.0,632.3 894.0,632.3 895.0,632.4 896.0,632.4 896.9,632.4 897.9,632.5 898.9,632.5 899.8,632.5 900.8,632.6 901.8,632.6 902.7,632.7 903.7,632.7 904.7,632.7 905.7,632.8 906.6,632.8 907.6,632.8 908.6,632.9 909.6,632.9 910.5,633.0 911.5,633.0 912.5,633.0 913.4,633.1 914.4,633.1 915.4,633.2 916.4,633.2 917.3,633.3 918.3,633.3 919.3,633.3 920.3,633.4 921.2,633.4 922.2,633.5" stroke="#f7941e" stroke-width="6"/>
</g>
<line x1="122.69999999999999" y1="637.0" x2="135.7" y2="637.0" stroke="#000" stroke-width="4" stroke-linecap="round"/>
<text id="t1" x="115" y="645.9" font-size="30.5" text-anchor="end" font-weight="normal" fill="#000" stroke="#000" stroke-width="0.4" >0</text>
<line x1="122.69999999999999" y1="441.6" x2="135.7" y2="441.6" stroke="#000" stroke-width="4" stroke-linecap="round"/>
<text id="t2" x="115" y="450.5" font-size="30.5" text-anchor="end" font-weight="normal" fill="#000" stroke="#000" stroke-width="0.4" >20</text>
<line x1="122.69999999999999" y1="246.2" x2="135.7" y2="246.2" stroke="#000" stroke-width="4" stroke-linecap="round"/>
<text id="t3" x="115" y="255.1" font-size="30.5" text-anchor="end" font-weight="normal" fill="#000" stroke="#000" stroke-width="0.4" >40</text>
<line x1="122.69999999999999" y1="50.8" x2="135.7" y2="50.8" stroke="#000" stroke-width="4" stroke-linecap="round"/>
<text id="t4" x="115" y="59.7" font-size="30.5" text-anchor="end" font-weight="normal" fill="#000" stroke="#000" stroke-width="0.4" >60</text>
<line x1="129.2" y1="539.3" x2="135.7" y2="539.3" stroke="#000" stroke-width="4" stroke-linecap="round"/>
<line x1="129.2" y1="343.9" x2="135.7" y2="343.9" stroke="#000" stroke-width="4" stroke-linecap="round"/>
<line x1="129.2" y1="148.5" x2="135.7" y2="148.5" stroke="#000" stroke-width="4" stroke-linecap="round"/>
<line x1="136.0" y1="637.1" x2="136.0" y2="650.1" stroke="#000" stroke-width="4" stroke-linecap="round"/>
<text id="t5" x="136.5" y="681" font-size="30.5" text-anchor="middle" font-weight="normal" fill="#000" stroke="#000" stroke-width="0.4" ><tspan class="o1">1</tspan>.05</text>
<line x1="267.1" y1="637.1" x2="267.1" y2="650.1" stroke="#000" stroke-width="4" stroke-linecap="round"/>
<text id="t6" x="267.6" y="681" font-size="30.5" text-anchor="middle" font-weight="normal" fill="#000" stroke="#000" stroke-width="0.4" ><tspan class="o1">1</tspan>.20</text>
<line x1="398.1" y1="637.1" x2="398.1" y2="650.1" stroke="#000" stroke-width="4" stroke-linecap="round"/>
<text id="t7" x="398.6" y="681" font-size="30.5" text-anchor="middle" font-weight="normal" fill="#000" stroke="#000" stroke-width="0.4" ><tspan class="o1">1</tspan>.35</text>
<line x1="529.2" y1="637.1" x2="529.2" y2="650.1" stroke="#000" stroke-width="4" stroke-linecap="round"/>
<text id="t8" x="529.7" y="681" font-size="30.5" text-anchor="middle" font-weight="normal" fill="#000" stroke="#000" stroke-width="0.4" ><tspan class="o1">1</tspan>.50</text>
<line x1="660.3" y1="637.1" x2="660.3" y2="650.1" stroke="#000" stroke-width="4" stroke-linecap="round"/>
<text id="t9" x="660.8" y="681" font-size="30.5" text-anchor="middle" font-weight="normal" fill="#000" stroke="#000" stroke-width="0.4" ><tspan class="o1">1</tspan>.65</text>
<line x1="791.3" y1="637.1" x2="791.3" y2="650.1" stroke="#000" stroke-width="4" stroke-linecap="round"/>
<text id="t10" x="791.8" y="681" font-size="30.5" text-anchor="middle" font-weight="normal" fill="#000" stroke="#000" stroke-width="0.4" ><tspan class="o1">1</tspan>.80</text>
<line x1="922.4" y1="637.1" x2="922.4" y2="650.1" stroke="#000" stroke-width="4" stroke-linecap="round"/>
<text id="t11" x="922.9" y="681" font-size="30.5" text-anchor="middle" font-weight="normal" fill="#000" stroke="#000" stroke-width="0.4" ><tspan class="o1">1</tspan>.95</text>
<line x1="201.5" y1="637.1" x2="201.5" y2="643.6" stroke="#000" stroke-width="4" stroke-linecap="round"/>
<line x1="332.6" y1="637.1" x2="332.6" y2="643.6" stroke="#000" stroke-width="4" stroke-linecap="round"/>
<line x1="463.7" y1="637.1" x2="463.7" y2="643.6" stroke="#000" stroke-width="4" stroke-linecap="round"/>
<line x1="594.7" y1="637.1" x2="594.7" y2="643.6" stroke="#000" stroke-width="4" stroke-linecap="round"/>
<line x1="725.8" y1="637.1" x2="725.8" y2="643.6" stroke="#000" stroke-width="4" stroke-linecap="round"/>
<line x1="856.9" y1="637.1" x2="856.9" y2="643.6" stroke="#000" stroke-width="4" stroke-linecap="round"/>
<rect x="135.7" y="2" width="787.5999999999999" height="635.1" fill="none" stroke="#000" stroke-width="4" stroke-linejoin="round"/>
<text id="t12" x="137.8" y="69" font-size="73" text-anchor="start" font-weight="normal" fill="#000" stroke="#000" stroke-width="0.4" >(a)</text>
<text id="t13" x="326.3" y="201.7" font-size="43" text-anchor="end" font-weight="normal" fill="#f39323" stroke="#f39323" stroke-width="0.4" >5 h</text>
<text id="t14" x="318.3" y="243.1" font-size="43" text-anchor="end" font-weight="normal" fill="#8e1ec8" stroke="#8e1ec8" stroke-width="0.4" >4 h</text>
<text id="t15" x="307.8" y="285.1" font-size="43" text-anchor="end" font-weight="normal" fill="#3ee83e" stroke="#3ee83e" stroke-width="0.4" >3 h</text>
<text id="t16" x="301.90000000000003" y="329" font-size="43" text-anchor="end" font-weight="normal" fill="#1010e6" stroke="#1010e6" stroke-width="0.4" >2 h</text>
<text id="t17" x="288.90000000000003" y="374.3" font-size="43" text-anchor="end" font-weight="normal" fill="#f21010" stroke="#f21010" stroke-width="0.4" ><tspan class="o1">1</tspan> h</text>
<text id="t18" x="280.7" y="425.8" font-size="43" text-anchor="end" font-weight="normal" fill="#000" stroke="#000" stroke-width="0.4" >0 h</text>
<line x1="449" y1="181.5" x2="548" y2="181.5" stroke="#ff7f0e" stroke-width="6.5" stroke-linecap="round"/>
<path d="M413,181.5 L450,171 L450,192 Z" fill="#ff7f0e" stroke="#ff7f0e" stroke-width="2" stroke-linejoin="round"/>
<line x1="480" y1="390.5" x2="566.5" y2="390.5" stroke="#000" stroke-width="6.5" stroke-linecap="round"/>
<path d="M444,390.5 L481,380 L481,401 Z" fill="#000" stroke="#000" stroke-width="2" stroke-linejoin="round"/>
<path d="M577,87.3 L805,87.3 C844.6,87.3 871,65.7 871,39.2" fill="none" stroke="#000" stroke-width="11"/>
<path d="M577,232.9 L805,232.9 C844.6,232.9 871,211.3 871,185" fill="none" stroke="#000" stroke-width="11"/>
<path d="M579.4,292.5 L805,292.5 C843.7,292.5 869.5,283.7 869.5,273" fill="none" stroke="#000" stroke-width="13.5"/>
<path d="M579.4,473 L805,473 C843.7,473 869.5,464.4 869.5,454" fill="none" stroke="#000" stroke-width="13.5"/>
<rect x="583.5" y="114.89999999999999" width="31.899999999999977" height="9.4" fill="#0a0ac8"/>
<rect x="648" y="114.89999999999999" width="32" height="9.4" fill="#0a0ac8"/>
<rect x="713" y="114.89999999999999" width="32" height="9.4" fill="#0a0ac8"/>
<rect x="777.6" y="114.89999999999999" width="32.0" height="9.4" fill="#0a0ac8"/>
<rect x="842.5" y="114.89999999999999" width="28.600000000000023" height="9.4" fill="#0a0ac8"/>
<rect x="585.1" y="328.5" width="32.0" height="9.4" fill="#0a0ac8"/>
<rect x="649" y="328.5" width="32" height="9.4" fill="#0a0ac8"/>
<rect x="713" y="328.5" width="32" height="9.4" fill="#0a0ac8"/>
<rect x="777" y="328.5" width="32" height="9.4" fill="#0a0ac8"/>
<rect x="841" y="328.5" width="28.399999999999977" height="9.4" fill="#0a0ac8"/>
<rect x="853.4" y="92.4" width="17.9" height="6.2" fill="#f00000"/>
<rect x="835.6" y="141.1" width="17.2" height="6.1" fill="#f00000"/>
<rect x="844.3" y="173.3" width="18.0" height="6.2" fill="#f00000"/>
<rect x="851.8" y="299.4" width="17.6" height="7.4" fill="#f00000"/>
<rect x="851.8" y="341.4" width="17.6" height="7.6" fill="#f00000"/>
<rect x="834" y="359.8" width="17.0" height="7.2" fill="#f00000"/>
<rect x="834" y="380.3" width="17.0" height="6.7" fill="#f00000"/>
<rect x="843" y="400" width="17.1" height="7.3" fill="#f00000"/>
<rect x="851.8" y="420" width="17.6" height="7.2" fill="#f00000"/>
<rect x="843" y="440.1" width="17.1" height="7.6" fill="#f00000"/>
<rect x="583.6" y="137" width="237.5" height="76.5" fill="#c6ef95"/>
<text id="t19" x="587" y="167.1" font-size="29.8" text-anchor="start" font-weight="bold" fill="#000" stroke="#000" stroke-width="0.2" >After prolonged</text>
<text id="t20" x="588.5" y="204.6" font-size="29.8" text-anchor="start" font-weight="bold" fill="#000" stroke="#000" stroke-width="0.2" >oxidation in air</text>
<rect x="586.2" y="368.3" width="202.5" height="74.2" fill="#c6ef95"/>
<text id="t21" x="590" y="398" font-size="29.8" text-anchor="start" font-weight="bold" fill="#000" stroke="#000" stroke-width="0.2" >After Proper</text>
<text id="t22" x="588.5" y="434.3" font-size="29.8" text-anchor="start" font-weight="bold" fill="#000" stroke="#000" stroke-width="0.2" >pre-oxidation</text>
<rect x="510.5" y="492.9" width="402" height="94" fill="#e9f082"/>
<text id="t23" x="516.5" y="529.7" font-size="36" text-anchor="start" font-weight="bold" fill="#9340e4" stroke="#9340e4" stroke-width="0.2" >Exc: 532nm (<tspan class="o1">1</tspan>2.5 J) RT</text>
<text id="t24" x="516.5" y="575.5" font-size="36" text-anchor="start" font-weight="bold" fill="#9340e4" stroke="#9340e4" stroke-width="0.2" >Filter: KS-<tspan class="o1">1</tspan>7</text>
<text id="t25" x="530" y="738.7" font-size="39.3" text-anchor="middle" font-weight="normal" fill="#000" stroke="#000" stroke-width="0.4" >Energy (eV)</text>
<text id="t26" transform="translate(44.5,546.7) rotate(-90)" font-size="39.1" fill="#000" stroke="#000" stroke-width="0.4">PL intensity (arb. units) <tspan font-size="32" dy="2.5">×</tspan><tspan dy="-2.5"> <tspan class="o1">1</tspan>0</tspan><tspan dy="-16">3</tspan></text>
<polyline points="190.6,1487.1 191.4,1487.1 192.3,1487.1 193.2,1487.1 194.0,1487.1 194.9,1487.1 195.8,1487.1 196.7,1487.1 197.7,1487.1 198.6,1487.1 199.5,1487.1 200.5,1487.1 201.4,1487.1 202.4,1487.1 203.3,1487.1 204.3,1487.1 205.3,1487.1 206.3,1487.1 207.2,1487.1 208.2,1487.1 209.2,1487.1 210.2,1487.1 211.3,1487.1 212.3,1487.1 213.3,1487.1 214.3,1487.1 215.4,1487.1 216.4,1487.1 217.4,1487.1 218.5,1487.1 219.5,1487.1 220.6,1487.1 221.6,1487.1 222.7,1487.1 223.8,1487.1 224.8,1487.1 225.9,1487.1 227.0,1487.1 228.1,1487.1 229.1,1487.1 230.2,1487.1 231.3,1487.1 232.4,1487.0 233.5,1487.0 234.5,1486.9 235.6,1486.8 236.7,1486.7 237.8,1486.7 238.9,1486.6 240.0,1486.5 241.1,1486.4 242.2,1486.3 243.3,1486.2 244.4,1486.1 245.5,1486.0 246.5,1485.9 247.6,1485.7 248.7,1485.6 249.8,1485.4 250.9,1485.3 252.0,1485.2 253.1,1485.0 254.1,1484.8 255.2,1484.7 256.3,1484.5 257.4,1484.3 258.4,1484.1 259.5,1483.9 260.6,1483.7 261.6,1483.5 262.7,1483.3 263.7,1483.0 264.8,1482.8 265.8,1482.6 266.9,1482.3 267.9,1482.1 269.0,1481.8 270.0,1481.5 271.0,1481.2 272.0,1480.9 273.0,1480.6 274.1,1480.3 275.1,1480.0 276.0,1479.7 277.0,1479.4 278.0,1479.0 279.0,1478.7 280.0,1478.3 280.9,1478.0 281.9,1477.6 282.8,1477.2 283.8,1476.8 284.7,1476.4 285.6,1476.0 286.6,1475.6 287.5,1475.1 288.4,1474.7 289.3,1474.2 290.2,1473.8 291.0,1473.3 291.9,1472.8 292.8,1472.3 293.6,1471.8 294.4,1471.3 295.3,1470.8 296.1,1470.3 296.9,1469.7 297.7,1469.2 298.5,1468.6 299.3,1468.0 300.0,1467.4 300.8,1466.8 301.5,1466.2 302.3,1465.6 303.0,1465.0 303.7,1464.3 304.4,1463.7 305.1,1463.0 305.8,1462.3 306.4,1461.7 307.1,1461.0 307.7,1460.3 308.4,1459.5 309.0,1458.8 309.6,1458.1 310.2,1457.3 310.8,1456.6 311.4,1455.8 312.0,1455.1 312.5,1454.3 313.1,1453.5 313.7,1452.7 314.2,1451.9 314.7,1451.1 315.3,1450.3 315.8,1449.4 316.3,1448.6 316.8,1447.7 317.3,1446.9 317.8,1446.0 318.3,1445.2 318.7,1444.3 319.2,1443.4 319.6,1442.5 320.1,1441.6 320.5,1440.7 321.0,1439.8 321.4,1438.9 321.8,1438.0 322.2,1437.1 322.7,1436.2 323.1,1435.2 323.5,1434.3 323.9,1433.4 324.2,1432.4 324.6,1431.5 325.0,1430.5 325.4,1429.5 325.7,1428.6 326.1,1427.6 326.5,1426.6 326.8,1425.7 327.2,1424.7 327.5,1423.7 327.9,1422.7 328.2,1421.7 328.5,1420.7 328.8,1419.7 329.2,1418.7 329.5,1417.7 329.8,1416.7 330.1,1415.7 330.4,1414.7 330.7,1413.7 331.0,1412.7 331.3,1411.7 331.6,1410.7 331.9,1409.7 332.2,1408.6 332.5,1407.6 332.8,1406.6 333.1,1405.6 333.4,1404.6 333.7,1403.5 334.0,1402.5 334.3,1401.5 334.5,1400.5 334.8,1399.5 335.1,1398.4 335.4,1397.4 335.7,1396.4 335.9,1395.4 336.2,1394.4 336.5,1393.4 336.8,1392.3 337.0,1391.3 337.3,1390.3 337.6,1389.3 337.8,1388.3 338.1,1387.3 338.4,1386.2 338.6,1385.2 338.9,1384.2 339.2,1383.2 339.4,1382.2 339.7,1381.2 340.0,1380.1 340.2,1379.1 340.5,1378.1 340.7,1377.1 341.0,1376.1 341.3,1375.1 341.5,1374.0 341.8,1373.0 342.0,1372.0 342.3,1371.0 342.5,1370.0 342.8,1369.0 343.0,1368.0 343.3,1366.9 343.5,1365.9 343.8,1364.9 344.0,1363.9 344.2,1362.9 344.5,1361.9 344.7,1360.9 345.0,1359.9 345.2,1358.8 345.5,1357.8 345.7,1356.8 345.9,1355.8 346.2,1354.8 346.4,1353.8 346.6,1352.8 346.9,1351.8 347.1,1350.8 347.3,1349.7 347.6,1348.7 347.8,1347.7 348.0,1346.7 348.3,1345.7 348.5,1344.7 348.7,1343.7 348.9,1342.7 349.2,1341.7 349.4,1340.7 349.6,1339.6 349.8,1338.6 350.0,1337.6 350.3,1336.6 350.5,1335.6 350.7,1334.6 350.9,1333.6 351.1,1332.6 351.4,1331.6 351.6,1330.6 351.8,1329.5 352.0,1328.5 352.2,1327.5 352.4,1326.5 352.6,1325.5 352.8,1324.5 353.0,1323.5 353.3,1322.5 353.5,1321.5 353.7,1320.5 353.9,1319.5 354.1,1318.5 354.3,1317.4 354.5,1316.4 354.7,1315.4 354.9,1314.4 355.1,1313.4 355.3,1312.4 355.5,1311.4 355.7,1310.4 355.9,1309.4 356.1,1308.4 356.3,1307.4 356.5,1306.4 356.6,1305.4 356.8,1304.4 357.0,1303.3 357.2,1302.3 357.4,1301.3 357.6,1300.3 357.8,1299.3 358.0,1298.3 358.2,1297.3 358.4,1296.3 358.5,1295.3 358.7,1294.3 358.9,1293.3 359.1,1292.3 359.3,1291.3 359.5,1290.3 359.6,1289.2 359.8,1288.2 360.0,1287.2 360.2,1286.2 360.3,1285.2 360.5,1284.2 360.7,1283.2 360.9,1282.2 361.0,1281.2 361.2,1280.2 361.4,1279.2 361.6,1278.2 361.7,1277.2 361.9,1276.2 362.1,1275.2 362.3,1274.2 362.4,1273.1 362.6,1272.1 362.8,1271.1 362.9,1270.1 363.1,1269.1 363.3,1268.1 363.4,1267.1 363.6,1266.1 363.7,1265.1 363.9,1264.1 364.1,1263.1 364.2,1262.1 364.4,1261.1 364.5,1260.1 364.7,1259.1 364.9,1258.0 365.0,1257.0 365.2,1256.0 365.3,1255.0 365.5,1254.0 365.6,1253.0 365.8,1252.0 366.0,1251.0 366.1,1250.0 366.3,1249.0 366.4,1248.0 366.6,1247.0 366.7,1246.0 366.9,1245.0 367.0,1243.9 367.2,1242.9 367.3,1241.9 367.5,1240.9 367.6,1239.9 367.7,1238.9 367.9,1237.9 368.0,1236.9 368.2,1235.9 368.3,1234.9 368.5,1233.9 368.6,1232.9 368.8,1231.9 368.9,1230.8 369.0,1229.8 369.2,1228.8 369.3,1227.8 369.4,1226.8 369.6,1225.8 369.7,1224.8 369.9,1223.8 370.0,1222.8 370.1,1221.8 370.3,1220.8 370.4,1219.7 370.5,1218.7 370.7,1217.7 370.8,1216.7 370.9,1215.7 371.1,1214.7 371.2,1213.7 371.3,1212.7 371.5,1211.7 371.6,1210.7 371.7,1209.6 371.8,1208.6 372.0,1207.6 372.1,1206.6 372.2,1205.6 372.4,1204.6 372.5,1203.6 372.6,1202.6 372.7,1201.6 372.9,1200.5 373.0,1199.5 373.1,1198.5 373.2,1197.5 373.3,1196.5 373.5,1195.5 373.6,1194.5 373.7,1193.5 373.8,1192.4 373.9,1191.4 374.1,1190.4 374.2,1189.4 374.3,1188.4 374.4,1187.4 374.5,1186.4 374.7,1185.4 374.8,1184.3 374.9,1183.3 375.0,1182.3 375.1,1181.3 375.2,1180.3 375.3,1179.3 375.5,1178.3 375.6,1177.2 375.7,1176.2 375.8,1175.2 375.9,1174.2 376.0,1173.2 376.1,1172.2 376.2,1171.1 376.4,1170.1 376.5,1169.1 376.6,1168.1 376.7,1167.1 376.8,1166.1 376.9,1165.0 377.0,1164.0 377.1,1163.0 377.2,1162.0 377.3,1161.0 377.4,1159.9 377.5,1158.9 377.6,1157.9 377.7,1156.9 377.8,1155.9 378.0,1154.9 378.1,1153.8 378.2,1152.8 378.3,1151.8 378.4,1150.8 378.5,1149.8 378.6,1148.7 378.7,1147.7 378.8,1146.7 378.9,1145.7 379.0,1144.6 379.1,1143.6 379.2,1142.6 379.3,1141.6 379.4,1140.6 379.5,1139.5 379.6,1138.5 379.7,1137.5 379.8,1136.5 379.9,1135.4 379.9,1134.4 380.0,1133.4 380.1,1132.4 380.2,1131.3 380.3,1130.3 380.4,1129.3 380.5,1128.3 380.6,1127.2 380.7,1126.2 380.8,1125.2 380.9,1124.2 381.0,1123.1 381.1,1122.1 381.2,1121.1 381.3,1120.1 381.4,1119.0 381.5,1118.0 381.6,1117.0 381.6,1115.9 381.7,1114.9 381.8,1113.9 381.9,1112.9 382.0,1111.8 382.1,1110.8 382.2,1109.8 382.3,1108.7 382.4,1107.7 382.5,1106.7 382.6,1105.7 382.7,1104.6 382.8,1103.6 382.8,1102.6 382.9,1101.5 383.0,1100.5 383.1,1099.5 383.2,1098.5 383.3,1097.4 383.4,1096.4 383.5,1095.4 383.6,1094.3 383.7,1093.3 383.8,1092.3 383.9,1091.3 384.0,1090.2 384.0,1089.2 384.1,1088.2 384.2,1087.1 384.3,1086.1 384.4,1085.1 384.5,1084.0 384.6,1083.0 384.7,1082.0 384.8,1081.0 384.9,1079.9 385.0,1078.9 385.1,1077.9 385.2,1076.8 385.3,1075.8 385.4,1074.8 385.5,1073.8 385.6,1072.7 385.6,1071.7 385.7,1070.7 385.8,1069.6 385.9,1068.6 386.0,1067.6 386.1,1066.5 386.2,1065.5 386.3,1064.5 386.4,1063.5 386.5,1062.4 386.6,1061.4 386.7,1060.4 386.8,1059.3 386.9,1058.3 387.0,1057.3 387.1,1056.3 387.2,1055.2 387.3,1054.2 387.4,1053.2 387.5,1052.2 387.6,1051.1 387.7,1050.1 387.8,1049.1 387.9,1048.0 388.1,1047.0 388.2,1046.0 388.3,1045.0 388.4,1043.9 388.5,1042.9 388.6,1041.9 388.7,1040.9 388.8,1039.8 388.9,1038.8 389.0,1037.8 389.1,1036.8 389.2,1035.7 389.4,1034.7 389.5,1033.7 389.6,1032.7 389.7,1031.6 389.8,1030.6 389.9,1029.6 390.0,1028.6 390.2,1027.5 390.3,1026.5 390.4,1025.5 390.5,1024.5 390.6,1023.5 390.7,1022.4 390.9,1021.4 391.0,1020.4 391.1,1019.4 391.2,1018.4 391.4,1017.3 391.5,1016.3 391.6,1015.3 391.7,1014.3 391.9,1013.3 392.0,1012.2 392.1,1011.2 392.2,1010.2 392.4,1009.2 392.5,1008.2 392.6,1007.1 392.8,1006.1 392.9,1005.1 393.0,1004.1 393.2,1003.1 393.3,1002.1 393.4,1001.0 393.6,1000.0 393.7,999.0 393.9,998.0 394.0,997.0 394.1,996.0 394.3,995.0 394.4,994.0 394.6,992.9 394.7,991.9 394.9,990.9 395.0,989.9 395.2,988.9 395.3,987.9 395.5,986.9 395.6,985.9 395.8,984.9 395.9,983.9 396.1,982.9 396.2,981.9 396.4,980.9 396.5,979.9 396.7,978.9 396.9,977.9 397.0,976.9 397.2,975.9 397.4,974.9 397.5,973.9 397.7,972.9 397.9,971.9 398.0,970.9 398.2,969.9 398.4,968.9 398.6,967.9 398.7,966.9 398.9,965.9 399.1,965.0 399.3,964.0 399.5,963.0 399.6,962.0 399.8,961.0 400.0,960.1 400.2,959.1 400.4,958.1 400.6,957.1 400.8,956.2 401.0,955.2 401.2,954.2 401.4,953.2 401.6,952.3 401.8,951.3 401.9,950.3 402.1,949.3 402.3,948.3 402.5,947.3 402.7,946.3 402.9,945.2 403.1,944.2 403.3,943.1 403.5,942.1 403.7,941.0 403.8,939.9 404.0,938.7 404.2,937.6 404.4,936.5 404.6,935.3 404.8,934.2 405.0,933.0 405.3,931.9 405.5,930.7 405.8,929.5 406.1,928.4 406.4,927.2 406.8,926.1 407.2,925.0 407.6,923.9 408.0,922.8 408.4,921.8 408.9,920.8 409.4,919.9 410.0,919.1 410.5,918.4 411.1,917.7 411.6,917.3 412.2,916.9 412.8,916.7 413.5,916.7 414.1,916.8 414.7,917.1 415.3,917.5 416.0,918.1 416.6,918.7 417.2,919.5 417.8,920.4 418.4,921.3 418.9,922.3 419.5,923.3 420.0,924.4 420.5,925.5 420.9,926.5 421.3,927.6 421.7,928.7 422.0,929.8 422.3,930.8 422.6,931.9 422.8,933.0 423.1,934.0 423.3,935.1 423.5,936.2 423.7,937.2 423.8,938.3 424.0,939.3 424.2,940.4 424.3,941.5 424.5,942.5 424.6,943.6 424.8,944.6 425.0,945.7 425.1,946.7 425.3,947.8 425.4,948.8 425.6,949.8 425.7,950.9 425.9,951.9 426.0,953.0 426.2,954.0 426.3,955.1 426.5,956.1 426.6,957.1 426.8,958.2 426.9,959.2 427.0,960.2 427.2,961.3 427.3,962.3 427.5,963.3 427.6,964.4 427.8,965.4 427.9,966.4 428.0,967.4 428.2,968.5 428.3,969.5 428.5,970.5 428.6,971.6 428.7,972.6 428.9,973.6 429.0,974.6 429.1,975.6 429.3,976.7 429.4,977.7 429.5,978.7 429.7,979.7 429.8,980.7 429.9,981.8 430.1,982.8 430.2,983.8 430.3,984.8 430.5,985.8 430.6,986.8 430.7,987.9 430.8,988.9 431.0,989.9 431.1,990.9 431.2,991.9 431.3,992.9 431.5,993.9 431.6,994.9 431.7,995.9 431.8,997.0 432.0,998.0 432.1,999.0 432.2,1000.0 432.3,1001.0 432.4,1002.0 432.6,1003.0 432.7,1004.0 432.8,1005.0 432.9,1006.0 433.0,1007.0 433.2,1008.0 433.3,1009.1 433.4,1010.1 433.5,1011.1 433.6,1012.1 433.7,1013.1 433.9,1014.1 434.0,1015.1 434.1,1016.1 434.2,1017.1 434.3,1018.1 434.4,1019.1 434.5,1020.1 434.6,1021.1 434.8,1022.1 434.9,1023.1 435.0,1024.1 435.1,1025.1 435.2,1026.1 435.3,1027.1 435.4,1028.1 435.5,1029.2 435.6,1030.2 435.7,1031.2 435.8,1032.2 435.9,1033.2 436.1,1034.2 436.2,1035.2 436.3,1036.2 436.4,1037.2 436.5,1038.2 436.6,1039.2 436.7,1040.2 436.8,1041.2 436.9,1042.2 437.0,1043.2 437.1,1044.3 437.2,1045.3 437.3,1046.3 437.4,1047.3 437.5,1048.3 437.6,1049.3 437.7,1050.3 437.8,1051.3 437.9,1052.3 438.0,1053.3 438.1,1054.4 438.2,1055.4 438.3,1056.4 438.4,1057.4 438.5,1058.4 438.6,1059.4 438.7,1060.4 438.8,1061.5 438.9,1062.5 439.0,1063.5 439.1,1064.5 439.2,1065.5 439.3,1066.6 439.4,1067.6 439.5,1068.6 439.6,1069.6 439.7,1070.6 439.8,1071.7 439.9,1072.7 440.0,1073.7 440.0,1074.7 440.1,1075.7 440.2,1076.8 440.3,1077.8 440.4,1078.8 440.5,1079.8 440.6,1080.9 440.7,1081.9 440.8,1082.9 440.9,1083.9 441.0,1085.0 441.1,1086.0 441.2,1087.0 441.3,1088.1 441.4,1089.1 441.5,1090.1 441.6,1091.1 441.7,1092.2 441.8,1093.2 441.9,1094.2 442.0,1095.3 442.1,1096.3 442.2,1097.3 442.3,1098.3 442.4,1099.4 442.5,1100.4 442.6,1101.4 442.7,1102.5 442.8,1103.5 442.9,1104.5 443.0,1105.6 443.1,1106.6 443.2,1107.6 443.3,1108.7 443.4,1109.7 443.5,1110.7 443.6,1111.8 443.7,1112.8 443.8,1113.8 443.9,1114.8 444.0,1115.9 444.1,1116.9 444.2,1117.9 444.3,1119.0 444.5,1120.0 444.6,1121.0 444.7,1122.1 444.8,1123.1 444.9,1124.1 445.0,1125.2 445.1,1126.2 445.2,1127.2 445.4,1128.3 445.5,1129.3 445.6,1130.3 445.7,1131.4 445.8,1132.4 445.9,1133.4 446.1,1134.4 446.2,1135.5 446.3,1136.5 446.4,1137.5 446.6,1138.6 446.7,1139.6 446.8,1140.6 446.9,1141.7 447.1,1142.7 447.2,1143.7 447.3,1144.7 447.5,1145.8 447.6,1146.8 447.7,1147.8 447.9,1148.9 448.0,1149.9 448.1,1150.9 448.3,1151.9 448.4,1153.0 448.5,1154.0 448.7,1155.0 448.8,1156.0 449.0,1157.1 449.1,1158.1 449.3,1159.1 449.4,1160.1 449.6,1161.2 449.7,1162.2 449.9,1163.2 450.0,1164.2 450.2,1165.2 450.3,1166.3 450.5,1167.3 450.6,1168.3 450.8,1169.3 451.0,1170.3 451.1,1171.4 451.3,1172.4 451.5,1173.4 451.6,1174.4 451.8,1175.4 452.0,1176.4 452.1,1177.5 452.3,1178.5 452.5,1179.5 452.7,1180.5 452.8,1181.5 453.0,1182.5 453.2,1183.5 453.4,1184.5 453.6,1185.6 453.8,1186.6 453.9,1187.6 454.1,1188.6 454.3,1189.6 454.5,1190.6 454.7,1191.6 454.9,1192.6 455.1,1193.6 455.3,1194.6 455.5,1195.6 455.7,1196.6 455.9,1197.6 456.1,1198.6 456.3,1199.6 456.6,1200.6 456.8,1201.6 457.0,1202.6 457.2,1203.6 457.4,1204.6 457.6,1205.6 457.9,1206.6 458.1,1207.6 458.3,1208.6 458.6,1209.6 458.8,1210.6 459.0,1211.5 459.3,1212.5 459.5,1213.5 459.7,1214.5 460.0,1215.5 460.2,1216.5 460.5,1217.5 460.7,1218.4 461.0,1219.4 461.2,1220.4 461.5,1221.4 461.7,1222.4 462.0,1223.3 462.3,1224.3 462.5,1225.3 462.8,1226.3 463.0,1227.2 463.3,1228.2 463.6,1229.2 463.9,1230.2 464.1,1231.1 464.4,1232.1 464.7,1233.1 465.0,1234.1 465.2,1235.0 465.5,1236.0 465.8,1237.0 466.1,1237.9 466.4,1238.9 466.7,1239.9 467.0,1240.8 467.2,1241.8 467.5,1242.8 467.8,1243.7 468.1,1244.7 468.4,1245.7 468.7,1246.6 469.0,1247.6 469.3,1248.6 469.6,1249.5 469.9,1250.5 470.2,1251.5 470.5,1252.4 470.8,1253.4 471.2,1254.3 471.5,1255.3 471.8,1256.3 472.1,1257.2 472.4,1258.2 472.7,1259.1 473.0,1260.1 473.3,1261.1 473.7,1262.0 474.0,1263.0 474.3,1263.9 474.6,1264.9 474.9,1265.9 475.3,1266.8 475.6,1267.8 475.9,1268.8 476.2,1269.7 476.6,1270.7 476.9,1271.6 477.2,1272.6 477.6,1273.6 477.9,1274.5 478.2,1275.5 478.6,1276.4 478.9,1277.4 479.2,1278.4 479.6,1279.3 479.9,1280.3 480.2,1281.2 480.6,1282.2 480.9,1283.2 481.2,1284.1 481.6,1285.1 481.9,1286.1 482.3,1287.0 482.6,1288.0 482.9,1288.9 483.3,1289.9 483.6,1290.9 484.0,1291.8 484.3,1292.8 484.6,1293.8 485.0,1294.7 485.3,1295.7 485.7,1296.7 486.0,1297.6 486.4,1298.6 486.7,1299.6 487.0,1300.5 487.4,1301.5 487.7,1302.5 488.1,1303.5 488.4,1304.4 488.8,1305.4 489.1,1306.4 489.5,1307.3 489.8,1308.3 490.2,1309.3 490.5,1310.3 490.9,1311.2 491.2,1312.2 491.5,1313.2 491.9,1314.2 492.2,1315.2 492.6,1316.1 492.9,1317.1 493.3,1318.1 493.6,1319.1 494.0,1320.1 494.3,1321.0 494.7,1322.0 495.0,1323.0 495.4,1324.0 495.7,1325.0 496.0,1326.0 496.4,1327.0 496.7,1328.0 497.1,1328.9 497.4,1329.9 497.8,1330.9 498.1,1331.9 498.4,1332.9 498.8,1333.9 499.1,1334.9 499.5,1335.9 499.8,1336.9 500.2,1337.9 500.5,1338.9 500.8,1339.9 501.2,1340.9 501.5,1341.9 501.9,1342.9 502.2,1343.9 502.5,1344.9 502.9,1345.9 503.2,1346.9 503.6,1347.9 503.9,1349.0 504.3,1350.0 504.6,1351.0 505.0,1352.0 505.3,1353.0 505.6,1354.0 506.0,1355.0 506.3,1356.0 506.7,1357.0 507.0,1358.0 507.4,1359.0 507.8,1360.0 508.1,1361.0 508.5,1362.0 508.8,1363.0 509.2,1364.0 509.5,1365.0 509.9,1366.0 510.3,1367.0 510.6,1368.0 511.0,1369.0 511.4,1370.0 511.7,1370.9 512.1,1371.9 512.5,1372.9 512.9,1373.9 513.2,1374.9 513.6,1375.9 514.0,1376.9 514.4,1377.8 514.8,1378.8 515.2,1379.8 515.6,1380.8 516.0,1381.7 516.4,1382.7 516.8,1383.7 517.2,1384.6 517.6,1385.6 518.0,1386.6 518.4,1387.5 518.8,1388.5 519.2,1389.4 519.7,1390.4 520.1,1391.3 520.5,1392.3 520.9,1393.2 521.4,1394.2 521.8,1395.1 522.2,1396.0 522.7,1397.0 523.1,1397.9 523.6,1398.8 524.0,1399.7 524.5,1400.7 525.0,1401.6 525.4,1402.5 525.9,1403.4 526.4,1404.3 526.9,1405.2 527.3,1406.1 527.8,1407.0 528.3,1407.9 528.8,1408.8 529.3,1409.6 529.8,1410.5 530.3,1411.4 530.8,1412.3 531.4,1413.1 531.9,1414.0 532.4,1414.9 532.9,1415.7 533.5,1416.6 534.0,1417.4 534.6,1418.2 535.1,1419.1 535.7,1419.9 536.2,1420.7 536.8,1421.6 537.4,1422.4 537.9,1423.2 538.5,1424.0 539.1,1424.8 539.7,1425.6 540.3,1426.4 540.9,1427.2 541.5,1428.0 542.1,1428.7 542.8,1429.5 543.4,1430.3 544.0,1431.0 544.7,1431.8 545.3,1432.5 546.0,1433.3 546.6,1434.0 547.3,1434.7 548.0,1435.5 548.6,1436.2 549.3,1436.9 550.0,1437.6 550.7,1438.3 551.4,1439.0 552.1,1439.7 552.8,1440.4 553.5,1441.0 554.3,1441.7 555.0,1442.4 555.8,1443.0 556.5,1443.7 557.3,1444.3 558.0,1445.0 558.8,1445.6 559.6,1446.2 560.3,1446.8 561.1,1447.4 561.9,1448.0 562.7,1448.6 563.5,1449.2 564.3,1449.8 565.1,1450.4 566.0,1451.0 566.8,1451.5 567.6,1452.1 568.5,1452.7 569.3,1453.2 570.2,1453.8 571.0,1454.3 571.9,1454.8 572.7,1455.4 573.6,1455.9 574.5,1456.4 575.3,1456.9 576.2,1457.4 577.1,1457.9 578.0,1458.4 578.9,1458.9 579.8,1459.4 580.7,1459.8 581.6,1460.3 582.5,1460.8 583.4,1461.2 584.3,1461.7 585.3,1462.1 586.2,1462.5 587.1,1463.0 588.1,1463.4 589.0,1463.8 589.9,1464.2 590.9,1464.7 591.8,1465.1 592.8,1465.5 593.7,1465.9 594.7,1466.2 595.6,1466.6 596.6,1467.0 597.6,1467.4 598.5,1467.7 599.5,1468.1 600.5,1468.5 601.5,1468.8 602.4,1469.2 603.4,1469.5 604.4,1469.8 605.4,1470.2 606.4,1470.5 607.4,1470.8 608.3,1471.1 609.3,1471.4 610.3,1471.7 611.3,1472.0 612.3,1472.3 613.3,1472.6 614.3,1472.9 615.3,1473.1 616.3,1473.4 617.3,1473.7 618.3,1473.9 619.4,1474.2 620.4,1474.4 621.4,1474.7 622.4,1474.9 623.4,1475.2 624.4,1475.4 625.4,1475.6 626.4,1475.8 627.4,1476.1 628.4,1476.3 629.5,1476.5 630.5,1476.7 631.5,1476.9 632.5,1477.1 633.5,1477.2 634.5,1477.4 635.6,1477.6 636.6,1477.8 637.6,1477.9 638.6,1478.1 639.6,1478.3 640.6,1478.4 641.7,1478.6 642.7,1478.7 643.7,1478.9 644.7,1479.0 645.7,1479.1 646.8,1479.3 647.8,1479.4 648.8,1479.5 649.8,1479.6 650.8,1479.8 651.9,1479.9 652.9,1480.0 653.9,1480.1 654.9,1480.2 656.0,1480.3 657.0,1480.4 658.0,1480.5 659.0,1480.6 660.1,1480.6 661.1,1480.7 662.1,1480.8 663.1,1480.9 664.2,1481.0 665.2,1481.0 666.2,1481.1 667.2,1481.2 668.3,1481.2 669.3,1481.3 670.3,1481.3 671.3,1481.4 672.4,1481.4 673.4,1481.5 674.4,1481.5 675.5,1481.6 676.5,1481.6 677.5,1481.7 678.5,1481.7 679.6,1481.7 680.6,1481.8 681.6,1481.8 682.7,1481.8 683.7,1481.9 684.7,1481.9 685.7,1481.9 686.8,1481.9 687.8,1481.9 688.8,1482.0 689.9,1482.0 690.9,1482.0 691.9,1482.0 693.0,1482.0 694.0,1482.0 695.0,1482.0 696.1,1482.0 697.1,1482.0 698.1,1482.0 699.1,1482.0 700.2,1482.0 701.2,1482.0 702.2,1482.0 703.3,1482.0 704.3,1482.0 705.3,1482.0 706.4,1482.0 707.4,1482.0 708.4,1482.0 709.5,1482.0 710.5,1482.0 711.5,1482.0 712.6,1482.0 713.6,1482.0 714.6,1482.0 715.6,1482.0 716.7,1482.0 717.7,1482.0 718.7,1482.0 719.8,1481.9 720.8,1481.9 721.8,1481.9 722.9,1481.9 723.9,1481.9 724.9,1481.9 726.0,1481.9 727.0,1481.9 728.0,1481.9 729.0,1481.9 730.1,1481.9 731.1,1481.9 732.1,1481.8 733.2,1481.8 734.2,1481.8 735.2,1481.8 736.3,1481.8 737.3,1481.8 738.3,1481.8 739.3,1481.8 740.4,1481.8 741.4,1481.8 742.4,1481.8 743.5,1481.8 744.5,1481.8 745.5,1481.8 746.5,1481.9 747.6,1481.9 748.6,1481.9 749.6,1481.9 750.7,1481.9 751.7,1481.9 752.7,1481.9 753.7,1481.9 754.8,1482.0 755.8,1482.0 756.8,1482.0 757.8,1482.0 758.9,1482.1 759.9,1482.1 760.9,1482.1 761.9,1482.2 763.0,1482.2 764.0,1482.2 765.0,1482.3 766.0,1482.3 767.0,1482.3 768.1,1482.4 769.1,1482.4 770.1,1482.5 771.1,1482.5 772.2,1482.6 773.2,1482.6 774.2,1482.7 775.2,1482.7 776.2,1482.8 777.3,1482.8 778.3,1482.9 779.3,1482.9 780.3,1483.0 781.3,1483.0 782.4,1483.1 783.4,1483.2 784.4,1483.2 785.4,1483.3 786.4,1483.3 787.5,1483.4 788.5,1483.4 789.5,1483.5 790.5,1483.5 791.5,1483.6 792.6,1483.7 793.6,1483.7 794.6,1483.8 795.6,1483.8 796.6,1483.9 797.7,1483.9 798.7,1484.0 799.7,1484.0 800.7,1484.0 801.7,1484.1 802.8,1484.1 803.8,1484.2 804.8,1484.2 805.8,1484.2 806.8,1484.3 807.9,1484.3 808.9,1484.3 809.9,1484.4 810.9,1484.4 812.0,1484.4 813.0,1484.4 814.0,1484.5 815.0,1484.5 816.0,1484.5 817.1,1484.5 818.1,1484.5 819.1,1484.5 820.1,1484.5 821.2,1484.5 822.2,1484.5 823.2,1484.5 824.2,1484.5 825.3,1484.5 826.3,1484.5 827.3,1484.5 828.4,1484.4 829.4,1484.4 830.4,1484.4 831.4,1484.3 832.5,1484.3 833.5,1484.3 834.5,1484.2 835.6,1484.2 836.6,1484.1 837.6,1484.1 838.7,1484.0 839.7,1483.9 840.7,1483.8 841.8,1483.8 842.8,1483.7 843.8,1483.6 844.9,1483.5 845.9,1483.4 846.9,1483.3 848.0,1483.2 849.0,1483.1 850.0,1483.0" fill="none" stroke="#000" stroke-width="6" stroke-linejoin="round" stroke-linecap="round"/>
<polyline points="190.5,1485.8 191.2,1485.7 191.8,1485.5 192.5,1485.4 193.2,1485.2 193.8,1485.1 194.5,1485.0 195.2,1484.9 195.9,1484.7 196.6,1484.6 197.3,1484.5 198.1,1484.4 198.8,1484.3 199.5,1484.3 200.3,1484.2 201.0,1484.1 201.8,1484.0 202.5,1484.0 203.3,1484.0 204.0,1484.0 204.8,1484.0 205.6,1484.0 206.3,1484.0 207.1,1484.0 207.9,1484.0 208.7,1484.0 209.5,1484.0 210.3,1484.0 211.1,1484.0 211.9,1484.0 212.7,1484.0 213.5,1484.0 214.3,1484.0 215.2,1484.0 216.0,1484.0 216.8,1484.0 217.7,1484.0 218.5,1484.0 219.3,1484.0 220.2,1484.0 221.0,1484.0 221.9,1484.0 222.7,1484.0 223.6,1484.0 224.4,1484.0 225.3,1484.0 226.1,1484.0 227.0,1484.0 227.8,1484.0 228.7,1484.0 229.6,1484.0 230.4,1484.0 231.3,1484.0 232.2,1484.0 233.0,1484.0 233.9,1484.0 234.8,1484.0 235.6,1484.0 236.5,1484.0 237.4,1484.0 238.3,1484.0 239.1,1484.0 240.0,1484.0 240.9,1484.0 241.8,1484.0 242.6,1484.0 243.5,1484.0 244.4,1484.0 245.3,1484.0 246.1,1483.9 247.0,1483.9 247.9,1483.9 248.7,1483.9 249.6,1483.9 250.5,1483.9 251.4,1483.8 252.2,1483.8 253.1,1483.8 253.9,1483.7 254.8,1483.7 255.7,1483.6 256.5,1483.6 257.4,1483.5 258.2,1483.5 259.1,1483.4 259.9,1483.3 260.8,1483.3 261.6,1483.2 262.5,1483.1 263.3,1483.0 264.2,1482.9 265.0,1482.8 265.8,1482.7 266.6,1482.6 267.5,1482.4 268.3,1482.3 269.1,1482.2 269.9,1482.0 270.7,1481.9 271.5,1481.7 272.3,1481.6 273.1,1481.4 273.9,1481.2 274.7,1481.0 275.5,1480.8 276.3,1480.6 277.1,1480.4 277.8,1480.2 278.6,1479.9 279.4,1479.7 280.1,1479.5 280.9,1479.2 281.6,1478.9 282.3,1478.7 283.1,1478.4 283.8,1478.1 284.5,1477.8 285.3,1477.5 286.0,1477.1 286.7,1476.8 287.4,1476.5 288.1,1476.1 288.8,1475.7 289.4,1475.4 290.1,1475.0 290.8,1474.6 291.5,1474.2 292.1,1473.8 292.8,1473.4 293.4,1472.9 294.1,1472.5 294.7,1472.1 295.3,1471.6 296.0,1471.2 296.6,1470.7 297.2,1470.2 297.8,1469.7 298.4,1469.2 299.0,1468.7 299.6,1468.2 300.2,1467.7 300.8,1467.2 301.4,1466.7 302.0,1466.1 302.5,1465.6 303.1,1465.1 303.7,1464.5 304.2,1463.9 304.8,1463.4 305.3,1462.8 305.9,1462.2 306.4,1461.6 306.9,1461.1 307.5,1460.5 308.0,1459.9 308.5,1459.3 309.0,1458.6 309.5,1458.0 310.0,1457.4 310.5,1456.8 311.0,1456.2 311.5,1455.5 312.0,1454.9 312.5,1454.2 313.0,1453.6 313.5,1452.9 313.9,1452.3 314.4,1451.6 314.9,1451.0 315.3,1450.3 315.8,1449.6 316.2,1449.0 316.7,1448.3 317.1,1447.6 317.6,1446.9 318.0,1446.2 318.5,1445.5 318.9,1444.9 319.3,1444.2 319.7,1443.5 320.2,1442.8 320.6,1442.1 321.0,1441.4 321.4,1440.7 321.8,1440.0 322.2,1439.3 322.6,1438.5 323.0,1437.8 323.4,1437.1 323.8,1436.4 324.2,1435.7 324.6,1435.0 324.9,1434.3 325.3,1433.6 325.7,1432.8 326.1,1432.1 326.4,1431.4 326.8,1430.7 327.2,1430.0 327.5,1429.2 327.9,1428.5 328.2,1427.8 328.6,1427.0 328.9,1426.3 329.3,1425.6 329.6,1424.8 330.0,1424.1 330.3,1423.4 330.6,1422.6 331.0,1421.9 331.3,1421.2 331.6,1420.4 331.9,1419.7 332.2,1418.9 332.6,1418.2 332.9,1417.5 333.2,1416.7 333.5,1416.0 333.8,1415.2 334.1,1414.5 334.4,1413.7 334.7,1413.0 335.0,1412.2 335.3,1411.5 335.6,1410.7 335.9,1410.0 336.2,1409.2 336.5,1408.4 336.7,1407.7 337.0,1406.9 337.3,1406.2 337.6,1405.4 337.8,1404.6 338.1,1403.9 338.4,1403.1 338.7,1402.4 338.9,1401.6 339.2,1400.8 339.4,1400.1 339.7,1399.3 340.0,1398.5 340.2,1397.8 340.5,1397.0 340.7,1396.2 341.0,1395.4 341.2,1394.7 341.5,1393.9 341.7,1393.1 341.9,1392.3 342.2,1391.6 342.4,1390.8 342.6,1390.0 342.9,1389.2 343.1,1388.5 343.3,1387.7 343.6,1386.9 343.8,1386.1 344.0,1385.3 344.2,1384.6 344.5,1383.8 344.7,1383.0 344.9,1382.2 345.1,1381.4 345.3,1380.7 345.6,1379.9 345.8,1379.1 346.0,1378.3 346.2,1377.5 346.4,1376.7 346.6,1375.9 346.8,1375.1 347.0,1374.4 347.2,1373.6 347.4,1372.8 347.6,1372.0 347.8,1371.2 348.0,1370.4 348.2,1369.6 348.4,1368.8 348.6,1368.0 348.8,1367.2 349.0,1366.5 349.2,1365.7 349.4,1364.9 349.6,1364.1 349.8,1363.3 349.9,1362.5 350.1,1361.7 350.3,1360.9 350.5,1360.1 350.7,1359.3 350.9,1358.5 351.0,1357.7 351.2,1356.9 351.4,1356.1 351.6,1355.3 351.8,1354.5 351.9,1353.7 352.1,1352.9 352.3,1352.1 352.5,1351.3 352.6,1350.5 352.8,1349.8 353.0,1349.0 353.2,1348.2 353.3,1347.4 353.5,1346.6 353.7,1345.8 353.9,1345.0 354.0,1344.2 354.2,1343.4 354.4,1342.6 354.5,1341.8 354.7,1341.0 354.9,1340.2 355.0,1339.4 355.2,1338.6 355.4,1337.8 355.6,1337.0 355.7,1336.2 355.9,1335.4 356.1,1334.6 356.2,1333.8 356.4,1333.0 356.6,1332.2 356.7,1331.4 356.9,1330.6 357.1,1329.8 357.2,1329.0 357.4,1328.2 357.6,1327.4 357.7,1326.6 357.9,1325.8 358.1,1325.0 358.2,1324.3 358.4,1323.5 358.6,1322.7 358.7,1321.9 358.9,1321.1 359.1,1320.3 359.2,1319.5 359.4,1318.7 359.6,1317.9 359.7,1317.1 359.9,1316.3 360.1,1315.5 360.3,1314.7 360.4,1313.9 360.6,1313.2 360.8,1312.4 360.9,1311.6 361.1,1310.8 361.3,1310.0 361.5,1309.2 361.6,1308.4 361.8,1307.6 362.0,1306.8 362.1,1306.1 362.3,1305.3 362.5,1304.5 362.7,1303.7 362.8,1302.9 363.0,1302.1 363.2,1301.3 363.4,1300.5 363.5,1299.8 363.7,1299.0 363.9,1298.2 364.1,1297.4 364.2,1296.6 364.4,1295.8 364.6,1295.0 364.7,1294.2 364.9,1293.5 365.1,1292.7 365.3,1291.9 365.4,1291.1 365.6,1290.3 365.8,1289.5 366.0,1288.8 366.1,1288.0 366.3,1287.2 366.5,1286.4 366.7,1285.6 366.8,1284.8 367.0,1284.0 367.2,1283.3 367.4,1282.5 367.5,1281.7 367.7,1280.9 367.9,1280.1 368.1,1279.3 368.2,1278.6 368.4,1277.8 368.6,1277.0 368.7,1276.2 368.9,1275.4 369.1,1274.6 369.3,1273.9 369.4,1273.1 369.6,1272.3 369.8,1271.5 370.0,1270.7 370.1,1269.9 370.3,1269.2 370.5,1268.4 370.6,1267.6 370.8,1266.8 371.0,1266.0 371.2,1265.2 371.3,1264.5 371.5,1263.7 371.7,1262.9 371.8,1262.1 372.0,1261.3 372.2,1260.5 372.3,1259.8 372.5,1259.0 372.7,1258.2 372.8,1257.4 373.0,1256.6 373.2,1255.8 373.3,1255.0 373.5,1254.3 373.7,1253.5 373.8,1252.7 374.0,1251.9 374.2,1251.1 374.3,1250.3 374.5,1249.5 374.7,1248.8 374.8,1248.0 375.0,1247.2 375.2,1246.4 375.3,1245.6 375.5,1244.8 375.6,1244.0 375.8,1243.2 376.0,1242.5 376.1,1241.7 376.3,1240.9 376.4,1240.1 376.6,1239.3 376.8,1238.5 376.9,1237.7 377.1,1236.9 377.2,1236.2 377.4,1235.4 377.5,1234.6 377.7,1233.8 377.8,1233.0 378.0,1232.2 378.1,1231.4 378.3,1230.6 378.5,1229.8 378.6,1229.0 378.8,1228.2 378.9,1227.4 379.1,1226.7 379.2,1225.9 379.4,1225.1 379.5,1224.3 379.6,1223.5 379.8,1222.7 379.9,1221.9 380.1,1221.1 380.2,1220.3 380.4,1219.5 380.5,1218.7 380.7,1217.9 380.8,1217.1 380.9,1216.3 381.1,1215.5 381.2,1214.7 381.4,1213.9 381.5,1213.1 381.6,1212.3 381.8,1211.5 381.9,1210.7 382.0,1209.9 382.2,1209.1 382.3,1208.3 382.4,1207.5 382.6,1206.7 382.7,1205.9 382.8,1205.1 383.0,1204.3 383.1,1203.5 383.2,1202.7 383.3,1201.9 383.5,1201.1 383.6,1200.3 383.7,1199.4 383.8,1198.6 384.0,1197.8 384.1,1197.0 384.2,1196.2 384.3,1195.4 384.5,1194.6 384.6,1193.8 384.7,1193.0 384.8,1192.2 384.9,1191.3 385.0,1190.5 385.2,1189.7 385.3,1188.9 385.4,1188.1 385.5,1187.3 385.6,1186.5 385.7,1185.7 385.9,1184.9 386.0,1184.0 386.1,1183.2 386.2,1182.4 386.3,1181.6 386.4,1180.8 386.6,1180.0 386.7,1179.2 386.8,1178.4 386.9,1177.5 387.0,1176.7 387.2,1175.9 387.3,1175.1 387.4,1174.3 387.5,1173.5 387.6,1172.7 387.8,1171.9 387.9,1171.1 388.0,1170.3 388.1,1169.5 388.3,1168.6 388.4,1167.8 388.5,1167.0 388.6,1166.2 388.8,1165.4 388.9,1164.6 389.0,1163.8 389.2,1163.0 389.3,1162.2 389.4,1161.4 389.6,1160.6 389.7,1159.8 389.8,1159.0 390.0,1158.2 390.1,1157.4 390.3,1156.6 390.4,1155.8 390.6,1155.0 390.7,1154.3 390.9,1153.5 391.0,1152.7 391.2,1151.9 391.3,1151.1 391.5,1150.3 391.6,1149.5 391.8,1148.7 392.0,1148.0 392.1,1147.2 392.3,1146.4 392.5,1145.6 392.6,1144.8 392.8,1144.1 393.0,1143.3 393.2,1142.5 393.3,1141.7 393.5,1141.0 393.7,1140.2 393.9,1139.4 394.1,1138.7 394.3,1137.9 394.5,1137.1 394.7,1136.4 394.9,1135.6 395.1,1134.9 395.3,1134.1 395.5,1133.4 395.7,1132.6 395.9,1131.9 396.2,1131.1 396.4,1130.4 396.6,1129.6 396.8,1128.9 397.1,1128.1 397.3,1127.4 397.5,1126.6 397.7,1125.9 398.0,1125.1 398.2,1124.4 398.4,1123.6 398.7,1122.8 398.9,1122.1 399.1,1121.3 399.4,1120.5 399.6,1119.7 399.8,1118.9 400.1,1118.1 400.3,1117.3 400.5,1116.4 400.7,1115.6 400.9,1114.8 401.1,1113.9 401.4,1113.0 401.6,1112.2 401.8,1111.3 402.0,1110.4 402.3,1109.5 402.5,1108.7 402.7,1107.8 403.0,1106.9 403.2,1106.0 403.5,1105.1 403.8,1104.2 404.1,1103.3 404.4,1102.5 404.7,1101.6 405.0,1100.7 405.4,1099.8 405.7,1099.0 406.1,1098.1 406.5,1097.3 406.9,1096.5 407.3,1095.7 407.7,1095.0 408.1,1094.3 408.6,1093.7 409.0,1093.1 409.5,1092.6 409.9,1092.2 410.4,1091.8 410.9,1091.6 411.3,1091.4 411.8,1091.3 412.3,1091.3 412.8,1091.3 413.2,1091.5 413.7,1091.8 414.2,1092.2 414.7,1092.6 415.1,1093.1 415.6,1093.6 416.1,1094.3 416.5,1094.9 417.0,1095.6 417.4,1096.4 417.9,1097.2 418.3,1098.0 418.7,1098.8 419.1,1099.7 419.5,1100.5 419.9,1101.4 420.3,1102.2 420.7,1103.1 421.0,1104.0 421.4,1104.9 421.7,1105.7 422.1,1106.6 422.4,1107.5 422.7,1108.3 423.0,1109.2 423.3,1110.1 423.5,1110.9 423.8,1111.8 424.1,1112.7 424.3,1113.5 424.6,1114.4 424.8,1115.2 425.0,1116.0 425.2,1116.9 425.4,1117.7 425.7,1118.5 425.8,1119.3 426.0,1120.1 426.2,1120.9 426.4,1121.7 426.6,1122.5 426.7,1123.2 426.9,1124.0 427.1,1124.8 427.2,1125.5 427.4,1126.3 427.5,1127.1 427.7,1127.8 427.8,1128.6 428.0,1129.4 428.1,1130.1 428.2,1130.9 428.4,1131.6 428.5,1132.4 428.7,1133.2 428.8,1133.9 429.0,1134.7 429.1,1135.5 429.3,1136.2 429.4,1137.0 429.6,1137.8 429.7,1138.5 429.9,1139.3 430.0,1140.1 430.2,1140.9 430.3,1141.6 430.5,1142.4 430.6,1143.2 430.8,1144.0 430.9,1144.8 431.1,1145.5 431.3,1146.3 431.4,1147.1 431.6,1147.9 431.7,1148.7 431.9,1149.5 432.0,1150.3 432.2,1151.0 432.3,1151.8 432.5,1152.6 432.6,1153.4 432.8,1154.2 432.9,1155.0 433.1,1155.8 433.2,1156.6 433.4,1157.4 433.5,1158.2 433.7,1159.0 433.8,1159.8 434.0,1160.6 434.1,1161.4 434.2,1162.2 434.4,1163.0 434.5,1163.8 434.7,1164.6 434.8,1165.4 434.9,1166.2 435.1,1167.0 435.2,1167.8 435.3,1168.6 435.5,1169.4 435.6,1170.2 435.7,1171.0 435.9,1171.8 436.0,1172.6 436.1,1173.4 436.2,1174.2 436.4,1175.1 436.5,1175.9 436.6,1176.7 436.7,1177.5 436.8,1178.3 436.9,1179.1 437.0,1179.9 437.1,1180.7 437.2,1181.5 437.4,1182.3 437.5,1183.1 437.6,1184.0 437.7,1184.8 437.7,1185.6 437.8,1186.4 437.9,1187.2 438.0,1188.0 438.1,1188.8 438.2,1189.6 438.3,1190.4 438.4,1191.3 438.5,1192.1 438.5,1192.9 438.6,1193.7 438.7,1194.5 438.8,1195.3 438.9,1196.1 438.9,1196.9 439.0,1197.7 439.1,1198.6 439.2,1199.4 439.3,1200.2 439.3,1201.0 439.4,1201.8 439.5,1202.6 439.6,1203.4 439.6,1204.2 439.7,1205.0 439.8,1205.9 439.9,1206.7 439.9,1207.5 440.0,1208.3 440.1,1209.1 440.2,1209.9 440.2,1210.7 440.3,1211.5 440.4,1212.3 440.5,1213.1 440.6,1214.0 440.6,1214.8 440.7,1215.6 440.8,1216.4 440.9,1217.2 441.0,1218.0 441.1,1218.8 441.1,1219.6 441.2,1220.4 441.3,1221.2 441.4,1222.0 441.5,1222.8 441.6,1223.6 441.7,1224.4 441.8,1225.2 441.9,1226.0 442.0,1226.8 442.1,1227.6 442.2,1228.4 442.3,1229.3 442.4,1230.1 442.5,1230.9 442.6,1231.7 442.7,1232.5 442.8,1233.2 443.0,1234.0 443.1,1234.8 443.2,1235.6 443.3,1236.4 443.5,1237.2 443.6,1238.0 443.7,1238.8 443.9,1239.6 444.0,1240.4 444.1,1241.2 444.3,1242.0 444.4,1242.8 444.6,1243.6 444.7,1244.4 444.9,1245.2 445.0,1245.9 445.2,1246.7 445.4,1247.5 445.5,1248.3 445.7,1249.1 445.9,1249.9 446.1,1250.7 446.3,1251.4 446.4,1252.2 446.6,1253.0 446.8,1253.8 447.0,1254.6 447.2,1255.4 447.4,1256.1 447.6,1256.9 447.8,1257.7 448.0,1258.5 448.2,1259.2 448.4,1260.0 448.6,1260.8 448.9,1261.6 449.1,1262.4 449.3,1263.1 449.5,1263.9 449.7,1264.7 450.0,1265.4 450.2,1266.2 450.4,1267.0 450.7,1267.8 450.9,1268.5 451.1,1269.3 451.4,1270.1 451.6,1270.8 451.9,1271.6 452.1,1272.4 452.4,1273.1 452.6,1273.9 452.9,1274.7 453.1,1275.4 453.4,1276.2 453.6,1277.0 453.9,1277.7 454.1,1278.5 454.4,1279.3 454.7,1280.0 454.9,1280.8 455.2,1281.6 455.4,1282.3 455.7,1283.1 456.0,1283.9 456.3,1284.6 456.5,1285.4 456.8,1286.1 457.1,1286.9 457.3,1287.7 457.6,1288.4 457.9,1289.2 458.2,1289.9 458.5,1290.7 458.7,1291.4 459.0,1292.2 459.3,1293.0 459.6,1293.7 459.9,1294.5 460.1,1295.2 460.4,1296.0 460.7,1296.7 461.0,1297.5 461.3,1298.3 461.6,1299.0 461.9,1299.8 462.2,1300.5 462.4,1301.3 462.7,1302.0 463.0,1302.8 463.3,1303.5 463.6,1304.3 463.9,1305.0 464.2,1305.8 464.5,1306.5 464.8,1307.3 465.1,1308.0 465.4,1308.8 465.7,1309.5 466.0,1310.3 466.2,1311.0 466.5,1311.8 466.8,1312.5 467.1,1313.3 467.4,1314.0 467.7,1314.8 468.0,1315.5 468.3,1316.3 468.6,1317.0 468.9,1317.8 469.2,1318.5 469.5,1319.3 469.8,1320.0 470.1,1320.8 470.5,1321.5 470.8,1322.3 471.1,1323.0 471.4,1323.8 471.7,1324.5 472.0,1325.2 472.3,1326.0 472.6,1326.7 472.9,1327.5 473.2,1328.2 473.5,1329.0 473.8,1329.7 474.2,1330.4 474.5,1331.2 474.8,1331.9 475.1,1332.7 475.4,1333.4 475.7,1334.1 476.0,1334.9 476.4,1335.6 476.7,1336.4 477.0,1337.1 477.3,1337.8 477.6,1338.6 478.0,1339.3 478.3,1340.1 478.6,1340.8 478.9,1341.5 479.3,1342.3 479.6,1343.0 479.9,1343.7 480.2,1344.5 480.6,1345.2 480.9,1345.9 481.2,1346.7 481.6,1347.4 481.9,1348.1 482.2,1348.9 482.6,1349.6 482.9,1350.3 483.2,1351.1 483.6,1351.8 483.9,1352.5 484.3,1353.3 484.6,1354.0 484.9,1354.7 485.3,1355.4 485.6,1356.2 486.0,1356.9 486.3,1357.6 486.7,1358.4 487.0,1359.1 487.4,1359.8 487.7,1360.5 488.1,1361.3 488.4,1362.0 488.8,1362.7 489.1,1363.4 489.5,1364.2 489.8,1364.9 490.2,1365.6 490.5,1366.3 490.9,1367.1 491.3,1367.8 491.6,1368.5 492.0,1369.2 492.3,1369.9 492.7,1370.7 493.1,1371.4 493.4,1372.1 493.8,1372.8 494.2,1373.5 494.5,1374.2 494.9,1375.0 495.3,1375.7 495.7,1376.4 496.0,1377.1 496.4,1377.8 496.8,1378.5 497.2,1379.3 497.5,1380.0 497.9,1380.7 498.3,1381.4 498.7,1382.1 499.1,1382.8 499.5,1383.5 499.8,1384.2 500.2,1385.0 500.6,1385.7 501.0,1386.4 501.4,1387.1 501.8,1387.8 502.2,1388.5 502.6,1389.2 503.0,1389.9 503.4,1390.6 503.8,1391.3 504.2,1392.0 504.6,1392.7 505.0,1393.4 505.4,1394.1 505.8,1394.8 506.2,1395.5 506.6,1396.2 507.0,1396.9 507.4,1397.7 507.9,1398.4 508.3,1399.1 508.7,1399.7 509.1,1400.4 509.5,1401.1 509.9,1401.8 510.4,1402.5 510.8,1403.2 511.2,1403.9 511.6,1404.6 512.1,1405.3 512.5,1406.0 512.9,1406.7 513.4,1407.4 513.8,1408.1 514.2,1408.8 514.7,1409.5 515.1,1410.2 515.6,1410.9 516.0,1411.6 516.4,1412.2 516.9,1412.9 517.3,1413.6 517.8,1414.3 518.2,1415.0 518.7,1415.7 519.1,1416.4 519.6,1417.1 520.0,1417.7 520.5,1418.4 521.0,1419.1 521.4,1419.8 521.9,1420.5 522.3,1421.1 522.8,1421.8 523.3,1422.5 523.7,1423.2 524.2,1423.9 524.7,1424.5 525.2,1425.2 525.6,1425.9 526.1,1426.6 526.6,1427.2 527.1,1427.9 527.6,1428.6 528.0,1429.2 528.5,1429.9 529.0,1430.6 529.5,1431.2 530.0,1431.9 530.5,1432.6 531.0,1433.2 531.5,1433.9 532.0,1434.5 532.5,1435.2 533.0,1435.8 533.5,1436.5 534.0,1437.1 534.6,1437.7 535.1,1438.4 535.6,1439.0 536.1,1439.6 536.6,1440.3 537.2,1440.9 537.7,1441.5 538.2,1442.1 538.7,1442.7 539.3,1443.4 539.8,1444.0 540.4,1444.6 540.9,1445.2 541.5,1445.8 542.0,1446.4 542.6,1447.0 543.1,1447.5 543.7,1448.1 544.2,1448.7 544.8,1449.3 545.4,1449.8 545.9,1450.4 546.5,1451.0 547.1,1451.5 547.7,1452.1 548.2,1452.6 548.8,1453.2 549.4,1453.7 550.0,1454.2 550.6,1454.8 551.2,1455.3 551.8,1455.8 552.4,1456.3 553.0,1456.8 553.6,1457.3 554.2,1457.8 554.8,1458.3 555.4,1458.8 556.1,1459.3 556.7,1459.8 557.3,1460.3 558.0,1460.7 558.6,1461.2 559.2,1461.6 559.9,1462.1 560.5,1462.5 561.2,1462.9 561.8,1463.4 562.5,1463.8 563.1,1464.2 563.8,1464.6 564.5,1465.0 565.2,1465.4 565.8,1465.8 566.5,1466.2 567.2,1466.6 567.9,1466.9 568.6,1467.3 569.3,1467.7 570.0,1468.0 570.7,1468.3 571.4,1468.7 572.1,1469.0 572.8,1469.4 573.5,1469.7 574.2,1470.0 574.9,1470.3 575.6,1470.6 576.4,1470.9 577.1,1471.2 577.8,1471.5 578.6,1471.8 579.3,1472.1 580.0,1472.3 580.8,1472.6 581.5,1472.9 582.3,1473.1 583.0,1473.4 583.8,1473.6 584.5,1473.9 585.3,1474.1 586.0,1474.3 586.8,1474.6 587.6,1474.8 588.3,1475.0 589.1,1475.2 589.9,1475.4 590.6,1475.6 591.4,1475.8 592.2,1476.0 593.0,1476.2 593.8,1476.4 594.5,1476.6 595.3,1476.8 596.1,1477.0 596.9,1477.1 597.7,1477.3 598.5,1477.5 599.3,1477.6 600.1,1477.8 600.9,1477.9 601.7,1478.1 602.5,1478.2 603.3,1478.4 604.1,1478.5 604.9,1478.7 605.7,1478.8 606.5,1478.9 607.3,1479.1 608.1,1479.2 608.9,1479.3 609.8,1479.4 610.6,1479.5 611.4,1479.6 612.2,1479.8 613.0,1479.9 613.9,1480.0 614.7,1480.1 615.5,1480.2 616.3,1480.3 617.1,1480.3 618.0,1480.4 618.8,1480.5 619.6,1480.6 620.5,1480.7 621.3,1480.8 622.1,1480.9 622.9,1480.9 623.8,1481.0 624.6,1481.1 625.4,1481.1 626.3,1481.2 627.1,1481.3 627.9,1481.4 628.8,1481.4 629.6,1481.5 630.4,1481.5 631.3,1481.6 632.1,1481.7 632.9,1481.7 633.8,1481.8 634.6,1481.8 635.4,1481.9 636.3,1481.9 637.1,1482.0 637.9,1482.0 638.8,1482.1 639.6,1482.1 640.5,1482.2 641.3,1482.2 642.1,1482.2 643.0,1482.3 643.8,1482.3 644.6,1482.4 645.5,1482.4 646.3,1482.4 647.1,1482.5 647.9,1482.5 648.8,1482.6 649.6,1482.6 650.4,1482.6 651.3,1482.7 652.1,1482.7 652.9,1482.8 653.8,1482.8 654.6,1482.8 655.4,1482.9 656.2,1482.9 657.1,1482.9 657.9,1483.0 658.7,1483.0 659.5,1483.0 660.4,1483.1 661.2,1483.1 662.0,1483.1 662.8,1483.2 663.6,1483.2 664.5,1483.2 665.3,1483.3 666.1,1483.3 666.9,1483.3 667.7,1483.4 668.6,1483.4 669.4,1483.4 670.2,1483.5 671.0,1483.5 671.8,1483.5 672.7,1483.5 673.5,1483.6 674.3,1483.6 675.1,1483.6 675.9,1483.7 676.7,1483.7 677.5,1483.7 678.4,1483.7 679.2,1483.8 680.0,1483.8 680.8,1483.8 681.6,1483.8 682.4,1483.9 683.2,1483.9 684.1,1483.9 684.9,1483.9 685.7,1484.0 686.5,1484.0 687.3,1484.0 688.1,1484.0 688.9,1484.0 689.7,1484.1 690.5,1484.1 691.3,1484.1 692.1,1484.1 693.0,1484.1 693.8,1484.2 694.6,1484.2 695.4,1484.2 696.2,1484.2 697.0,1484.2 697.8,1484.3 698.6,1484.3 699.4,1484.3 700.2,1484.3 701.0,1484.3 701.8,1484.3 702.6,1484.4 703.4,1484.4 704.2,1484.4 705.0,1484.4 705.9,1484.4 706.7,1484.4 707.5,1484.5 708.3,1484.5 709.1,1484.5 709.9,1484.5 710.7,1484.5 711.5,1484.5 712.3,1484.5 713.1,1484.6 713.9,1484.6 714.7,1484.6 715.5,1484.6 716.3,1484.6 717.1,1484.6 717.9,1484.6 718.7,1484.6 719.5,1484.6 720.3,1484.6 721.1,1484.7 721.9,1484.7 722.7,1484.7 723.5,1484.7 724.3,1484.7 725.1,1484.7 725.9,1484.7 726.7,1484.7 727.5,1484.7 728.3,1484.7 729.1,1484.7 729.9,1484.7 730.7,1484.8 731.5,1484.8 732.3,1484.8 733.1,1484.8 733.9,1484.8 734.7,1484.8 735.5,1484.8 736.3,1484.8 737.1,1484.8 737.9,1484.8 738.7,1484.8 739.5,1484.8 740.3,1484.8 741.1,1484.8 741.9,1484.8 742.7,1484.8 743.5,1484.8 744.3,1484.8 745.0,1484.8 745.8,1484.8 746.6,1484.8 747.4,1484.8 748.2,1484.8 749.0,1484.8 749.8,1484.8 750.6,1484.8 751.4,1484.8 752.2,1484.8 753.0,1484.8 753.8,1484.8 754.6,1484.8 755.4,1484.8 756.2,1484.8 757.0,1484.8 757.8,1484.8 758.6,1484.8 759.4,1484.8 760.2,1484.8 761.0,1484.8 761.8,1484.8 762.6,1484.8 763.4,1484.8 764.2,1484.8 765.0,1484.8 765.8,1484.8 766.6,1484.8 767.4,1484.8 768.2,1484.8 769.0,1484.8 769.8,1484.8 770.6,1484.8 771.4,1484.8 772.2,1484.7 773.0,1484.7 773.8,1484.7 774.6,1484.7 775.4,1484.7 776.2,1484.7 777.0,1484.7 777.8,1484.7 778.6,1484.7 779.4,1484.7 780.2,1484.7 781.0,1484.7 781.8,1484.7 782.6,1484.7 783.4,1484.6 784.2,1484.6 785.0,1484.6 785.8,1484.6 786.6,1484.6 787.4,1484.6 788.2,1484.6 789.0,1484.6 789.8,1484.6 790.6,1484.6 791.4,1484.5 792.3,1484.5 793.1,1484.5 793.9,1484.5 794.7,1484.5 795.5,1484.5 796.3,1484.5 797.1,1484.5 797.9,1484.5 798.7,1484.4 799.5,1484.4 800.3,1484.4 801.1,1484.4 801.9,1484.4 802.7,1484.4 803.5,1484.4 804.4,1484.4 805.2,1484.3 806.0,1484.3 806.8,1484.3 807.6,1484.3 808.4,1484.3 809.2,1484.3 810.0,1484.3 810.8,1484.2 811.7,1484.2 812.5,1484.2 813.3,1484.2 814.1,1484.2 814.9,1484.2 815.7,1484.2 816.5,1484.1 817.3,1484.1 818.2,1484.1 819.0,1484.1 819.8,1484.1 820.6,1484.1 821.4,1484.0 822.2,1484.0 823.1,1484.0 823.9,1484.0 824.7,1484.0 825.5,1484.0 826.3,1483.9 827.1,1483.9 828.0,1483.9 828.8,1483.9 829.6,1483.9 830.4,1483.9 831.3,1483.8 832.1,1483.8 832.9,1483.8 833.7,1483.8 834.5,1483.8 835.4,1483.7 836.2,1483.7 837.0,1483.7 837.8,1483.7 838.7,1483.7 839.5,1483.7 840.3,1483.6 841.1,1483.6 842.0,1483.6 842.8,1483.6 843.6,1483.6 844.5,1483.5 845.3,1483.5 846.1,1483.5 847.0,1483.5 847.8,1483.5 848.6,1483.4 849.4,1483.4 850.3,1483.4" fill="none" stroke="#f80404" stroke-width="6" stroke-linejoin="round" stroke-linecap="round"/>
<line x1="122.69999999999999" y1="1488.0" x2="135.7" y2="1488.0" stroke="#000" stroke-width="4" stroke-linecap="round"/>
<text id="t27" x="115" y="1496.9" font-size="30.5" text-anchor="end" font-weight="normal" fill="#000" stroke="#000" stroke-width="0.4" >0</text>
<line x1="122.69999999999999" y1="1361.2" x2="135.7" y2="1361.2" stroke="#000" stroke-width="4" stroke-linecap="round"/>
<text id="t28" x="115" y="1370.1" font-size="30.5" text-anchor="end" font-weight="normal" fill="#000" stroke="#000" stroke-width="0.4" >5</text>
<line x1="122.69999999999999" y1="1234.4" x2="135.7" y2="1234.4" stroke="#000" stroke-width="4" stroke-linecap="round"/>
<text id="t29" x="115" y="1243.3" font-size="30.5" text-anchor="end" font-weight="normal" fill="#000" stroke="#000" stroke-width="0.4" ><tspan class="o1">1</tspan>0</text>
<line x1="122.69999999999999" y1="1107.6" x2="135.7" y2="1107.6" stroke="#000" stroke-width="4" stroke-linecap="round"/>
<text id="t30" x="115" y="1116.5" font-size="30.5" text-anchor="end" font-weight="normal" fill="#000" stroke="#000" stroke-width="0.4" ><tspan class="o1">1</tspan>5</text>
<line x1="122.69999999999999" y1="980.8" x2="135.7" y2="980.8" stroke="#000" stroke-width="4" stroke-linecap="round"/>
<text id="t31" x="115" y="989.7" font-size="30.5" text-anchor="end" font-weight="normal" fill="#000" stroke="#000" stroke-width="0.4" >20</text>
<line x1="122.69999999999999" y1="854.0" x2="135.7" y2="854.0" stroke="#000" stroke-width="4" stroke-linecap="round"/>
<text id="t32" x="115" y="862.9" font-size="30.5" text-anchor="end" font-weight="normal" fill="#000" stroke="#000" stroke-width="0.4" >25</text>
<line x1="129.2" y1="1424.6" x2="135.7" y2="1424.6" stroke="#000" stroke-width="4" stroke-linecap="round"/>
<line x1="129.2" y1="1297.8" x2="135.7" y2="1297.8" stroke="#000" stroke-width="4" stroke-linecap="round"/>
<line x1="129.2" y1="1171.0" x2="135.7" y2="1171.0" stroke="#000" stroke-width="4" stroke-linecap="round"/>
<line x1="129.2" y1="1044.2" x2="135.7" y2="1044.2" stroke="#000" stroke-width="4" stroke-linecap="round"/>
<line x1="129.2" y1="917.4" x2="135.7" y2="917.4" stroke="#000" stroke-width="4" stroke-linecap="round"/>
<line x1="135.3" y1="1488.5" x2="135.3" y2="1501.5" stroke="#000" stroke-width="4" stroke-linecap="round"/>
<text id="t33" x="135.8" y="1533.8" font-size="30.5" text-anchor="middle" font-weight="normal" fill="#000" stroke="#000" stroke-width="0.4" ><tspan class="o1">1</tspan>.05</text>
<line x1="283.0" y1="1488.5" x2="283.0" y2="1501.5" stroke="#000" stroke-width="4" stroke-linecap="round"/>
<text id="t34" x="283.5" y="1533.8" font-size="30.5" text-anchor="middle" font-weight="normal" fill="#000" stroke="#000" stroke-width="0.4" ><tspan class="o1">1</tspan>.20</text>
<line x1="430.7" y1="1488.5" x2="430.7" y2="1501.5" stroke="#000" stroke-width="4" stroke-linecap="round"/>
<text id="t35" x="431.2" y="1533.8" font-size="30.5" text-anchor="middle" font-weight="normal" fill="#000" stroke="#000" stroke-width="0.4" ><tspan class="o1">1</tspan>.35</text>
<line x1="578.4" y1="1488.5" x2="578.4" y2="1501.5" stroke="#000" stroke-width="4" stroke-linecap="round"/>
<text id="t36" x="578.9" y="1533.8" font-size="30.5" text-anchor="middle" font-weight="normal" fill="#000" stroke="#000" stroke-width="0.4" ><tspan class="o1">1</tspan>.50</text>
<line x1="726.1" y1="1488.5" x2="726.1" y2="1501.5" stroke="#000" stroke-width="4" stroke-linecap="round"/>
<text id="t37" x="726.6" y="1533.8" font-size="30.5" text-anchor="middle" font-weight="normal" fill="#000" stroke="#000" stroke-width="0.4" ><tspan class="o1">1</tspan>.65</text>
<line x1="873.8" y1="1488.5" x2="873.8" y2="1501.5" stroke="#000" stroke-width="4" stroke-linecap="round"/>
<text id="t38" x="874.3" y="1533.8" font-size="30.5" text-anchor="middle" font-weight="normal" fill="#000" stroke="#000" stroke-width="0.4" ><tspan class="o1">1</tspan>.80</text>
<line x1="209.1" y1="1488.5" x2="209.1" y2="1495.0" stroke="#000" stroke-width="4" stroke-linecap="round"/>
<line x1="356.8" y1="1488.5" x2="356.8" y2="1495.0" stroke="#000" stroke-width="4" stroke-linecap="round"/>
<line x1="504.6" y1="1488.5" x2="504.6" y2="1495.0" stroke="#000" stroke-width="4" stroke-linecap="round"/>
<line x1="652.2" y1="1488.5" x2="652.2" y2="1495.0" stroke="#000" stroke-width="4" stroke-linecap="round"/>
<line x1="800.0" y1="1488.5" x2="800.0" y2="1495.0" stroke="#000" stroke-width="4" stroke-linecap="round"/>
<rect x="135.7" y="853.9" width="787.5999999999999" height="634.6" fill="none" stroke="#000" stroke-width="4" stroke-linejoin="round"/>
<text id="t39" x="137.8" y="920.5" font-size="73" text-anchor="start" font-weight="normal" fill="#000" stroke="#000" stroke-width="0.4" >(b)</text>
<line x1="501" y1="1145" x2="574" y2="1145" stroke="#000" stroke-width="6.5" stroke-linecap="round"/>
<line x1="501" y1="1194.4" x2="574" y2="1194.4" stroke="#f80404" stroke-width="6.5" stroke-linecap="round"/>
<text id="t40" x="584.5" y="1156.6" font-size="40.3" text-anchor="start" font-weight="normal" fill="#000" stroke="#000" stroke-width="0.4" >Nitridation 250 <tspan dy="1.8">°</tspan><tspan dy="-1.8" dx="1.5">C</tspan></text>
<text id="t41" x="584.5" y="1206.2" font-size="40.3" text-anchor="start" font-weight="normal" fill="#000" stroke="#000" stroke-width="0.4" >Native oxide</text>
<text id="t42" x="530" y="1589.5" font-size="39.3" text-anchor="middle" font-weight="normal" fill="#000" stroke="#000" stroke-width="0.4" >Energy (eV)</text>
<text id="t43" transform="translate(44.8,1403.4) rotate(-90)" font-size="39.1" fill="#000" stroke="#000" stroke-width="0.4">PL intensity (arb. units) <tspan font-size="32" dy="2.5">×</tspan><tspan dy="-2.5"> <tspan class="o1">1</tspan>0</tspan><tspan dy="-16">3</tspan></text>
<polyline points="213.0,2338.0 213.9,2337.9 214.8,2337.8 215.7,2337.8 216.7,2337.7 217.6,2337.6 218.5,2337.6 219.4,2337.5 220.3,2337.5 221.2,2337.4 222.1,2337.4 223.0,2337.3 223.9,2337.3 224.8,2337.3 225.7,2337.2 226.6,2337.2 227.5,2337.2 228.4,2337.2 229.3,2337.1 230.2,2337.1 231.1,2337.1 232.0,2337.1 232.9,2337.1 233.7,2337.1 234.6,2337.0 235.5,2337.0 236.4,2337.0 237.3,2337.0 238.2,2337.0 239.1,2337.0 240.0,2337.0 240.8,2337.0 241.7,2336.9 242.6,2336.9 243.5,2336.9 244.4,2336.9 245.3,2336.9 246.1,2336.9 247.0,2336.8 247.9,2336.8 248.8,2336.8 249.6,2336.7 250.5,2336.7 251.4,2336.7 252.3,2336.6 253.2,2336.6 254.0,2336.5 254.9,2336.5 255.8,2336.4 256.7,2336.4 257.5,2336.3 258.4,2336.2 259.3,2336.2 260.2,2336.1 261.0,2336.0 261.9,2335.9 262.8,2335.8 263.7,2335.7 264.5,2335.6 265.4,2335.5 266.3,2335.4 267.2,2335.2 268.0,2335.1 268.9,2335.0 269.8,2334.8 270.7,2334.7 271.5,2334.5 272.4,2334.3 273.3,2334.1 274.2,2333.9 275.0,2333.7 275.9,2333.5 276.8,2333.3 277.7,2333.1 278.6,2332.9 279.4,2332.6 280.3,2332.4 281.2,2332.1 282.1,2331.8 282.9,2331.6 283.8,2331.3 284.7,2331.0 285.6,2330.7 286.4,2330.3 287.3,2330.0 288.1,2329.7 289.0,2329.3 289.8,2329.0 290.7,2328.6 291.5,2328.2 292.3,2327.8 293.2,2327.4 294.0,2327.0 294.8,2326.6 295.6,2326.1 296.4,2325.7 297.1,2325.2 297.9,2324.8 298.6,2324.3 299.4,2323.8 300.1,2323.3 300.9,2322.8 301.6,2322.3 302.3,2321.8 303.0,2321.3 303.7,2320.7 304.3,2320.2 305.0,2319.6 305.7,2319.0 306.3,2318.5 307.0,2317.9 307.6,2317.3 308.2,2316.7 308.9,2316.1 309.5,2315.5 310.1,2314.8 310.7,2314.2 311.3,2313.6 311.9,2312.9 312.4,2312.3 313.0,2311.6 313.6,2311.0 314.2,2310.3 314.7,2309.6 315.3,2308.9 315.8,2308.3 316.4,2307.6 316.9,2306.9 317.5,2306.2 318.0,2305.5 318.5,2304.8 319.0,2304.1 319.6,2303.3 320.1,2302.6 320.6,2301.9 321.1,2301.2 321.6,2300.5 322.1,2299.7 322.6,2299.0 323.1,2298.3 323.6,2297.5 324.1,2296.8 324.6,2296.0 325.1,2295.3 325.6,2294.6 326.1,2293.8 326.6,2293.1 327.1,2292.3 327.6,2291.6 328.1,2290.8 328.6,2290.1 329.1,2289.3 329.6,2288.6 330.1,2287.8 330.6,2287.1 331.1,2286.3 331.6,2285.6 332.1,2284.8 332.6,2284.1 333.1,2283.3 333.6,2282.6 334.1,2281.8 334.6,2281.1 335.1,2280.3 335.6,2279.6 336.1,2278.8 336.6,2278.1 337.1,2277.3 337.6,2276.6 338.1,2275.8 338.6,2275.1 339.1,2274.3 339.6,2273.6 340.0,2272.8 340.5,2272.1 341.0,2271.3 341.5,2270.5 342.0,2269.8 342.5,2269.0 343.0,2268.3 343.5,2267.5 343.9,2266.8 344.4,2266.0 344.9,2265.2 345.4,2264.5 345.9,2263.7 346.3,2263.0 346.8,2262.2 347.3,2261.4 347.7,2260.7 348.2,2259.9 348.7,2259.1 349.1,2258.4 349.6,2257.6 350.0,2256.8 350.5,2256.1 350.9,2255.3 351.4,2254.5 351.8,2253.8 352.3,2253.0 352.7,2252.2 353.2,2251.4 353.6,2250.7 354.0,2249.9 354.5,2249.1 354.9,2248.3 355.3,2247.5 355.7,2246.8 356.1,2246.0 356.5,2245.2 356.9,2244.4 357.3,2243.6 357.7,2242.8 358.1,2242.0 358.5,2241.2 358.9,2240.5 359.3,2239.7 359.7,2238.9 360.1,2238.1 360.4,2237.3 360.8,2236.5 361.2,2235.7 361.5,2234.9 361.9,2234.1 362.2,2233.3 362.6,2232.5 362.9,2231.6 363.2,2230.8 363.6,2230.0 363.9,2229.2 364.2,2228.4 364.5,2227.6 364.8,2226.8 365.2,2225.9 365.5,2225.1 365.7,2224.3 366.0,2223.5 366.3,2222.6 366.6,2221.8 366.9,2221.0 367.2,2220.2 367.4,2219.3 367.7,2218.5 368.0,2217.7 368.2,2216.8 368.5,2216.0 368.7,2215.1 369.0,2214.3 369.2,2213.5 369.4,2212.6 369.7,2211.8 369.9,2210.9 370.1,2210.1 370.4,2209.2 370.6,2208.4 370.8,2207.5 371.0,2206.7 371.2,2205.8 371.4,2205.0 371.6,2204.1 371.8,2203.3 372.0,2202.4 372.2,2201.6 372.4,2200.7 372.5,2199.8 372.7,2199.0 372.9,2198.1 373.1,2197.2 373.2,2196.4 373.4,2195.5 373.6,2194.6 373.7,2193.8 373.9,2192.9 374.0,2192.0 374.2,2191.2 374.3,2190.3 374.5,2189.4 374.6,2188.6 374.8,2187.7 374.9,2186.8 375.0,2185.9 375.2,2185.0 375.3,2184.2 375.4,2183.3 375.5,2182.4 375.7,2181.5 375.8,2180.6 375.9,2179.8 376.0,2178.9 376.1,2178.0 376.2,2177.1 376.3,2176.2 376.5,2175.3 376.6,2174.5 376.7,2173.6 376.8,2172.7 376.9,2171.8 377.0,2170.9 377.0,2170.0 377.1,2169.1 377.2,2168.2 377.3,2167.3 377.4,2166.4 377.5,2165.6 377.6,2164.7 377.7,2163.8 377.7,2162.9 377.8,2162.0 377.9,2161.1 378.0,2160.2 378.0,2159.3 378.1,2158.4 378.2,2157.5 378.3,2156.6 378.3,2155.7 378.4,2154.8 378.5,2153.9 378.5,2153.0 378.6,2152.1 378.7,2151.2 378.7,2150.3 378.8,2149.4 378.8,2148.5 378.9,2147.6 379.0,2146.7 379.0,2145.8 379.1,2144.9 379.1,2144.0 379.2,2143.1 379.3,2142.2 379.3,2141.3 379.4,2140.4 379.4,2139.5 379.5,2138.6 379.5,2137.7 379.6,2136.8 379.6,2135.9 379.7,2135.0 379.7,2134.1 379.8,2133.2 379.9,2132.3 379.9,2131.4 380.0,2130.5 380.0,2129.6 380.1,2128.7 380.1,2127.8 380.2,2126.9 380.2,2126.0 380.3,2125.0 380.3,2124.1 380.4,2123.2 380.4,2122.3 380.5,2121.4 380.6,2120.5 380.6,2119.6 380.7,2118.7 380.7,2117.8 380.8,2116.9 380.8,2116.0 380.9,2115.1 381.0,2114.2 381.0,2113.3 381.1,2112.4 381.2,2111.5 381.2,2110.6 381.3,2109.7 381.4,2108.8 381.4,2107.9 381.5,2107.0 381.6,2106.1 381.6,2105.3 381.7,2104.4 381.8,2103.5 381.9,2102.6 381.9,2101.7 382.0,2100.8 382.1,2099.9 382.2,2099.0 382.2,2098.1 382.3,2097.2 382.4,2096.3 382.5,2095.4 382.6,2094.5 382.7,2093.6 382.8,2092.7 382.8,2091.9 382.9,2091.0 383.0,2090.1 383.1,2089.2 383.2,2088.3 383.3,2087.4 383.4,2086.5 383.5,2085.6 383.6,2084.7 383.7,2083.9 383.8,2083.0 383.9,2082.1 384.0,2081.2 384.1,2080.3 384.2,2079.4 384.3,2078.5 384.4,2077.6 384.5,2076.8 384.6,2075.9 384.7,2075.0 384.8,2074.1 384.9,2073.2 385.0,2072.3 385.1,2071.5 385.2,2070.6 385.3,2069.7 385.4,2068.8 385.5,2067.9 385.6,2067.0 385.7,2066.2 385.8,2065.3 386.0,2064.4 386.1,2063.5 386.2,2062.6 386.3,2061.8 386.4,2060.9 386.5,2060.0 386.6,2059.1 386.7,2058.2 386.8,2057.3 387.0,2056.5 387.1,2055.6 387.2,2054.7 387.3,2053.8 387.4,2053.0 387.5,2052.1 387.6,2051.2 387.8,2050.3 387.9,2049.4 388.0,2048.6 388.1,2047.7 388.2,2046.8 388.3,2045.9 388.5,2045.0 388.6,2044.2 388.7,2043.3 388.8,2042.4 388.9,2041.5 389.0,2040.7 389.2,2039.8 389.3,2038.9 389.4,2038.0 389.5,2037.1 389.6,2036.3 389.7,2035.4 389.8,2034.5 390.0,2033.6 390.1,2032.8 390.2,2031.9 390.3,2031.0 390.4,2030.1 390.5,2029.2 390.7,2028.4 390.8,2027.5 390.9,2026.6 391.0,2025.7 391.1,2024.9 391.2,2024.0 391.3,2023.1 391.5,2022.2 391.6,2021.4 391.7,2020.5 391.8,2019.6 391.9,2018.7 392.0,2017.8 392.1,2017.0 392.2,2016.1 392.3,2015.2 392.5,2014.3 392.6,2013.5 392.7,2012.6 392.8,2011.7 392.9,2010.8 393.0,2009.9 393.1,2009.1 393.2,2008.2 393.3,2007.3 393.4,2006.4 393.5,2005.6 393.6,2004.7 393.7,2003.8 393.8,2002.9 393.9,2002.0 394.0,2001.2 394.1,2000.3 394.2,1999.4 394.3,1998.5 394.4,1997.6 394.5,1996.8 394.6,1995.9 394.7,1995.0 394.8,1994.1 394.9,1993.2 395.0,1992.4 395.1,1991.5 395.2,1990.6 395.3,1989.7 395.4,1988.8 395.4,1988.0 395.5,1987.1 395.6,1986.2 395.7,1985.3 395.8,1984.4 395.9,1983.6 396.0,1982.7 396.0,1981.8 396.1,1980.9 396.2,1980.0 396.3,1979.1 396.4,1978.3 396.4,1977.4 396.5,1976.5 396.6,1975.6 396.7,1974.7 396.7,1973.8 396.8,1973.0 396.9,1972.1 397.0,1971.2 397.0,1970.3 397.1,1969.4 397.2,1968.5 397.2,1967.6 397.3,1966.8 397.4,1965.9 397.5,1965.0 397.5,1964.1 397.6,1963.2 397.7,1962.3 397.7,1961.4 397.8,1960.6 397.9,1959.7 398.0,1958.8 398.0,1957.9 398.1,1957.0 398.2,1956.1 398.3,1955.2 398.3,1954.3 398.4,1953.4 398.5,1952.6 398.6,1951.7 398.6,1950.8 398.7,1949.9 398.8,1949.0 398.9,1948.1 398.9,1947.2 399.0,1946.3 399.1,1945.4 399.2,1944.6 399.3,1943.7 399.3,1942.8 399.4,1941.9 399.5,1941.0 399.6,1940.1 399.7,1939.2 399.8,1938.3 399.9,1937.4 399.9,1936.5 400.0,1935.6 400.1,1934.7 400.2,1933.9 400.3,1933.0 400.4,1932.1 400.5,1931.2 400.6,1930.3 400.7,1929.4 400.8,1928.5 400.9,1927.6 401.0,1926.7 401.1,1925.8 401.2,1924.9 401.3,1924.0 401.5,1923.1 401.6,1922.2 401.7,1921.4 401.8,1920.5 401.9,1919.6 402.0,1918.7 402.2,1917.8 402.3,1916.9 402.4,1916.0 402.6,1915.1 402.7,1914.2 402.8,1913.3 403.0,1912.4 403.1,1911.5 403.2,1910.6 403.4,1909.7 403.5,1908.8 403.7,1907.9 403.8,1907.0 404.0,1906.1 404.2,1905.2 404.3,1904.3 404.5,1903.4 404.6,1902.5 404.8,1901.6 405.0,1900.7 405.2,1899.9 405.3,1899.0 405.5,1898.1 405.7,1897.2 405.9,1896.3 406.1,1895.4 406.3,1894.5 406.5,1893.6 406.7,1892.7 406.9,1891.7 407.1,1890.8 407.3,1889.9 407.6,1889.0 407.8,1888.1 408.0,1887.1 408.3,1886.2 408.6,1885.3 408.8,1884.3 409.1,1883.4 409.4,1882.4 409.7,1881.4 410.0,1880.5 410.4,1879.5 410.7,1878.5 411.1,1877.6 411.4,1876.7 411.8,1875.8 412.2,1875.0 412.6,1874.2 413.0,1873.5 413.4,1872.9 413.8,1872.3 414.2,1871.9 414.7,1871.6 415.1,1871.4 415.6,1871.3 416.1,1871.3 416.6,1871.5 417.0,1871.8 417.5,1872.2 418.0,1872.6 418.5,1873.2 419.0,1873.9 419.5,1874.6 420.0,1875.4 420.5,1876.2 420.9,1877.1 421.4,1878.0 421.8,1878.9 422.2,1879.9 422.6,1880.8 423.0,1881.8 423.4,1882.8 423.7,1883.7 424.0,1884.7 424.3,1885.7 424.6,1886.6 424.9,1887.6 425.1,1888.6 425.4,1889.5 425.6,1890.5 425.8,1891.4 426.1,1892.4 426.3,1893.3 426.5,1894.2 426.6,1895.2 426.8,1896.1 427.0,1897.1 427.2,1898.0 427.4,1898.9 427.5,1899.8 427.7,1900.8 427.9,1901.7 428.0,1902.6 428.2,1903.5 428.4,1904.4 428.5,1905.3 428.7,1906.2 428.8,1907.2 429.0,1908.1 429.2,1909.0 429.3,1909.8 429.5,1910.7 429.6,1911.6 429.8,1912.5 429.9,1913.4 430.1,1914.3 430.2,1915.2 430.4,1916.1 430.5,1916.9 430.7,1917.8 430.8,1918.7 430.9,1919.6 431.1,1920.5 431.2,1921.3 431.4,1922.2 431.5,1923.1 431.6,1924.0 431.8,1924.8 431.9,1925.7 432.0,1926.6 432.2,1927.4 432.3,1928.3 432.4,1929.2 432.6,1930.1 432.7,1930.9 432.8,1931.8 433.0,1932.7 433.1,1933.5 433.2,1934.4 433.4,1935.3 433.5,1936.1 433.6,1937.0 433.7,1937.9 433.9,1938.7 434.0,1939.6 434.1,1940.5 434.2,1941.4 434.4,1942.2 434.5,1943.1 434.6,1944.0 434.8,1944.8 434.9,1945.7 435.0,1946.6 435.1,1947.5 435.3,1948.3 435.4,1949.2 435.5,1950.1 435.6,1951.0 435.7,1951.8 435.9,1952.7 436.0,1953.6 436.1,1954.5 436.2,1955.3 436.4,1956.2 436.5,1957.1 436.6,1958.0 436.7,1958.8 436.8,1959.7 437.0,1960.6 437.1,1961.5 437.2,1962.3 437.3,1963.2 437.4,1964.1 437.6,1965.0 437.7,1965.8 437.8,1966.7 437.9,1967.6 438.0,1968.5 438.1,1969.4 438.3,1970.2 438.4,1971.1 438.5,1972.0 438.6,1972.9 438.7,1973.7 438.9,1974.6 439.0,1975.5 439.1,1976.4 439.2,1977.3 439.3,1978.1 439.4,1979.0 439.6,1979.9 439.7,1980.8 439.8,1981.7 439.9,1982.5 440.0,1983.4 440.1,1984.3 440.3,1985.2 440.4,1986.1 440.5,1986.9 440.6,1987.8 440.7,1988.7 440.8,1989.6 441.0,1990.5 441.1,1991.4 441.2,1992.2 441.3,1993.1 441.4,1994.0 441.5,1994.9 441.7,1995.8 441.8,1996.6 441.9,1997.5 442.0,1998.4 442.1,1999.3 442.2,2000.2 442.4,2001.1 442.5,2001.9 442.6,2002.8 442.7,2003.7 442.8,2004.6 442.9,2005.5 443.1,2006.4 443.2,2007.2 443.3,2008.1 443.4,2009.0 443.5,2009.9 443.7,2010.8 443.8,2011.7 443.9,2012.5 444.0,2013.4 444.1,2014.3 444.2,2015.2 444.4,2016.1 444.5,2017.0 444.6,2017.8 444.7,2018.7 444.8,2019.6 445.0,2020.5 445.1,2021.4 445.2,2022.3 445.3,2023.1 445.4,2024.0 445.6,2024.9 445.7,2025.8 445.8,2026.7 445.9,2027.6 446.1,2028.4 446.2,2029.3 446.3,2030.2 446.4,2031.1 446.5,2032.0 446.7,2032.9 446.8,2033.8 446.9,2034.6 447.0,2035.5 447.2,2036.4 447.3,2037.3 447.4,2038.2 447.5,2039.1 447.7,2039.9 447.8,2040.8 447.9,2041.7 448.0,2042.6 448.2,2043.5 448.3,2044.4 448.4,2045.2 448.6,2046.1 448.7,2047.0 448.8,2047.9 449.0,2048.8 449.1,2049.7 449.2,2050.5 449.3,2051.4 449.5,2052.3 449.6,2053.2 449.7,2054.1 449.9,2055.0 450.0,2055.8 450.1,2056.7 450.3,2057.6 450.4,2058.5 450.6,2059.4 450.7,2060.3 450.8,2061.1 451.0,2062.0 451.1,2062.9 451.2,2063.8 451.4,2064.7 451.5,2065.6 451.7,2066.4 451.8,2067.3 451.9,2068.2 452.1,2069.1 452.2,2070.0 452.4,2070.9 452.5,2071.7 452.7,2072.6 452.8,2073.5 452.9,2074.4 453.1,2075.3 453.2,2076.1 453.4,2077.0 453.5,2077.9 453.7,2078.8 453.8,2079.7 454.0,2080.5 454.1,2081.4 454.3,2082.3 454.4,2083.2 454.6,2084.1 454.7,2084.9 454.9,2085.8 455.0,2086.7 455.2,2087.6 455.4,2088.5 455.5,2089.3 455.7,2090.2 455.8,2091.1 456.0,2092.0 456.1,2092.9 456.3,2093.7 456.5,2094.6 456.6,2095.5 456.8,2096.4 456.9,2097.2 457.1,2098.1 457.3,2099.0 457.4,2099.9 457.6,2100.7 457.8,2101.6 457.9,2102.5 458.1,2103.4 458.3,2104.3 458.5,2105.1 458.6,2106.0 458.8,2106.9 459.0,2107.8 459.1,2108.6 459.3,2109.5 459.5,2110.4 459.7,2111.3 459.8,2112.1 460.0,2113.0 460.2,2113.9 460.4,2114.7 460.6,2115.6 460.7,2116.5 460.9,2117.4 461.1,2118.2 461.3,2119.1 461.5,2120.0 461.7,2120.9 461.9,2121.7 462.0,2122.6 462.2,2123.5 462.4,2124.3 462.6,2125.2 462.8,2126.1 463.0,2127.0 463.2,2127.8 463.4,2128.7 463.6,2129.6 463.8,2130.4 464.0,2131.3 464.2,2132.2 464.4,2133.0 464.6,2133.9 464.8,2134.8 465.0,2135.6 465.2,2136.5 465.4,2137.4 465.6,2138.2 465.8,2139.1 466.0,2140.0 466.2,2140.8 466.4,2141.7 466.7,2142.6 466.9,2143.4 467.1,2144.3 467.3,2145.2 467.5,2146.0 467.7,2146.9 468.0,2147.7 468.2,2148.6 468.4,2149.5 468.6,2150.3 468.8,2151.2 469.1,2152.1 469.3,2152.9 469.5,2153.8 469.7,2154.6 470.0,2155.5 470.2,2156.4 470.4,2157.2 470.7,2158.1 470.9,2158.9 471.1,2159.8 471.4,2160.6 471.6,2161.5 471.9,2162.4 472.1,2163.2 472.3,2164.1 472.6,2164.9 472.8,2165.8 473.1,2166.6 473.3,2167.5 473.6,2168.4 473.8,2169.2 474.1,2170.1 474.3,2170.9 474.6,2171.8 474.8,2172.6 475.1,2173.5 475.3,2174.3 475.6,2175.2 475.9,2176.0 476.1,2176.9 476.4,2177.7 476.6,2178.6 476.9,2179.4 477.2,2180.3 477.5,2181.1 477.7,2182.0 478.0,2182.8 478.3,2183.7 478.5,2184.5 478.8,2185.4 479.1,2186.2 479.4,2187.1 479.7,2187.9 479.9,2188.7 480.2,2189.6 480.5,2190.4 480.8,2191.3 481.1,2192.1 481.4,2193.0 481.7,2193.8 481.9,2194.6 482.2,2195.5 482.5,2196.3 482.8,2197.2 483.1,2198.0 483.4,2198.8 483.7,2199.7 484.0,2200.5 484.3,2201.4 484.6,2202.2 484.9,2203.0 485.3,2203.9 485.6,2204.7 485.9,2205.5 486.2,2206.4 486.5,2207.2 486.8,2208.0 487.1,2208.9 487.5,2209.7 487.8,2210.5 488.1,2211.4 488.4,2212.2 488.8,2213.0 489.1,2213.9 489.4,2214.7 489.7,2215.5 490.1,2216.4 490.4,2217.2 490.8,2218.0 491.1,2218.8 491.4,2219.7 491.8,2220.5 492.1,2221.3 492.5,2222.1 492.8,2223.0 493.2,2223.8 493.5,2224.6 493.9,2225.4 494.2,2226.2 494.6,2227.0 495.0,2227.9 495.3,2228.7 495.7,2229.5 496.1,2230.3 496.4,2231.1 496.8,2231.9 497.2,2232.7 497.6,2233.5 497.9,2234.3 498.3,2235.1 498.7,2235.9 499.1,2236.7 499.5,2237.5 499.9,2238.3 500.3,2239.1 500.7,2239.9 501.1,2240.7 501.5,2241.5 501.9,2242.3 502.3,2243.1 502.7,2243.9 503.1,2244.7 503.6,2245.5 504.0,2246.2 504.4,2247.0 504.8,2247.8 505.3,2248.6 505.7,2249.4 506.1,2250.1 506.6,2250.9 507.0,2251.7 507.5,2252.4 507.9,2253.2 508.4,2254.0 508.8,2254.7 509.3,2255.5 509.7,2256.3 510.2,2257.0 510.7,2257.8 511.1,2258.5 511.6,2259.3 512.1,2260.0 512.6,2260.8 513.0,2261.5 513.5,2262.2 514.0,2263.0 514.5,2263.7 515.0,2264.5 515.5,2265.2 516.0,2265.9 516.5,2266.6 517.0,2267.4 517.6,2268.1 518.1,2268.8 518.6,2269.5 519.1,2270.2 519.6,2271.0 520.2,2271.7 520.7,2272.4 521.3,2273.1 521.8,2273.8 522.4,2274.5 522.9,2275.2 523.5,2275.9 524.0,2276.6 524.6,2277.3 525.2,2277.9 525.7,2278.6 526.3,2279.3 526.9,2280.0 527.5,2280.7 528.1,2281.3 528.6,2282.0 529.2,2282.7 529.8,2283.3 530.4,2284.0 531.1,2284.6 531.7,2285.3 532.3,2285.9 532.9,2286.6 533.5,2287.2 534.1,2287.9 534.8,2288.5 535.4,2289.2 536.0,2289.8 536.7,2290.4 537.3,2291.0 538.0,2291.7 538.6,2292.3 539.3,2292.9 539.9,2293.5 540.6,2294.1 541.2,2294.7 541.9,2295.3 542.6,2295.9 543.3,2296.5 543.9,2297.1 544.6,2297.7 545.3,2298.2 546.0,2298.8 546.7,2299.4 547.4,2300.0 548.1,2300.5 548.8,2301.1 549.5,2301.6 550.2,2302.2 550.9,2302.7 551.6,2303.3 552.3,2303.8 553.0,2304.4 553.7,2304.9 554.4,2305.4 555.2,2306.0 555.9,2306.5 556.6,2307.0 557.4,2307.5 558.1,2308.0 558.8,2308.5 559.6,2309.0 560.3,2309.5 561.1,2310.0 561.8,2310.5 562.6,2311.0 563.3,2311.4 564.1,2311.9 564.8,2312.4 565.6,2312.8 566.4,2313.3 567.1,2313.7 567.9,2314.2 568.7,2314.6 569.4,2315.1 570.2,2315.5 571.0,2315.9 571.8,2316.4 572.6,2316.8 573.3,2317.2 574.1,2317.6 574.9,2318.0 575.7,2318.4 576.5,2318.8 577.3,2319.2 578.1,2319.6 578.9,2319.9 579.7,2320.3 580.5,2320.7 581.3,2321.0 582.1,2321.4 582.9,2321.8 583.7,2322.1 584.6,2322.4 585.4,2322.8 586.2,2323.1 587.0,2323.4 587.8,2323.7 588.7,2324.1 589.5,2324.4 590.3,2324.7 591.1,2325.0 592.0,2325.3 592.8,2325.5 593.6,2325.8 594.5,2326.1 595.3,2326.4 596.1,2326.6 597.0,2326.9 597.8,2327.2 598.7,2327.4 599.5,2327.6 600.4,2327.9 601.2,2328.1 602.1,2328.4 602.9,2328.6 603.8,2328.8 604.6,2329.0 605.5,2329.2 606.3,2329.4 607.2,2329.6 608.0,2329.8 608.9,2330.0 609.8,2330.2 610.6,2330.4 611.5,2330.6 612.4,2330.8 613.2,2331.0 614.1,2331.1 615.0,2331.3 615.8,2331.4 616.7,2331.6 617.6,2331.8 618.5,2331.9 619.3,2332.1 620.2,2332.2 621.1,2332.3 622.0,2332.5 622.8,2332.6 623.7,2332.7 624.6,2332.8 625.5,2333.0 626.4,2333.1 627.3,2333.2 628.1,2333.3 629.0,2333.4 629.9,2333.5 630.8,2333.6 631.7,2333.7 632.6,2333.8 633.5,2333.9 634.4,2334.0 635.3,2334.1 636.2,2334.2 637.1,2334.2 637.9,2334.3 638.8,2334.4 639.7,2334.5 640.6,2334.5 641.5,2334.6 642.4,2334.7 643.3,2334.7 644.2,2334.8 645.1,2334.8 646.0,2334.9 646.9,2334.9 647.8,2335.0 648.7,2335.0 649.6,2335.1 650.5,2335.1 651.5,2335.1 652.4,2335.2 653.3,2335.2 654.2,2335.3 655.1,2335.3 656.0,2335.3 656.9,2335.3 657.8,2335.4 658.7,2335.4 659.6,2335.4 660.5,2335.4 661.4,2335.4 662.3,2335.5 663.2,2335.5 664.2,2335.5 665.1,2335.5 666.0,2335.5 666.9,2335.5 667.8,2335.5 668.7,2335.5 669.6,2335.6 670.5,2335.6 671.4,2335.6 672.3,2335.6 673.3,2335.6 674.2,2335.6 675.1,2335.6 676.0,2335.6 676.9,2335.6 677.8,2335.6 678.7,2335.6 679.6,2335.6 680.5,2335.6 681.5,2335.5 682.4,2335.5 683.3,2335.5 684.2,2335.5 685.1,2335.5 686.0,2335.5 686.9,2335.5 687.8,2335.5 688.7,2335.5 689.6,2335.5 690.5,2335.5 691.5,2335.5 692.4,2335.5 693.3,2335.5 694.2,2335.4 695.1,2335.4 696.0,2335.4 696.9,2335.4 697.8,2335.4 698.7,2335.4 699.6,2335.4 700.5,2335.4 701.4,2335.4 702.3,2335.4 703.2,2335.4 704.1,2335.4 705.0,2335.4 705.9,2335.4 706.8,2335.4 707.7,2335.4 708.6,2335.4 709.5,2335.4 710.4,2335.4 711.3,2335.4 712.2,2335.4 713.1,2335.4 714.0,2335.4 714.9,2335.4 715.8,2335.4 716.7,2335.4 717.6,2335.4 718.5,2335.4 719.4,2335.4 720.3,2335.4 721.2,2335.4 722.0,2335.4 722.9,2335.4 723.8,2335.4 724.7,2335.4 725.6,2335.4 726.5,2335.4 727.4,2335.4 728.3,2335.4 729.2,2335.4 730.1,2335.4 731.0,2335.4 731.8,2335.5 732.7,2335.5 733.6,2335.5 734.5,2335.5 735.4,2335.5 736.3,2335.5 737.2,2335.5 738.1,2335.5 738.9,2335.5 739.8,2335.5 740.7,2335.5 741.6,2335.6 742.5,2335.6 743.4,2335.6 744.3,2335.6 745.1,2335.6 746.0,2335.6 746.9,2335.6 747.8,2335.6 748.7,2335.7 749.6,2335.7 750.4,2335.7 751.3,2335.7 752.2,2335.7 753.1,2335.7 754.0,2335.7 754.9,2335.8 755.7,2335.8 756.6,2335.8 757.5,2335.8 758.4,2335.8 759.3,2335.8 760.2,2335.8 761.0,2335.9 761.9,2335.9 762.8,2335.9 763.7,2335.9 764.6,2335.9 765.4,2335.9 766.3,2336.0 767.2,2336.0 768.1,2336.0 769.0,2336.0 769.8,2336.0 770.7,2336.0 771.6,2336.0 772.5,2336.1 773.4,2336.1 774.3,2336.1 775.1,2336.1 776.0,2336.1 776.9,2336.1 777.8,2336.2 778.7,2336.2 779.5,2336.2 780.4,2336.2 781.3,2336.2 782.2,2336.2 783.1,2336.3 784.0,2336.3 784.8,2336.3 785.7,2336.3 786.6,2336.3 787.5,2336.3 788.4,2336.4 789.2,2336.4 790.1,2336.4 791.0,2336.4 791.9,2336.4 792.8,2336.4 793.7,2336.4 794.5,2336.5 795.4,2336.5 796.3,2336.5 797.2,2336.5 798.1,2336.5 799.0,2336.5 799.9,2336.5 800.7,2336.6 801.6,2336.6 802.5,2336.6 803.4,2336.6 804.3,2336.6 805.2,2336.6 806.1,2336.6 806.9,2336.7 807.8,2336.7 808.7,2336.7 809.6,2336.7 810.5,2336.7 811.4,2336.7 812.3,2336.7 813.2,2336.7 814.0,2336.8 814.9,2336.8 815.8,2336.8 816.7,2336.8 817.6,2336.8 818.5,2336.8 819.4,2336.8 820.3,2336.8 821.2,2336.8 822.1,2336.8 822.9,2336.9 823.8,2336.9 824.7,2336.9 825.6,2336.9 826.5,2336.9 827.4,2336.9 828.3,2336.9 829.2,2336.9 830.1,2336.9 831.0,2336.9 831.9,2336.9 832.8,2336.9 833.7,2336.9 834.6,2336.9 835.5,2336.9 836.4,2336.9 837.3,2336.9 838.2,2336.9 839.1,2336.9 840.0,2336.9 840.9,2337.0 841.8,2337.0 842.7,2337.0 843.6,2337.0 844.5,2337.0 845.4,2336.9 846.3,2336.9 847.2,2336.9 848.1,2336.9 849.0,2336.9 849.9,2336.9 850.8,2336.9" fill="none" stroke="#f80404" stroke-width="6" stroke-linejoin="round" stroke-linecap="round"/>
<polyline points="211.0,2338.0 211.8,2337.9 212.5,2337.9 213.3,2337.9 214.1,2337.8 214.8,2337.8 215.6,2337.8 216.4,2337.8 217.2,2337.7 218.0,2337.7 218.8,2337.7 219.6,2337.7 220.5,2337.7 221.3,2337.6 222.1,2337.6 223.0,2337.6 223.8,2337.6 224.7,2337.6 225.5,2337.6 226.4,2337.6 227.2,2337.6 228.1,2337.5 229.0,2337.5 229.9,2337.5 230.8,2337.5 231.7,2337.5 232.6,2337.5 233.4,2337.5 234.4,2337.4 235.3,2337.4 236.2,2337.4 237.1,2337.4 238.0,2337.4 238.9,2337.3 239.8,2337.3 240.7,2337.3 241.7,2337.2 242.6,2337.2 243.5,2337.2 244.4,2337.1 245.4,2337.1 246.3,2337.0 247.2,2337.0 248.2,2336.9 249.1,2336.9 250.0,2336.8 251.0,2336.8 251.9,2336.7 252.8,2336.6 253.8,2336.6 254.7,2336.5 255.6,2336.4 256.6,2336.3 257.5,2336.2 258.4,2336.1 259.3,2336.0 260.3,2335.9 261.2,2335.8 262.1,2335.7 263.0,2335.5 264.0,2335.4 264.9,2335.3 265.8,2335.1 266.7,2335.0 267.6,2334.8 268.5,2334.6 269.4,2334.5 270.3,2334.3 271.2,2334.1 272.1,2333.9 273.0,2333.7 273.8,2333.5 274.7,2333.3 275.6,2333.0 276.5,2332.8 277.3,2332.6 278.2,2332.3 279.0,2332.1 279.9,2331.8 280.7,2331.5 281.5,2331.2 282.4,2330.9 283.2,2330.6 284.0,2330.3 284.8,2330.0 285.6,2329.6 286.4,2329.3 287.2,2329.0 288.0,2328.6 288.7,2328.2 289.5,2327.8 290.3,2327.4 291.0,2327.0 291.7,2326.6 292.5,2326.2 293.2,2325.7 293.9,2325.3 294.6,2324.8 295.3,2324.3 296.0,2323.9 296.7,2323.4 297.3,2322.9 298.0,2322.3 298.6,2321.8 299.3,2321.3 299.9,2320.7 300.6,2320.2 301.2,2319.6 301.8,2319.0 302.4,2318.4 303.0,2317.8 303.6,2317.2 304.2,2316.6 304.8,2316.0 305.3,2315.4 305.9,2314.7 306.5,2314.1 307.0,2313.4 307.6,2312.8 308.1,2312.1 308.7,2311.4 309.2,2310.8 309.8,2310.1 310.3,2309.4 310.8,2308.7 311.3,2308.0 311.9,2307.3 312.4,2306.6 312.9,2305.9 313.4,2305.2 313.9,2304.4 314.4,2303.7 314.9,2303.0 315.4,2302.2 315.9,2301.5 316.4,2300.8 316.9,2300.0 317.4,2299.3 317.9,2298.6 318.4,2297.8 318.9,2297.1 319.4,2296.3 319.9,2295.6 320.4,2294.8 320.8,2294.1 321.3,2293.3 321.8,2292.6 322.3,2291.8 322.8,2291.1 323.3,2290.3 323.8,2289.6 324.3,2288.8 324.8,2288.1 325.3,2287.3 325.8,2286.6 326.3,2285.8 326.8,2285.1 327.3,2284.3 327.8,2283.6 328.3,2282.8 328.8,2282.1 329.3,2281.4 329.8,2280.6 330.3,2279.9 330.8,2279.1 331.3,2278.4 331.8,2277.6 332.3,2276.9 332.8,2276.2 333.3,2275.4 333.8,2274.7 334.3,2273.9 334.7,2273.2 335.2,2272.5 335.7,2271.7 336.2,2271.0 336.7,2270.2 337.2,2269.5 337.7,2268.7 338.2,2268.0 338.7,2267.3 339.2,2266.5 339.7,2265.8 340.2,2265.0 340.6,2264.3 341.1,2263.6 341.6,2262.8 342.1,2262.1 342.6,2261.3 343.0,2260.6 343.5,2259.8 344.0,2259.1 344.5,2258.3 344.9,2257.6 345.4,2256.8 345.8,2256.1 346.3,2255.3 346.8,2254.6 347.2,2253.8 347.7,2253.1 348.1,2252.3 348.6,2251.6 349.0,2250.8 349.5,2250.1 349.9,2249.3 350.3,2248.5 350.8,2247.8 351.2,2247.0 351.6,2246.3 352.1,2245.5 352.5,2244.7 352.9,2244.0 353.3,2243.2 353.7,2242.4 354.1,2241.7 354.5,2240.9 354.9,2240.1 355.3,2239.4 355.7,2238.6 356.1,2237.8 356.5,2237.0 356.8,2236.2 357.2,2235.5 357.6,2234.7 358.0,2233.9 358.3,2233.1 358.7,2232.3 359.0,2231.5 359.4,2230.7 359.7,2230.0 360.0,2229.2 360.4,2228.4 360.7,2227.6 361.0,2226.8 361.4,2226.0 361.7,2225.2 362.0,2224.4 362.3,2223.6 362.6,2222.7 362.9,2221.9 363.2,2221.1 363.5,2220.3 363.8,2219.5 364.0,2218.7 364.3,2217.9 364.6,2217.1 364.9,2216.2 365.1,2215.4 365.4,2214.6 365.7,2213.8 365.9,2212.9 366.2,2212.1 366.4,2211.3 366.7,2210.5 366.9,2209.6 367.1,2208.8 367.4,2208.0 367.6,2207.1 367.8,2206.3 368.1,2205.5 368.3,2204.6 368.5,2203.8 368.7,2202.9 368.9,2202.1 369.1,2201.3 369.3,2200.4 369.5,2199.6 369.7,2198.7 369.9,2197.9 370.1,2197.0 370.3,2196.2 370.5,2195.3 370.7,2194.5 370.8,2193.6 371.0,2192.8 371.2,2191.9 371.4,2191.1 371.5,2190.2 371.7,2189.3 371.9,2188.5 372.0,2187.6 372.2,2186.8 372.3,2185.9 372.5,2185.0 372.6,2184.2 372.8,2183.3 372.9,2182.4 373.1,2181.6 373.2,2180.7 373.4,2179.8 373.5,2179.0 373.6,2178.1 373.8,2177.2 373.9,2176.4 374.0,2175.5 374.2,2174.6 374.3,2173.7 374.4,2172.9 374.5,2172.0 374.6,2171.1 374.8,2170.2 374.9,2169.4 375.0,2168.5 375.1,2167.6 375.2,2166.7 375.3,2165.9 375.4,2165.0 375.5,2164.1 375.6,2163.2 375.7,2162.3 375.8,2161.5 375.9,2160.6 376.0,2159.7 376.1,2158.8 376.2,2157.9 376.3,2157.0 376.4,2156.2 376.5,2155.3 376.6,2154.4 376.7,2153.5 376.8,2152.6 376.8,2151.7 376.9,2150.8 377.0,2150.0 377.1,2149.1 377.2,2148.2 377.3,2147.3 377.3,2146.4 377.4,2145.5 377.5,2144.6 377.6,2143.7 377.7,2142.8 377.7,2142.0 377.8,2141.1 377.9,2140.2 378.0,2139.3 378.0,2138.4 378.1,2137.5 378.2,2136.6 378.3,2135.7 378.3,2134.8 378.4,2134.0 378.5,2133.1 378.6,2132.2 378.6,2131.3 378.7,2130.4 378.8,2129.5 378.8,2128.6 378.9,2127.7 379.0,2126.8 379.1,2125.9 379.1,2125.1 379.2,2124.2 379.3,2123.3 379.4,2122.4 379.4,2121.5 379.5,2120.6 379.6,2119.7 379.6,2118.8 379.7,2117.9 379.8,2117.1 379.9,2116.2 379.9,2115.3 380.0,2114.4 380.1,2113.5 380.2,2112.6 380.3,2111.7 380.3,2110.8 380.4,2110.0 380.5,2109.1 380.6,2108.2 380.7,2107.3 380.7,2106.4 380.8,2105.5 380.9,2104.7 381.0,2103.8 381.1,2102.9 381.2,2102.0 381.2,2101.1 381.3,2100.2 381.4,2099.4 381.5,2098.5 381.6,2097.6 381.7,2096.7 381.8,2095.8 381.9,2095.0 382.0,2094.1 382.1,2093.2 382.1,2092.3 382.2,2091.4 382.3,2090.6 382.4,2089.7 382.5,2088.8 382.6,2087.9 382.7,2087.1 382.8,2086.2 382.9,2085.3 383.0,2084.4 383.1,2083.6 383.2,2082.7 383.3,2081.8 383.4,2080.9 383.5,2080.1 383.6,2079.2 383.7,2078.3 383.8,2077.4 383.9,2076.6 384.0,2075.7 384.1,2074.8 384.2,2073.9 384.3,2073.1 384.4,2072.2 384.5,2071.3 384.6,2070.4 384.7,2069.6 384.8,2068.7 384.9,2067.8 385.0,2067.0 385.2,2066.1 385.3,2065.2 385.4,2064.3 385.5,2063.5 385.6,2062.6 385.7,2061.7 385.8,2060.9 385.9,2060.0 386.0,2059.1 386.1,2058.3 386.2,2057.4 386.3,2056.5 386.4,2055.6 386.5,2054.8 386.6,2053.9 386.8,2053.0 386.9,2052.2 387.0,2051.3 387.1,2050.4 387.2,2049.6 387.3,2048.7 387.4,2047.8 387.5,2047.0 387.6,2046.1 387.7,2045.2 387.8,2044.4 387.9,2043.5 388.1,2042.6 388.2,2041.8 388.3,2040.9 388.4,2040.0 388.5,2039.2 388.6,2038.3 388.7,2037.4 388.8,2036.6 388.9,2035.7 389.0,2034.8 389.1,2034.0 389.2,2033.1 389.4,2032.2 389.5,2031.4 389.6,2030.5 389.7,2029.6 389.8,2028.8 389.9,2027.9 390.0,2027.0 390.1,2026.2 390.2,2025.3 390.3,2024.4 390.4,2023.6 390.5,2022.7 390.6,2021.8 390.7,2021.0 390.8,2020.1 390.9,2019.2 391.0,2018.4 391.1,2017.5 391.2,2016.6 391.3,2015.8 391.5,2014.9 391.6,2014.1 391.7,2013.2 391.8,2012.3 391.9,2011.5 392.0,2010.6 392.1,2009.7 392.2,2008.9 392.3,2008.0 392.4,2007.1 392.4,2006.3 392.5,2005.4 392.6,2004.5 392.7,2003.7 392.8,2002.8 392.9,2001.9 393.0,2001.1 393.1,2000.2 393.2,1999.3 393.3,1998.5 393.4,1997.6 393.5,1996.7 393.6,1995.9 393.7,1995.0 393.8,1994.1 393.9,1993.3 393.9,1992.4 394.0,1991.5 394.1,1990.7 394.2,1989.8 394.3,1988.9 394.4,1988.1 394.5,1987.2 394.5,1986.3 394.6,1985.5 394.7,1984.6 394.8,1983.7 394.9,1982.9 395.0,1982.0 395.0,1981.1 395.1,1980.3 395.2,1979.4 395.3,1978.5 395.4,1977.6 395.4,1976.8 395.5,1975.9 395.6,1975.0 395.7,1974.2 395.8,1973.3 395.8,1972.4 395.9,1971.6 396.0,1970.7 396.1,1969.8 396.2,1968.9 396.2,1968.1 396.3,1967.2 396.4,1966.3 396.5,1965.5 396.6,1964.6 396.6,1963.7 396.7,1962.8 396.8,1962.0 396.9,1961.1 397.0,1960.2 397.0,1959.3 397.1,1958.5 397.2,1957.6 397.3,1956.7 397.4,1955.8 397.5,1955.0 397.6,1954.1 397.6,1953.2 397.7,1952.3 397.8,1951.5 397.9,1950.6 398.0,1949.7 398.1,1948.8 398.2,1947.9 398.3,1947.1 398.4,1946.2 398.4,1945.3 398.5,1944.4 398.6,1943.6 398.7,1942.7 398.8,1941.8 398.9,1940.9 399.0,1940.0 399.1,1939.1 399.2,1938.3 399.3,1937.4 399.4,1936.5 399.5,1935.6 399.6,1934.7 399.8,1933.8 399.9,1933.0 400.0,1932.1 400.1,1931.2 400.2,1930.3 400.3,1929.4 400.4,1928.5 400.5,1927.6 400.7,1926.7 400.8,1925.8 400.9,1925.0 401.0,1924.1 401.2,1923.2 401.3,1922.3 401.4,1921.4 401.6,1920.5 401.7,1919.6 401.8,1918.7 402.0,1917.8 402.1,1916.9 402.2,1916.0 402.4,1915.1 402.5,1914.2 402.7,1913.3 402.8,1912.4 403.0,1911.5 403.1,1910.6 403.3,1909.7 403.4,1908.8 403.6,1907.9 403.8,1907.0 403.9,1906.1 404.1,1905.2 404.3,1904.3 404.4,1903.4 404.6,1902.5 404.8,1901.6 405.0,1900.7 405.2,1899.8 405.4,1898.9 405.6,1898.0 405.8,1897.1 406.0,1896.2 406.3,1895.3 406.5,1894.4 406.8,1893.5 407.1,1892.6 407.4,1891.7 407.7,1890.8 408.0,1889.9 408.4,1889.0 408.8,1888.1 409.2,1887.2 409.6,1886.3 410.0,1885.5 410.5,1884.6 410.9,1883.8 411.4,1883.1 411.9,1882.4 412.4,1881.8 412.9,1881.2 413.4,1880.7 414.0,1880.4 414.5,1880.1 415.0,1879.9 415.5,1879.9 416.1,1879.9 416.6,1880.1 417.1,1880.4 417.6,1880.8 418.1,1881.3 418.6,1881.9 419.1,1882.5 419.5,1883.2 420.0,1884.0 420.4,1884.8 420.9,1885.6 421.3,1886.5 421.7,1887.4 422.0,1888.3 422.4,1889.2 422.7,1890.1 423.0,1891.0 423.3,1892.0 423.6,1892.9 423.8,1893.9 424.1,1894.8 424.3,1895.8 424.5,1896.8 424.7,1897.7 424.9,1898.7 425.1,1899.7 425.3,1900.6 425.5,1901.6 425.7,1902.5 425.9,1903.5 426.0,1904.5 426.2,1905.4 426.4,1906.4 426.5,1907.3 426.7,1908.2 426.8,1909.2 427.0,1910.1 427.2,1911.0 427.3,1911.9 427.5,1912.9 427.6,1913.8 427.8,1914.7 427.9,1915.6 428.1,1916.5 428.2,1917.4 428.4,1918.3 428.5,1919.1 428.7,1920.0 428.8,1920.9 429.0,1921.8 429.1,1922.7 429.3,1923.5 429.4,1924.4 429.6,1925.3 429.7,1926.2 429.8,1927.0 430.0,1927.9 430.1,1928.8 430.3,1929.6 430.4,1930.5 430.5,1931.3 430.7,1932.2 430.8,1933.0 430.9,1933.9 431.1,1934.8 431.2,1935.6 431.3,1936.5 431.5,1937.3 431.6,1938.2 431.7,1939.0 431.9,1939.9 432.0,1940.7 432.1,1941.6 432.3,1942.4 432.4,1943.3 432.5,1944.1 432.7,1945.0 432.8,1945.9 432.9,1946.7 433.0,1947.6 433.2,1948.4 433.3,1949.3 433.4,1950.1 433.5,1951.0 433.7,1951.8 433.8,1952.7 433.9,1953.6 434.0,1954.4 434.2,1955.3 434.3,1956.1 434.4,1957.0 434.5,1957.9 434.7,1958.7 434.8,1959.6 434.9,1960.4 435.0,1961.3 435.2,1962.2 435.3,1963.0 435.4,1963.9 435.5,1964.7 435.7,1965.6 435.8,1966.5 435.9,1967.3 436.0,1968.2 436.1,1969.0 436.3,1969.9 436.4,1970.8 436.5,1971.6 436.6,1972.5 436.7,1973.4 436.9,1974.2 437.0,1975.1 437.1,1976.0 437.2,1976.8 437.3,1977.7 437.4,1978.6 437.6,1979.4 437.7,1980.3 437.8,1981.1 437.9,1982.0 438.0,1982.9 438.2,1983.7 438.3,1984.6 438.4,1985.5 438.5,1986.3 438.6,1987.2 438.7,1988.1 438.9,1988.9 439.0,1989.8 439.1,1990.7 439.2,1991.5 439.3,1992.4 439.5,1993.3 439.6,1994.1 439.7,1995.0 439.8,1995.9 439.9,1996.8 440.0,1997.6 440.2,1998.5 440.3,1999.4 440.4,2000.2 440.5,2001.1 440.6,2002.0 440.7,2002.8 440.9,2003.7 441.0,2004.6 441.1,2005.4 441.2,2006.3 441.3,2007.2 441.4,2008.1 441.6,2008.9 441.7,2009.8 441.8,2010.7 441.9,2011.5 442.0,2012.4 442.2,2013.3 442.3,2014.1 442.4,2015.0 442.5,2015.9 442.6,2016.8 442.7,2017.6 442.9,2018.5 443.0,2019.4 443.1,2020.2 443.2,2021.1 443.3,2022.0 443.5,2022.9 443.6,2023.7 443.7,2024.6 443.8,2025.5 443.9,2026.3 444.1,2027.2 444.2,2028.1 444.3,2029.0 444.4,2029.8 444.6,2030.7 444.7,2031.6 444.8,2032.4 444.9,2033.3 445.0,2034.2 445.2,2035.1 445.3,2035.9 445.4,2036.8 445.5,2037.7 445.7,2038.6 445.8,2039.4 445.9,2040.3 446.0,2041.2 446.2,2042.0 446.3,2042.9 446.4,2043.8 446.5,2044.7 446.7,2045.5 446.8,2046.4 446.9,2047.3 447.1,2048.1 447.2,2049.0 447.3,2049.9 447.4,2050.8 447.6,2051.6 447.7,2052.5 447.8,2053.4 448.0,2054.3 448.1,2055.1 448.2,2056.0 448.4,2056.9 448.5,2057.7 448.6,2058.6 448.8,2059.5 448.9,2060.4 449.0,2061.2 449.2,2062.1 449.3,2063.0 449.4,2063.8 449.6,2064.7 449.7,2065.6 449.8,2066.5 450.0,2067.3 450.1,2068.2 450.3,2069.1 450.4,2069.9 450.5,2070.8 450.7,2071.7 450.8,2072.6 451.0,2073.4 451.1,2074.3 451.2,2075.2 451.4,2076.0 451.5,2076.9 451.7,2077.8 451.8,2078.6 452.0,2079.5 452.1,2080.4 452.3,2081.3 452.4,2082.1 452.6,2083.0 452.7,2083.9 452.9,2084.7 453.0,2085.6 453.2,2086.5 453.3,2087.3 453.5,2088.2 453.6,2089.1 453.8,2090.0 453.9,2090.8 454.1,2091.7 454.2,2092.6 454.4,2093.4 454.6,2094.3 454.7,2095.2 454.9,2096.0 455.0,2096.9 455.2,2097.8 455.4,2098.6 455.5,2099.5 455.7,2100.4 455.8,2101.2 456.0,2102.1 456.2,2103.0 456.3,2103.8 456.5,2104.7 456.7,2105.6 456.8,2106.4 457.0,2107.3 457.2,2108.2 457.3,2109.0 457.5,2109.9 457.7,2110.7 457.9,2111.6 458.0,2112.5 458.2,2113.3 458.4,2114.2 458.6,2115.1 458.7,2115.9 458.9,2116.8 459.1,2117.7 459.3,2118.5 459.5,2119.4 459.6,2120.2 459.8,2121.1 460.0,2122.0 460.2,2122.8 460.4,2123.7 460.6,2124.5 460.8,2125.4 460.9,2126.3 461.1,2127.1 461.3,2128.0 461.5,2128.8 461.7,2129.7 461.9,2130.6 462.1,2131.4 462.3,2132.3 462.5,2133.1 462.7,2134.0 462.9,2134.9 463.1,2135.7 463.3,2136.6 463.5,2137.4 463.7,2138.3 463.9,2139.1 464.1,2140.0 464.3,2140.8 464.5,2141.7 464.7,2142.6 464.9,2143.4 465.1,2144.3 465.4,2145.1 465.6,2146.0 465.8,2146.8 466.0,2147.7 466.2,2148.5 466.4,2149.4 466.7,2150.2 466.9,2151.1 467.1,2151.9 467.3,2152.8 467.5,2153.6 467.8,2154.5 468.0,2155.3 468.2,2156.2 468.4,2157.0 468.7,2157.9 468.9,2158.7 469.1,2159.6 469.4,2160.4 469.6,2161.3 469.8,2162.1 470.1,2163.0 470.3,2163.8 470.5,2164.7 470.8,2165.5 471.0,2166.4 471.3,2167.2 471.5,2168.0 471.8,2168.9 472.0,2169.7 472.3,2170.6 472.5,2171.4 472.8,2172.3 473.0,2173.1 473.3,2173.9 473.5,2174.8 473.8,2175.6 474.0,2176.5 474.3,2177.3 474.5,2178.1 474.8,2179.0 475.1,2179.8 475.3,2180.7 475.6,2181.5 475.9,2182.3 476.1,2183.2 476.4,2184.0 476.7,2184.8 476.9,2185.7 477.2,2186.5 477.5,2187.4 477.8,2188.2 478.0,2189.0 478.3,2189.9 478.6,2190.7 478.9,2191.5 479.2,2192.4 479.5,2193.2 479.7,2194.0 480.0,2194.8 480.3,2195.7 480.6,2196.5 480.9,2197.3 481.2,2198.2 481.5,2199.0 481.8,2199.8 482.1,2200.6 482.4,2201.5 482.7,2202.3 483.0,2203.1 483.3,2203.9 483.6,2204.8 483.9,2205.6 484.2,2206.4 484.5,2207.2 484.9,2208.1 485.2,2208.9 485.5,2209.7 485.8,2210.5 486.1,2211.4 486.5,2212.2 486.8,2213.0 487.1,2213.8 487.4,2214.6 487.8,2215.4 488.1,2216.3 488.4,2217.1 488.7,2217.9 489.1,2218.7 489.4,2219.5 489.8,2220.3 490.1,2221.1 490.4,2222.0 490.8,2222.8 491.1,2223.6 491.5,2224.4 491.8,2225.2 492.2,2226.0 492.5,2226.8 492.9,2227.6 493.3,2228.4 493.6,2229.2 494.0,2230.0 494.4,2230.8 494.7,2231.6 495.1,2232.4 495.5,2233.2 495.8,2234.0 496.2,2234.8 496.6,2235.6 497.0,2236.4 497.4,2237.2 497.8,2238.0 498.2,2238.7 498.5,2239.5 498.9,2240.3 499.3,2241.1 499.7,2241.9 500.1,2242.7 500.6,2243.4 501.0,2244.2 501.4,2245.0 501.8,2245.8 502.2,2246.5 502.6,2247.3 503.0,2248.1 503.5,2248.8 503.9,2249.6 504.3,2250.4 504.8,2251.1 505.2,2251.9 505.6,2252.6 506.1,2253.4 506.5,2254.2 507.0,2254.9 507.4,2255.7 507.9,2256.4 508.3,2257.2 508.8,2257.9 509.3,2258.6 509.7,2259.4 510.2,2260.1 510.7,2260.9 511.2,2261.6 511.6,2262.3 512.1,2263.0 512.6,2263.8 513.1,2264.5 513.6,2265.2 514.1,2265.9 514.6,2266.7 515.1,2267.4 515.6,2268.1 516.1,2268.8 516.6,2269.5 517.2,2270.2 517.7,2270.9 518.2,2271.6 518.7,2272.3 519.3,2273.0 519.8,2273.7 520.4,2274.4 520.9,2275.1 521.4,2275.8 522.0,2276.4 522.6,2277.1 523.1,2277.8 523.7,2278.5 524.2,2279.2 524.8,2279.8 525.4,2280.5 526.0,2281.1 526.6,2281.8 527.1,2282.5 527.7,2283.1 528.3,2283.8 528.9,2284.4 529.5,2285.1 530.1,2285.7 530.7,2286.3 531.3,2287.0 532.0,2287.6 532.6,2288.2 533.2,2288.9 533.8,2289.5 534.5,2290.1 535.1,2290.7 535.7,2291.3 536.4,2292.0 537.0,2292.6 537.7,2293.2 538.3,2293.8 539.0,2294.4 539.6,2295.0 540.3,2295.5 540.9,2296.1 541.6,2296.7 542.3,2297.3 542.9,2297.9 543.6,2298.4 544.3,2299.0 545.0,2299.6 545.7,2300.1 546.4,2300.7 547.0,2301.2 547.7,2301.8 548.4,2302.3 549.1,2302.9 549.8,2303.4 550.5,2303.9 551.3,2304.5 552.0,2305.0 552.7,2305.5 553.4,2306.0 554.1,2306.5 554.8,2307.0 555.6,2307.5 556.3,2308.0 557.0,2308.5 557.7,2309.0 558.5,2309.5 559.2,2310.0 560.0,2310.5 560.7,2310.9 561.4,2311.4 562.2,2311.9 562.9,2312.3 563.7,2312.8 564.5,2313.3 565.2,2313.7 566.0,2314.1 566.7,2314.6 567.5,2315.0 568.3,2315.4 569.0,2315.9 569.8,2316.3 570.6,2316.7 571.4,2317.1 572.1,2317.5 572.9,2317.9 573.7,2318.3 574.5,2318.7 575.3,2319.1 576.1,2319.5 576.8,2319.8 577.6,2320.2 578.4,2320.6 579.2,2320.9 580.0,2321.3 580.8,2321.6 581.6,2322.0 582.4,2322.3 583.2,2322.6 584.0,2323.0 584.9,2323.3 585.7,2323.6 586.5,2323.9 587.3,2324.2 588.1,2324.5 588.9,2324.8 589.7,2325.1 590.6,2325.4 591.4,2325.7 592.2,2326.0 593.0,2326.2 593.9,2326.5 594.7,2326.8 595.5,2327.0 596.4,2327.3 597.2,2327.5 598.0,2327.8 598.9,2328.0 599.7,2328.2 600.5,2328.5 601.4,2328.7 602.2,2328.9 603.1,2329.1 603.9,2329.3 604.8,2329.5 605.6,2329.7 606.4,2329.9 607.3,2330.1 608.1,2330.3 609.0,2330.5 609.9,2330.7 610.7,2330.8 611.6,2331.0 612.4,2331.2 613.3,2331.3 614.1,2331.5 615.0,2331.7 615.9,2331.8 616.7,2332.0 617.6,2332.1 618.5,2332.2 619.3,2332.4 620.2,2332.5 621.1,2332.6 621.9,2332.8 622.8,2332.9 623.7,2333.0 624.5,2333.1 625.4,2333.2 626.3,2333.3 627.2,2333.4 628.0,2333.6 628.9,2333.7 629.8,2333.7 630.7,2333.8 631.6,2333.9 632.4,2334.0 633.3,2334.1 634.2,2334.2 635.1,2334.3 636.0,2334.3 636.8,2334.4 637.7,2334.5 638.6,2334.6 639.5,2334.6 640.4,2334.7 641.3,2334.7 642.2,2334.8 643.0,2334.9 643.9,2334.9 644.8,2335.0 645.7,2335.0 646.6,2335.1 647.5,2335.1 648.4,2335.1 649.3,2335.2 650.2,2335.2 651.1,2335.3 652.0,2335.3 652.9,2335.3 653.7,2335.3 654.6,2335.4 655.5,2335.4 656.4,2335.4 657.3,2335.5 658.2,2335.5 659.1,2335.5 660.0,2335.5 660.9,2335.5 661.8,2335.5 662.7,2335.6 663.6,2335.6 664.5,2335.6 665.4,2335.6 666.3,2335.6 667.2,2335.6 668.1,2335.6 669.0,2335.6 669.9,2335.6 670.8,2335.6 671.7,2335.6 672.6,2335.6 673.5,2335.6 674.4,2335.6 675.3,2335.6 676.2,2335.6 677.1,2335.6 678.0,2335.6 678.9,2335.6 679.8,2335.6 680.7,2335.6 681.6,2335.6 682.5,2335.6 683.4,2335.6 684.3,2335.6 685.2,2335.6 686.1,2335.6 687.0,2335.5 687.8,2335.5 688.7,2335.5 689.6,2335.5 690.5,2335.5 691.4,2335.5 692.3,2335.5 693.2,2335.5 694.1,2335.5 695.0,2335.5 695.9,2335.5 696.8,2335.5 697.7,2335.4 698.6,2335.4 699.5,2335.4 700.4,2335.4 701.3,2335.4 702.1,2335.4 703.0,2335.4 703.9,2335.4 704.8,2335.4 705.7,2335.4 706.6,2335.4 707.5,2335.4 708.4,2335.4 709.2,2335.4 710.1,2335.4 711.0,2335.4 711.9,2335.4 712.8,2335.4 713.7,2335.4 714.6,2335.4 715.4,2335.4 716.3,2335.4 717.2,2335.4 718.1,2335.4 719.0,2335.4 719.8,2335.4 720.7,2335.4 721.6,2335.4 722.5,2335.4 723.4,2335.4 724.2,2335.4 725.1,2335.4 726.0,2335.4 726.9,2335.5 727.8,2335.5 728.6,2335.5 729.5,2335.5 730.4,2335.5 731.3,2335.5 732.2,2335.5 733.0,2335.5 733.9,2335.5 734.8,2335.5 735.7,2335.5 736.5,2335.6 737.4,2335.6 738.3,2335.6 739.2,2335.6 740.0,2335.6 740.9,2335.6 741.8,2335.6 742.7,2335.6 743.5,2335.6 744.4,2335.7 745.3,2335.7 746.1,2335.7 747.0,2335.7 747.9,2335.7 748.8,2335.7 749.6,2335.7 750.5,2335.7 751.4,2335.8 752.3,2335.8 753.1,2335.8 754.0,2335.8 754.9,2335.8 755.7,2335.8 756.6,2335.8 757.5,2335.9 758.4,2335.9 759.2,2335.9 760.1,2335.9 761.0,2335.9 761.8,2335.9 762.7,2335.9 763.6,2336.0 764.4,2336.0 765.3,2336.0 766.2,2336.0 767.1,2336.0 767.9,2336.0 768.8,2336.1 769.7,2336.1 770.5,2336.1 771.4,2336.1 772.3,2336.1 773.2,2336.1 774.0,2336.2 774.9,2336.2 775.8,2336.2 776.6,2336.2 777.5,2336.2 778.4,2336.2 779.2,2336.3 780.1,2336.3 781.0,2336.3 781.9,2336.3 782.7,2336.3 783.6,2336.3 784.5,2336.3 785.3,2336.4 786.2,2336.4 787.1,2336.4 788.0,2336.4 788.8,2336.4 789.7,2336.4 790.6,2336.5 791.4,2336.5 792.3,2336.5 793.2,2336.5 794.1,2336.5 794.9,2336.5 795.8,2336.5 796.7,2336.6 797.6,2336.6 798.4,2336.6 799.3,2336.6 800.2,2336.6 801.1,2336.6 801.9,2336.6 802.8,2336.7 803.7,2336.7 804.5,2336.7 805.4,2336.7 806.3,2336.7 807.2,2336.7 808.1,2336.7 808.9,2336.7 809.8,2336.8 810.7,2336.8 811.6,2336.8 812.4,2336.8 813.3,2336.8 814.2,2336.8 815.1,2336.8 815.9,2336.8 816.8,2336.8 817.7,2336.9 818.6,2336.9 819.5,2336.9 820.3,2336.9 821.2,2336.9 822.1,2336.9 823.0,2336.9 823.9,2336.9 824.8,2336.9 825.6,2336.9 826.5,2336.9 827.4,2336.9 828.3,2336.9 829.2,2337.0 830.1,2337.0 830.9,2337.0 831.8,2337.0 832.7,2337.0 833.6,2337.0 834.5,2337.0 835.4,2337.0 836.3,2337.0 837.1,2337.0 838.0,2337.0 838.9,2337.0 839.8,2337.0 840.7,2337.0 841.6,2337.0 842.5,2337.0 843.4,2337.0 844.3,2337.0 845.2,2337.0 846.1,2337.0 847.0,2337.0 847.8,2337.0 848.7,2337.0 849.6,2337.0" fill="none" stroke="#000" stroke-width="6" stroke-linejoin="round" stroke-linecap="round"/>
<polyline points="211.0,2337.4 211.9,2337.4 212.7,2337.3 213.5,2337.3 214.4,2337.3 215.3,2337.3 216.1,2337.3 217.0,2337.3 217.9,2337.3 218.8,2337.2 219.7,2337.2 220.6,2337.2 221.5,2337.2 222.5,2337.2 223.4,2337.2 224.3,2337.2 225.3,2337.1 226.2,2337.1 227.2,2337.1 228.2,2337.1 229.2,2337.0 230.1,2337.0 231.1,2337.0 232.1,2337.0 233.1,2336.9 234.1,2336.9 235.1,2336.8 236.1,2336.8 237.1,2336.7 238.1,2336.7 239.1,2336.6 240.2,2336.6 241.2,2336.5 242.2,2336.4 243.2,2336.4 244.3,2336.3 245.3,2336.2 246.3,2336.1 247.4,2336.0 248.4,2335.9 249.4,2335.8 250.4,2335.7 251.5,2335.6 252.5,2335.5 253.5,2335.4 254.6,2335.2 255.6,2335.1 256.6,2334.9 257.7,2334.8 258.7,2334.6 259.7,2334.5 260.7,2334.3 261.7,2334.1 262.8,2333.9 263.8,2333.7 264.8,2333.5 265.8,2333.3 266.8,2333.1 267.8,2332.9 268.8,2332.6 269.8,2332.4 270.7,2332.1 271.7,2331.8 272.7,2331.6 273.6,2331.3 274.6,2331.0 275.6,2330.7 276.5,2330.4 277.4,2330.0 278.4,2329.7 279.3,2329.4 280.2,2329.0 281.1,2328.6 282.0,2328.3 282.9,2327.9 283.8,2327.5 284.7,2327.0 285.5,2326.6 286.4,2326.2 287.2,2325.7 288.1,2325.3 288.9,2324.8 289.7,2324.3 290.5,2323.8 291.3,2323.3 292.1,2322.8 292.9,2322.2 293.6,2321.7 294.4,2321.1 295.1,2320.5 295.8,2319.9 296.6,2319.3 297.3,2318.7 298.0,2318.1 298.7,2317.5 299.3,2316.8 300.0,2316.2 300.7,2315.5 301.3,2314.8 302.0,2314.1 302.6,2313.4 303.2,2312.7 303.9,2312.0 304.5,2311.3 305.1,2310.6 305.7,2309.8 306.3,2309.1 306.9,2308.3 307.4,2307.6 308.0,2306.8 308.6,2306.0 309.2,2305.2 309.7,2304.4 310.3,2303.7 310.8,2302.8 311.4,2302.0 311.9,2301.2 312.4,2300.4 313.0,2299.6 313.5,2298.8 314.0,2297.9 314.5,2297.1 315.1,2296.3 315.6,2295.4 316.1,2294.6 316.6,2293.7 317.1,2292.9 317.6,2292.0 318.1,2291.2 318.6,2290.3 319.1,2289.4 319.6,2288.6 320.1,2287.7 320.6,2286.8 321.1,2286.0 321.6,2285.1 322.1,2284.2 322.6,2283.4 323.1,2282.5 323.6,2281.7 324.1,2280.8 324.6,2279.9 325.1,2279.1 325.6,2278.2 326.1,2277.3 326.7,2276.5 327.2,2275.6 327.7,2274.8 328.2,2273.9 328.7,2273.1 329.2,2272.2 329.8,2271.4 330.3,2270.6 330.8,2269.7 331.3,2268.9 331.9,2268.1 332.4,2267.2 332.9,2266.4 333.5,2265.6 334.0,2264.7 334.5,2263.9 335.1,2263.1 335.6,2262.2 336.1,2261.4 336.7,2260.6 337.2,2259.8 337.7,2259.0 338.2,2258.1 338.8,2257.3 339.3,2256.5 339.8,2255.7 340.4,2254.8 340.9,2254.0 341.4,2253.2 341.9,2252.4 342.5,2251.6 343.0,2250.7 343.5,2249.9 344.0,2249.1 344.5,2248.3 345.0,2247.5 345.5,2246.6 346.0,2245.8 346.5,2245.0 347.0,2244.1 347.5,2243.3 348.0,2242.5 348.5,2241.7 349.0,2240.8 349.5,2240.0 349.9,2239.1 350.4,2238.3 350.9,2237.5 351.3,2236.6 351.8,2235.8 352.2,2234.9 352.7,2234.1 353.1,2233.2 353.5,2232.4 354.0,2231.5 354.4,2230.7 354.8,2229.8 355.2,2228.9 355.6,2228.1 356.0,2227.2 356.4,2226.3 356.8,2225.4 357.2,2224.6 357.5,2223.7 357.9,2222.8 358.3,2221.9 358.6,2221.0 358.9,2220.1 359.3,2219.2 359.6,2218.3 359.9,2217.4 360.2,2216.5 360.5,2215.5 360.8,2214.6 361.1,2213.7 361.4,2212.8 361.7,2211.8 361.9,2210.9 362.2,2210.0 362.5,2209.0 362.7,2208.1 363.0,2207.1 363.2,2206.2 363.4,2205.2 363.7,2204.3 363.9,2203.3 364.1,2202.4 364.3,2201.4 364.5,2200.4 364.7,2199.5 364.9,2198.5 365.1,2197.5 365.3,2196.6 365.5,2195.6 365.7,2194.6 365.9,2193.7 366.1,2192.7 366.3,2191.7 366.4,2190.7 366.6,2189.8 366.8,2188.8 366.9,2187.8 367.1,2186.8 367.3,2185.9 367.4,2184.9 367.6,2183.9 367.7,2182.9 367.9,2181.9 368.0,2181.0 368.2,2180.0 368.3,2179.0 368.5,2178.0 368.6,2177.1 368.8,2176.1 368.9,2175.1 369.1,2174.1 369.2,2173.2 369.3,2172.2 369.5,2171.2 369.6,2170.2 369.7,2169.3 369.9,2168.3 370.0,2167.3 370.2,2166.4 370.3,2165.4 370.4,2164.4 370.5,2163.4 370.7,2162.5 370.8,2161.5 370.9,2160.5 371.1,2159.6 371.2,2158.6 371.3,2157.6 371.4,2156.7 371.6,2155.7 371.7,2154.7 371.8,2153.7 371.9,2152.8 372.0,2151.8 372.2,2150.8 372.3,2149.9 372.4,2148.9 372.5,2147.9 372.6,2147.0 372.7,2146.0 372.8,2145.0 373.0,2144.1 373.1,2143.1 373.2,2142.1 373.3,2141.2 373.4,2140.2 373.5,2139.2 373.6,2138.3 373.7,2137.3 373.8,2136.3 373.9,2135.4 374.0,2134.4 374.1,2133.5 374.2,2132.5 374.3,2131.5 374.4,2130.6 374.5,2129.6 374.6,2128.6 374.7,2127.7 374.8,2126.7 374.9,2125.7 375.0,2124.8 375.1,2123.8 375.2,2122.8 375.3,2121.9 375.4,2120.9 375.5,2120.0 375.6,2119.0 375.7,2118.0 375.8,2117.1 375.9,2116.1 376.0,2115.1 376.1,2114.2 376.1,2113.2 376.2,2112.2 376.3,2111.3 376.4,2110.3 376.5,2109.4 376.6,2108.4 376.7,2107.4 376.8,2106.5 376.9,2105.5 376.9,2104.5 377.0,2103.6 377.1,2102.6 377.2,2101.6 377.3,2100.7 377.4,2099.7 377.5,2098.8 377.5,2097.8 377.6,2096.8 377.7,2095.9 377.8,2094.9 377.9,2093.9 378.0,2093.0 378.0,2092.0 378.1,2091.0 378.2,2090.1 378.3,2089.1 378.4,2088.1 378.4,2087.2 378.5,2086.2 378.6,2085.2 378.7,2084.3 378.8,2083.3 378.8,2082.4 378.9,2081.4 379.0,2080.4 379.1,2079.5 379.2,2078.5 379.2,2077.5 379.3,2076.6 379.4,2075.6 379.5,2074.6 379.6,2073.6 379.6,2072.7 379.7,2071.7 379.8,2070.7 379.9,2069.8 380.0,2068.8 380.0,2067.8 380.1,2066.9 380.2,2065.9 380.3,2064.9 380.4,2064.0 380.4,2063.0 380.5,2062.0 380.6,2061.0 380.7,2060.1 380.8,2059.1 380.8,2058.1 380.9,2057.2 381.0,2056.2 381.1,2055.2 381.2,2054.2 381.2,2053.3 381.3,2052.3 381.4,2051.3 381.5,2050.3 381.6,2049.4 381.6,2048.4 381.7,2047.4 381.8,2046.4 381.9,2045.5 382.0,2044.5 382.1,2043.5 382.1,2042.5 382.2,2041.6 382.3,2040.6 382.4,2039.6 382.5,2038.6 382.6,2037.7 382.6,2036.7 382.7,2035.7 382.8,2034.7 382.9,2033.7 383.0,2032.8 383.1,2031.8 383.1,2030.8 383.2,2029.8 383.3,2028.8 383.4,2027.9 383.5,2026.9 383.6,2025.9 383.7,2024.9 383.7,2023.9 383.8,2022.9 383.9,2022.0 384.0,2021.0 384.1,2020.0 384.2,2019.0 384.3,2018.0 384.4,2017.1 384.4,2016.1 384.5,2015.1 384.6,2014.1 384.7,2013.1 384.8,2012.1 384.9,2011.2 385.0,2010.2 385.1,2009.2 385.1,2008.2 385.2,2007.2 385.3,2006.2 385.4,2005.3 385.5,2004.3 385.6,2003.3 385.7,2002.3 385.8,2001.3 385.9,2000.3 385.9,1999.4 386.0,1998.4 386.1,1997.4 386.2,1996.4 386.3,1995.4 386.4,1994.4 386.5,1993.5 386.6,1992.5 386.7,1991.5 386.7,1990.5 386.8,1989.5 386.9,1988.5 387.0,1987.6 387.1,1986.6 387.2,1985.6 387.3,1984.6 387.4,1983.6 387.5,1982.6 387.6,1981.7 387.6,1980.7 387.7,1979.7 387.8,1978.7 387.9,1977.7 388.0,1976.7 388.1,1975.8 388.2,1974.8 388.3,1973.8 388.4,1972.8 388.5,1971.8 388.6,1970.8 388.6,1969.9 388.7,1968.9 388.8,1967.9 388.9,1966.9 389.0,1965.9 389.1,1965.0 389.2,1964.0 389.3,1963.0 389.4,1962.0 389.5,1961.0 389.6,1960.1 389.6,1959.1 389.7,1958.1 389.8,1957.1 389.9,1956.2 390.0,1955.2 390.1,1954.2 390.2,1953.2 390.3,1952.2 390.4,1951.3 390.5,1950.3 390.6,1949.3 390.6,1948.3 390.7,1947.4 390.8,1946.4 390.9,1945.4 391.0,1944.4 391.1,1943.5 391.2,1942.5 391.3,1941.5 391.4,1940.5 391.5,1939.6 391.5,1938.6 391.6,1937.6 391.7,1936.7 391.8,1935.7 391.9,1934.7 392.0,1933.7 392.1,1932.8 392.2,1931.8 392.3,1930.8 392.4,1929.9 392.4,1928.9 392.5,1927.9 392.6,1927.0 392.7,1926.0 392.8,1925.0 392.9,1924.1 393.0,1923.1 393.1,1922.1 393.2,1921.2 393.2,1920.2 393.3,1919.2 393.4,1918.3 393.5,1917.3 393.6,1916.4 393.7,1915.4 393.8,1914.4 393.9,1913.5 394.0,1912.5 394.0,1911.6 394.1,1910.6 394.2,1909.6 394.3,1908.7 394.4,1907.7 394.5,1906.8 394.6,1905.8 394.7,1904.9 394.7,1903.9 394.8,1903.0 394.9,1902.0 395.0,1901.0 395.1,1900.1 395.2,1899.1 395.3,1898.2 395.3,1897.2 395.4,1896.3 395.5,1895.3 395.6,1894.4 395.7,1893.5 395.8,1892.5 395.9,1891.6 395.9,1890.6 396.0,1889.7 396.1,1888.7 396.2,1887.8 396.3,1886.8 396.4,1885.9 396.5,1885.0 396.5,1884.0 396.6,1883.1 396.7,1882.1 396.8,1881.2 396.9,1880.2 397.0,1879.3 397.1,1878.4 397.1,1877.4 397.2,1876.5 397.3,1875.5 397.4,1874.6 397.5,1873.6 397.6,1872.7 397.7,1871.8 397.8,1870.8 397.9,1869.9 398.0,1868.9 398.1,1868.0 398.1,1867.0 398.2,1866.1 398.3,1865.1 398.4,1864.1 398.5,1863.2 398.6,1862.2 398.8,1861.3 398.9,1860.3 399.0,1859.3 399.1,1858.4 399.2,1857.4 399.3,1856.4 399.4,1855.4 399.5,1854.4 399.6,1853.5 399.8,1852.5 399.9,1851.5 400.0,1850.5 400.1,1849.5 400.3,1848.5 400.4,1847.5 400.5,1846.5 400.7,1845.5 400.8,1844.5 400.9,1843.5 401.1,1842.5 401.2,1841.4 401.4,1840.4 401.5,1839.4 401.7,1838.3 401.8,1837.3 402.0,1836.3 402.2,1835.2 402.3,1834.2 402.5,1833.1 402.7,1832.1 402.8,1831.0 403.0,1829.9 403.2,1828.8 403.4,1827.8 403.6,1826.7 403.8,1825.6 404.0,1824.5 404.2,1823.4 404.4,1822.3 404.6,1821.2 404.8,1820.1 405.0,1819.0 405.2,1817.8 405.4,1816.7 405.7,1815.6 405.9,1814.5 406.2,1813.5 406.5,1812.4 406.8,1811.4 407.1,1810.3 407.4,1809.3 407.8,1808.4 408.1,1807.4 408.5,1806.5 408.9,1805.6 409.4,1804.8 409.8,1804.0 410.3,1803.2 410.8,1802.5 411.4,1801.9 411.9,1801.3 412.5,1800.8 413.0,1800.4 413.6,1800.2 414.2,1800.0 414.8,1800.0 415.3,1800.1 415.9,1800.4 416.4,1800.8 417.0,1801.3 417.5,1801.9 418.0,1802.6 418.5,1803.4 419.0,1804.2 419.5,1805.0 419.9,1805.9 420.4,1806.7 420.8,1807.6 421.2,1808.4 421.6,1809.3 422.0,1810.2 422.4,1811.1 422.8,1812.0 423.2,1812.9 423.5,1813.8 423.9,1814.8 424.2,1815.7 424.5,1816.6 424.9,1817.6 425.2,1818.5 425.5,1819.5 425.8,1820.5 426.0,1821.4 426.3,1822.4 426.6,1823.4 426.8,1824.4 427.1,1825.4 427.3,1826.4 427.5,1827.4 427.8,1828.4 428.0,1829.4 428.2,1830.4 428.4,1831.4 428.6,1832.4 428.8,1833.4 429.0,1834.5 429.1,1835.5 429.3,1836.5 429.5,1837.5 429.7,1838.5 429.8,1839.6 430.0,1840.6 430.1,1841.6 430.3,1842.6 430.4,1843.7 430.5,1844.7 430.7,1845.7 430.8,1846.7 430.9,1847.8 431.1,1848.8 431.2,1849.8 431.3,1850.8 431.4,1851.8 431.6,1852.8 431.7,1853.8 431.8,1854.8 431.9,1855.8 432.0,1856.8 432.1,1857.8 432.2,1858.8 432.4,1859.8 432.5,1860.8 432.6,1861.8 432.7,1862.8 432.8,1863.8 432.9,1864.7 433.0,1865.7 433.1,1866.7 433.2,1867.7 433.3,1868.6 433.4,1869.6 433.5,1870.6 433.6,1871.5 433.7,1872.5 433.8,1873.5 433.9,1874.4 434.0,1875.4 434.1,1876.4 434.2,1877.3 434.2,1878.3 434.3,1879.2 434.4,1880.2 434.5,1881.2 434.6,1882.1 434.7,1883.1 434.8,1884.0 434.9,1885.0 435.0,1885.9 435.1,1886.9 435.2,1887.9 435.2,1888.8 435.3,1889.8 435.4,1890.7 435.5,1891.7 435.6,1892.6 435.7,1893.6 435.8,1894.6 435.9,1895.5 436.0,1896.5 436.1,1897.4 436.2,1898.4 436.2,1899.4 436.3,1900.3 436.4,1901.3 436.5,1902.2 436.6,1903.2 436.7,1904.2 436.8,1905.1 436.9,1906.1 437.0,1907.0 437.1,1908.0 437.2,1909.0 437.3,1909.9 437.4,1910.9 437.5,1911.9 437.5,1912.8 437.6,1913.8 437.7,1914.7 437.8,1915.7 437.9,1916.7 438.0,1917.6 438.1,1918.6 438.2,1919.6 438.3,1920.5 438.4,1921.5 438.5,1922.5 438.6,1923.4 438.7,1924.4 438.8,1925.4 438.9,1926.3 439.0,1927.3 439.1,1928.2 439.2,1929.2 439.3,1930.2 439.4,1931.1 439.5,1932.1 439.6,1933.1 439.7,1934.0 439.8,1935.0 439.9,1936.0 440.0,1936.9 440.1,1937.9 440.2,1938.9 440.3,1939.9 440.4,1940.8 440.5,1941.8 440.6,1942.8 440.7,1943.7 440.8,1944.7 440.9,1945.7 441.0,1946.6 441.1,1947.6 441.2,1948.6 441.3,1949.5 441.4,1950.5 441.5,1951.5 441.6,1952.4 441.7,1953.4 441.8,1954.4 441.9,1955.3 442.1,1956.3 442.2,1957.3 442.3,1958.3 442.4,1959.2 442.5,1960.2 442.6,1961.2 442.7,1962.1 442.8,1963.1 442.9,1964.1 443.0,1965.0 443.1,1966.0 443.3,1967.0 443.4,1968.0 443.5,1968.9 443.6,1969.9 443.7,1970.9 443.8,1971.8 443.9,1972.8 444.0,1973.8 444.2,1974.8 444.3,1975.7 444.4,1976.7 444.5,1977.7 444.6,1978.6 444.7,1979.6 444.9,1980.6 445.0,1981.6 445.1,1982.5 445.2,1983.5 445.3,1984.5 445.5,1985.4 445.6,1986.4 445.7,1987.4 445.8,1988.4 445.9,1989.3 446.1,1990.3 446.2,1991.3 446.3,1992.2 446.4,1993.2 446.6,1994.2 446.7,1995.2 446.8,1996.1 446.9,1997.1 447.1,1998.1 447.2,1999.0 447.3,2000.0 447.4,2001.0 447.6,2002.0 447.7,2002.9 447.8,2003.9 448.0,2004.9 448.1,2005.8 448.2,2006.8 448.4,2007.8 448.5,2008.8 448.6,2009.7 448.8,2010.7 448.9,2011.7 449.0,2012.6 449.2,2013.6 449.3,2014.6 449.4,2015.6 449.6,2016.5 449.7,2017.5 449.9,2018.5 450.0,2019.4 450.1,2020.4 450.3,2021.4 450.4,2022.3 450.6,2023.3 450.7,2024.3 450.8,2025.3 451.0,2026.2 451.1,2027.2 451.3,2028.2 451.4,2029.1 451.6,2030.1 451.7,2031.1 451.9,2032.0 452.0,2033.0 452.2,2034.0 452.3,2035.0 452.5,2035.9 452.6,2036.9 452.8,2037.9 452.9,2038.8 453.1,2039.8 453.2,2040.8 453.4,2041.7 453.5,2042.7 453.7,2043.7 453.8,2044.6 454.0,2045.6 454.2,2046.6 454.3,2047.5 454.5,2048.5 454.6,2049.5 454.8,2050.5 455.0,2051.4 455.1,2052.4 455.3,2053.4 455.5,2054.3 455.6,2055.3 455.8,2056.3 456.0,2057.2 456.1,2058.2 456.3,2059.2 456.5,2060.1 456.6,2061.1 456.8,2062.0 457.0,2063.0 457.1,2064.0 457.3,2064.9 457.5,2065.9 457.7,2066.9 457.8,2067.8 458.0,2068.8 458.2,2069.8 458.4,2070.7 458.5,2071.7 458.7,2072.7 458.9,2073.6 459.1,2074.6 459.3,2075.5 459.5,2076.5 459.6,2077.5 459.8,2078.4 460.0,2079.4 460.2,2080.4 460.4,2081.3 460.6,2082.3 460.8,2083.2 460.9,2084.2 461.1,2085.2 461.3,2086.1 461.5,2087.1 461.7,2088.0 461.9,2089.0 462.1,2090.0 462.3,2090.9 462.5,2091.9 462.7,2092.8 462.9,2093.8 463.1,2094.8 463.3,2095.7 463.5,2096.7 463.7,2097.6 463.9,2098.6 464.1,2099.5 464.3,2100.5 464.5,2101.4 464.7,2102.4 464.9,2103.4 465.1,2104.3 465.3,2105.3 465.6,2106.2 465.8,2107.2 466.0,2108.1 466.2,2109.1 466.4,2110.0 466.6,2111.0 466.8,2111.9 467.1,2112.9 467.3,2113.9 467.5,2114.8 467.7,2115.8 467.9,2116.7 468.2,2117.7 468.4,2118.6 468.6,2119.6 468.8,2120.5 469.1,2121.5 469.3,2122.4 469.5,2123.4 469.8,2124.3 470.0,2125.3 470.2,2126.2 470.4,2127.2 470.7,2128.1 470.9,2129.0 471.2,2130.0 471.4,2130.9 471.6,2131.9 471.9,2132.8 472.1,2133.8 472.3,2134.7 472.6,2135.7 472.8,2136.6 473.1,2137.6 473.3,2138.5 473.6,2139.4 473.8,2140.4 474.1,2141.3 474.3,2142.3 474.6,2143.2 474.8,2144.2 475.1,2145.1 475.3,2146.0 475.6,2147.0 475.8,2147.9 476.1,2148.9 476.4,2149.8 476.6,2150.7 476.9,2151.7 477.1,2152.6 477.4,2153.5 477.7,2154.5 477.9,2155.4 478.2,2156.4 478.5,2157.3 478.7,2158.2 479.0,2159.2 479.3,2160.1 479.6,2161.0 479.8,2162.0 480.1,2162.9 480.4,2163.8 480.7,2164.8 480.9,2165.7 481.2,2166.6 481.5,2167.5 481.8,2168.5 482.1,2169.4 482.4,2170.3 482.7,2171.3 482.9,2172.2 483.2,2173.1 483.5,2174.1 483.8,2175.0 484.1,2175.9 484.4,2176.8 484.7,2177.8 485.0,2178.7 485.3,2179.6 485.6,2180.5 485.9,2181.5 486.2,2182.4 486.5,2183.3 486.8,2184.2 487.1,2185.1 487.4,2186.1 487.7,2187.0 488.0,2187.9 488.4,2188.8 488.7,2189.7 489.0,2190.7 489.3,2191.6 489.6,2192.5 490.0,2193.4 490.3,2194.3 490.6,2195.2 490.9,2196.2 491.3,2197.1 491.6,2198.0 491.9,2198.9 492.3,2199.8 492.6,2200.7 493.0,2201.6 493.3,2202.5 493.7,2203.5 494.0,2204.4 494.4,2205.3 494.7,2206.2 495.1,2207.1 495.4,2208.0 495.8,2208.9 496.1,2209.8 496.5,2210.7 496.9,2211.6 497.2,2212.5 497.6,2213.4 498.0,2214.3 498.4,2215.2 498.7,2216.1 499.1,2217.0 499.5,2217.9 499.9,2218.8 500.3,2219.7 500.7,2220.6 501.0,2221.5 501.4,2222.4 501.8,2223.3 502.2,2224.2 502.6,2225.1 503.1,2226.0 503.5,2226.9 503.9,2227.8 504.3,2228.6 504.7,2229.5 505.1,2230.4 505.5,2231.3 506.0,2232.2 506.4,2233.1 506.8,2234.0 507.3,2234.9 507.7,2235.7 508.2,2236.6 508.6,2237.5 509.0,2238.4 509.5,2239.3 509.9,2240.1 510.4,2241.0 510.9,2241.9 511.3,2242.8 511.8,2243.7 512.3,2244.5 512.7,2245.4 513.2,2246.3 513.7,2247.1 514.2,2248.0 514.7,2248.9 515.1,2249.7 515.6,2250.6 516.1,2251.5 516.6,2252.3 517.1,2253.2 517.6,2254.0 518.1,2254.9 518.6,2255.8 519.2,2256.6 519.7,2257.5 520.2,2258.3 520.7,2259.1 521.3,2260.0 521.8,2260.8 522.3,2261.7 522.9,2262.5 523.4,2263.3 523.9,2264.2 524.5,2265.0 525.0,2265.8 525.6,2266.6 526.2,2267.5 526.7,2268.3 527.3,2269.1 527.8,2269.9 528.4,2270.7 529.0,2271.5 529.6,2272.3 530.2,2273.1 530.7,2273.9 531.3,2274.7 531.9,2275.5 532.5,2276.2 533.1,2277.0 533.7,2277.8 534.3,2278.6 534.9,2279.3 535.6,2280.1 536.2,2280.9 536.8,2281.6 537.4,2282.4 538.0,2283.1 538.7,2283.9 539.3,2284.6 540.0,2285.3 540.6,2286.1 541.2,2286.8 541.9,2287.5 542.5,2288.2 543.2,2288.9 543.9,2289.6 544.5,2290.4 545.2,2291.0 545.9,2291.7 546.5,2292.4 547.2,2293.1 547.9,2293.8 548.6,2294.5 549.3,2295.1 550.0,2295.8 550.7,2296.4 551.4,2297.1 552.1,2297.7 552.8,2298.4 553.5,2299.0 554.2,2299.7 555.0,2300.3 555.7,2300.9 556.4,2301.5 557.1,2302.1 557.9,2302.7 558.6,2303.3 559.4,2303.9 560.1,2304.5 560.9,2305.0 561.6,2305.6 562.4,2306.2 563.1,2306.7 563.9,2307.3 564.7,2307.8 565.5,2308.4 566.2,2308.9 567.0,2309.4 567.8,2309.9 568.6,2310.4 569.4,2310.9 570.2,2311.4 571.0,2311.9 571.8,2312.4 572.6,2312.9 573.4,2313.4 574.3,2313.8 575.1,2314.3 575.9,2314.7 576.8,2315.2 577.6,2315.6 578.4,2316.0 579.3,2316.4 580.1,2316.8 581.0,2317.2 581.8,2317.6 582.7,2318.0 583.6,2318.4 584.4,2318.8 585.3,2319.2 586.2,2319.5 587.0,2319.9 587.9,2320.2 588.8,2320.6 589.7,2320.9 590.6,2321.2 591.5,2321.6 592.4,2321.9 593.3,2322.2 594.2,2322.5 595.1,2322.8 596.0,2323.1 596.9,2323.4 597.8,2323.7 598.7,2324.0 599.7,2324.2 600.6,2324.5 601.5,2324.8 602.4,2325.0 603.4,2325.3 604.3,2325.5 605.2,2325.8 606.2,2326.0 607.1,2326.2 608.1,2326.5 609.0,2326.7 610.0,2326.9 610.9,2327.1 611.9,2327.3 612.8,2327.5 613.8,2327.7 614.7,2327.9 615.7,2328.1 616.7,2328.3 617.6,2328.5 618.6,2328.6 619.6,2328.8 620.6,2329.0 621.5,2329.1 622.5,2329.3 623.5,2329.4 624.5,2329.6 625.5,2329.7 626.4,2329.9 627.4,2330.0 628.4,2330.1 629.4,2330.3 630.4,2330.4 631.4,2330.5 632.4,2330.6 633.4,2330.7 634.4,2330.9 635.4,2331.0 636.4,2331.1 637.4,2331.2 638.4,2331.3 639.4,2331.4 640.4,2331.4 641.4,2331.5 642.4,2331.6 643.4,2331.7 644.4,2331.8 645.4,2331.9 646.4,2331.9 647.5,2332.0 648.5,2332.1 649.5,2332.1 650.5,2332.2 651.5,2332.3 652.5,2332.3 653.5,2332.4 654.6,2332.4 655.6,2332.5 656.6,2332.5 657.6,2332.6 658.6,2332.6 659.6,2332.6 660.7,2332.7 661.7,2332.7 662.7,2332.8 663.7,2332.8 664.7,2332.8 665.8,2332.9 666.8,2332.9 667.8,2332.9 668.8,2332.9 669.8,2333.0 670.9,2333.0 671.9,2333.0 672.9,2333.0 673.9,2333.0 674.9,2333.1 676.0,2333.1 677.0,2333.1 678.0,2333.1 679.0,2333.1 680.0,2333.1 681.0,2333.2 682.1,2333.2 683.1,2333.2 684.1,2333.2 685.1,2333.2 686.1,2333.2 687.1,2333.2 688.1,2333.2 689.2,2333.2 690.2,2333.2 691.2,2333.2 692.2,2333.2 693.2,2333.3 694.2,2333.3 695.2,2333.3 696.2,2333.3 697.2,2333.3 698.2,2333.3 699.2,2333.3 700.2,2333.3 701.2,2333.3 702.2,2333.3 703.2,2333.3 704.2,2333.3 705.2,2333.3 706.2,2333.3 707.2,2333.4 708.2,2333.4 709.2,2333.4 710.1,2333.4 711.1,2333.4 712.1,2333.4 713.1,2333.4 714.1,2333.4 715.1,2333.4 716.0,2333.5 717.0,2333.5 718.0,2333.5 719.0,2333.5 719.9,2333.5 720.9,2333.5 721.9,2333.5 722.9,2333.6 723.8,2333.6 724.8,2333.6 725.8,2333.6 726.8,2333.6 727.7,2333.6 728.7,2333.6 729.7,2333.7 730.6,2333.7 731.6,2333.7 732.6,2333.7 733.5,2333.7 734.5,2333.7 735.4,2333.8 736.4,2333.8 737.4,2333.8 738.3,2333.8 739.3,2333.8 740.2,2333.9 741.2,2333.9 742.2,2333.9 743.1,2333.9 744.1,2333.9 745.0,2333.9 746.0,2334.0 746.9,2334.0 747.9,2334.0 748.9,2334.0 749.8,2334.0 750.8,2334.1 751.7,2334.1 752.7,2334.1 753.6,2334.1 754.6,2334.1 755.5,2334.2 756.5,2334.2 757.4,2334.2 758.4,2334.2 759.3,2334.2 760.3,2334.3 761.2,2334.3 762.2,2334.3 763.1,2334.3 764.1,2334.4 765.1,2334.4 766.0,2334.4 767.0,2334.4 767.9,2334.4 768.9,2334.5 769.8,2334.5 770.8,2334.5 771.7,2334.5 772.7,2334.5 773.6,2334.6 774.6,2334.6 775.5,2334.6 776.5,2334.6 777.4,2334.7 778.4,2334.7 779.3,2334.7 780.3,2334.7 781.2,2334.7 782.2,2334.8 783.1,2334.8 784.1,2334.8 785.0,2334.8 786.0,2334.9 787.0,2334.9 787.9,2334.9 788.9,2334.9 789.8,2334.9 790.8,2335.0 791.7,2335.0 792.7,2335.0 793.6,2335.0 794.6,2335.0 795.6,2335.1 796.5,2335.1 797.5,2335.1 798.4,2335.1 799.4,2335.1 800.4,2335.2 801.3,2335.2 802.3,2335.2 803.3,2335.2 804.2,2335.3 805.2,2335.3 806.2,2335.3 807.1,2335.3 808.1,2335.3 809.1,2335.3 810.0,2335.4 811.0,2335.4 812.0,2335.4 812.9,2335.4 813.9,2335.4 814.9,2335.5 815.9,2335.5 816.8,2335.5 817.8,2335.5 818.8,2335.5 819.8,2335.5 820.7,2335.6 821.7,2335.6 822.7,2335.6 823.7,2335.6 824.7,2335.6 825.7,2335.6 826.7,2335.7 827.6,2335.7 828.6,2335.7 829.6,2335.7 830.6,2335.7 831.6,2335.7 832.6,2335.8 833.6,2335.8 834.6,2335.8 835.6,2335.8 836.6,2335.8 837.6,2335.8 838.6,2335.8 839.6,2335.8 840.6,2335.9 841.6,2335.9 842.6,2335.9 843.6,2335.9 844.6,2335.9 845.6,2335.9 846.7,2335.9 847.7,2335.9 848.7,2335.9 849.7,2336.0" fill="none" stroke="#0606f5" stroke-width="6" stroke-linejoin="round" stroke-linecap="round"/>
<line x1="122.69999999999999" y1="2339.3" x2="135.7" y2="2339.3" stroke="#000" stroke-width="4" stroke-linecap="round"/>
<text id="t44" x="115" y="2348.2" font-size="30.5" text-anchor="end" font-weight="normal" fill="#000" stroke="#000" stroke-width="0.4" >0</text>
<line x1="122.69999999999999" y1="2212.4" x2="135.7" y2="2212.4" stroke="#000" stroke-width="4" stroke-linecap="round"/>
<text id="t45" x="115" y="2221.3" font-size="30.5" text-anchor="end" font-weight="normal" fill="#000" stroke="#000" stroke-width="0.4" >5</text>
<line x1="122.69999999999999" y1="2085.5" x2="135.7" y2="2085.5" stroke="#000" stroke-width="4" stroke-linecap="round"/>
<text id="t46" x="115" y="2094.4" font-size="30.5" text-anchor="end" font-weight="normal" fill="#000" stroke="#000" stroke-width="0.4" ><tspan class="o1">1</tspan>0</text>
<line x1="122.69999999999999" y1="1958.6" x2="135.7" y2="1958.6" stroke="#000" stroke-width="4" stroke-linecap="round"/>
<text id="t47" x="115" y="1967.5" font-size="30.5" text-anchor="end" font-weight="normal" fill="#000" stroke="#000" stroke-width="0.4" ><tspan class="o1">1</tspan>5</text>
<line x1="122.69999999999999" y1="1831.7" x2="135.7" y2="1831.7" stroke="#000" stroke-width="4" stroke-linecap="round"/>
<text id="t48" x="115" y="1840.6" font-size="30.5" text-anchor="end" font-weight="normal" fill="#000" stroke="#000" stroke-width="0.4" >20</text>
<line x1="122.69999999999999" y1="1704.8" x2="135.7" y2="1704.8" stroke="#000" stroke-width="4" stroke-linecap="round"/>
<text id="t49" x="115" y="1713.7" font-size="30.5" text-anchor="end" font-weight="normal" fill="#000" stroke="#000" stroke-width="0.4" >25</text>
<line x1="129.2" y1="2275.9" x2="135.7" y2="2275.9" stroke="#000" stroke-width="4" stroke-linecap="round"/>
<line x1="129.2" y1="2149.0" x2="135.7" y2="2149.0" stroke="#000" stroke-width="4" stroke-linecap="round"/>
<line x1="129.2" y1="2022.1" x2="135.7" y2="2022.1" stroke="#000" stroke-width="4" stroke-linecap="round"/>
<line x1="129.2" y1="1895.2" x2="135.7" y2="1895.2" stroke="#000" stroke-width="4" stroke-linecap="round"/>
<line x1="129.2" y1="1768.3" x2="135.7" y2="1768.3" stroke="#000" stroke-width="4" stroke-linecap="round"/>
<line x1="135.3" y1="2339.2" x2="135.3" y2="2352.2" stroke="#000" stroke-width="4" stroke-linecap="round"/>
<text id="t50" x="135.8" y="2385" font-size="30.5" text-anchor="middle" font-weight="normal" fill="#000" stroke="#000" stroke-width="0.4" ><tspan class="o1">1</tspan>.05</text>
<line x1="283.0" y1="2339.2" x2="283.0" y2="2352.2" stroke="#000" stroke-width="4" stroke-linecap="round"/>
<text id="t51" x="283.5" y="2385" font-size="30.5" text-anchor="middle" font-weight="normal" fill="#000" stroke="#000" stroke-width="0.4" ><tspan class="o1">1</tspan>.20</text>
<line x1="430.7" y1="2339.2" x2="430.7" y2="2352.2" stroke="#000" stroke-width="4" stroke-linecap="round"/>
<text id="t52" x="431.2" y="2385" font-size="30.5" text-anchor="middle" font-weight="normal" fill="#000" stroke="#000" stroke-width="0.4" ><tspan class="o1">1</tspan>.35</text>
<line x1="578.4" y1="2339.2" x2="578.4" y2="2352.2" stroke="#000" stroke-width="4" stroke-linecap="round"/>
<text id="t53" x="578.9" y="2385" font-size="30.5" text-anchor="middle" font-weight="normal" fill="#000" stroke="#000" stroke-width="0.4" ><tspan class="o1">1</tspan>.50</text>
<line x1="726.1" y1="2339.2" x2="726.1" y2="2352.2" stroke="#000" stroke-width="4" stroke-linecap="round"/>
<text id="t54" x="726.6" y="2385" font-size="30.5" text-anchor="middle" font-weight="normal" fill="#000" stroke="#000" stroke-width="0.4" ><tspan class="o1">1</tspan>.65</text>
<line x1="873.8" y1="2339.2" x2="873.8" y2="2352.2" stroke="#000" stroke-width="4" stroke-linecap="round"/>
<text id="t55" x="874.3" y="2385" font-size="30.5" text-anchor="middle" font-weight="normal" fill="#000" stroke="#000" stroke-width="0.4" ><tspan class="o1">1</tspan>.80</text>
<line x1="209.1" y1="2339.2" x2="209.1" y2="2345.7" stroke="#000" stroke-width="4" stroke-linecap="round"/>
<line x1="356.8" y1="2339.2" x2="356.8" y2="2345.7" stroke="#000" stroke-width="4" stroke-linecap="round"/>
<line x1="504.6" y1="2339.2" x2="504.6" y2="2345.7" stroke="#000" stroke-width="4" stroke-linecap="round"/>
<line x1="652.2" y1="2339.2" x2="652.2" y2="2345.7" stroke="#000" stroke-width="4" stroke-linecap="round"/>
<line x1="800.0" y1="2339.2" x2="800.0" y2="2345.7" stroke="#000" stroke-width="4" stroke-linecap="round"/>
<rect x="135.7" y="1704.8" width="787.5999999999999" height="634.3999999999999" fill="none" stroke="#000" stroke-width="4" stroke-linejoin="round"/>
<text id="t56" x="137.8" y="1771.8" font-size="73" text-anchor="start" font-weight="normal" fill="#000" stroke="#000" stroke-width="0.4" >(c)</text>
<line x1="486" y1="1969.5" x2="559" y2="1969.5" stroke="#f80404" stroke-width="6.5" stroke-linecap="round"/>
<line x1="486" y1="2023.6" x2="559" y2="2023.6" stroke="#000" stroke-width="6.5" stroke-linecap="round"/>
<line x1="486" y1="2078.3" x2="559" y2="2078.3" stroke="#0606f5" stroke-width="6.5" stroke-linecap="round"/>
<text id="t57" x="569.7" y="1980.8" font-size="40.7" text-anchor="start" font-weight="normal" fill="#000" stroke="#000" stroke-width="0.4" >Native oxide</text>
<text id="t58" x="569.7" y="2035" font-size="40.6" text-anchor="start" font-weight="normal" fill="#000" stroke="#000" stroke-width="0.4" >Nitridation 400 <tspan dy="1.8">°</tspan><tspan dy="-1.8" dx="1.5">C</tspan></text>
<text id="t59" x="569.7" y="2089" font-size="40.6" text-anchor="start" font-weight="normal" fill="#000" stroke="#000" stroke-width="0.4" >Oxidation 300 <tspan dy="1.8">°</tspan><tspan dy="-1.8" dx="1.5">C</tspan></text>
<text id="t60" x="530" y="2441.3" font-size="39.3" text-anchor="middle" font-weight="normal" fill="#000" stroke="#000" stroke-width="0.4" >Energy (eV)</text>
<text id="t61" transform="translate(44.8,2254.1) rotate(-90)" font-size="39.1" fill="#000" stroke="#000" stroke-width="0.4">PL intensity (arb. units) <tspan font-size="32" dy="2.5">×</tspan><tspan dy="-2.5"> <tspan class="o1">1</tspan>0</tspan><tspan dy="-16">3</tspan></text>
<g>
<path transform="translate(106.81,681.00) scale(0.01489,-0.01489)" d="M515,0L515,1237L197,1010L197,1180L530,1409L696,1409L696,0Z" fill="#000" stroke="#000" stroke-width="26.9"/>
<path transform="translate(237.91,681.00) scale(0.01489,-0.01489)" d="M515,0L515,1237L197,1010L197,1180L530,1409L696,1409L696,0Z" fill="#000" stroke="#000" stroke-width="26.9"/>
<path transform="translate(368.91,681.00) scale(0.01489,-0.01489)" d="M515,0L515,1237L197,1010L197,1180L530,1409L696,1409L696,0Z" fill="#000" stroke="#000" stroke-width="26.9"/>
<path transform="translate(500.01,681.00) scale(0.01489,-0.01489)" d="M515,0L515,1237L197,1010L197,1180L530,1409L696,1409L696,0Z" fill="#000" stroke="#000" stroke-width="26.9"/>
<path transform="translate(631.11,681.00) scale(0.01489,-0.01489)" d="M515,0L515,1237L197,1010L197,1180L530,1409L696,1409L696,0Z" fill="#000" stroke="#000" stroke-width="26.9"/>
<path transform="translate(762.11,681.00) scale(0.01489,-0.01489)" d="M515,0L515,1237L197,1010L197,1180L530,1409L696,1409L696,0Z" fill="#000" stroke="#000" stroke-width="26.9"/>
<path transform="translate(893.21,681.00) scale(0.01489,-0.01489)" d="M515,0L515,1237L197,1010L197,1180L530,1409L696,1409L696,0Z" fill="#000" stroke="#000" stroke-width="26.9"/>
<path transform="translate(229.10,374.30) scale(0.02100,-0.02100)" d="M515,0L515,1237L197,1010L197,1180L530,1409L696,1409L696,0Z" fill="#f21010" stroke="#f21010" stroke-width="19.1"/>
<path transform="translate(738.61,529.70) scale(0.01758,-0.01758)" d="M478,0L478,1170L140,959L140,1180L493,1409L759,1409L759,0Z" fill="#9340e4" stroke="#9340e4" stroke-width="11.4"/>
<path transform="translate(688.52,575.50) scale(0.01758,-0.01758)" d="M478,0L478,1170L140,959L140,1180L493,1409L759,1409L759,0Z" fill="#9340e4" stroke="#9340e4" stroke-width="11.4"/>
<path transform="translate(44.5,546.7) rotate(-90) translate(438.59,0.00) scale(0.01909,-0.01909)" d="M515,0L515,1237L197,1010L197,1180L530,1409L696,1409L696,0Z" fill="#000" stroke="#000" stroke-width="21.0"/>
<path transform="translate(81.06,1243.30) scale(0.01489,-0.01489)" d="M515,0L515,1237L197,1010L197,1180L530,1409L696,1409L696,0Z" fill="#000" stroke="#000" stroke-width="26.9"/>
<path transform="translate(81.06,1116.50) scale(0.01489,-0.01489)" d="M515,0L515,1237L197,1010L197,1180L530,1409L696,1409L696,0Z" fill="#000" stroke="#000" stroke-width="26.9"/>
<path transform="translate(106.11,1533.80) scale(0.01489,-0.01489)" d="M515,0L515,1237L197,1010L197,1180L530,1409L696,1409L696,0Z" fill="#000" stroke="#000" stroke-width="26.9"/>
<path transform="translate(253.81,1533.80) scale(0.01489,-0.01489)" d="M515,0L515,1237L197,1010L197,1180L530,1409L696,1409L696,0Z" fill="#000" stroke="#000" stroke-width="26.9"/>
<path transform="translate(401.51,1533.80) scale(0.01489,-0.01489)" d="M515,0L515,1237L197,1010L197,1180L530,1409L696,1409L696,0Z" fill="#000" stroke="#000" stroke-width="26.9"/>
<path transform="translate(549.21,1533.80) scale(0.01489,-0.01489)" d="M515,0L515,1237L197,1010L197,1180L530,1409L696,1409L696,0Z" fill="#000" stroke="#000" stroke-width="26.9"/>
<path transform="translate(696.91,1533.80) scale(0.01489,-0.01489)" d="M515,0L515,1237L197,1010L197,1180L530,1409L696,1409L696,0Z" fill="#000" stroke="#000" stroke-width="26.9"/>
<path transform="translate(844.61,1533.80) scale(0.01489,-0.01489)" d="M515,0L515,1237L197,1010L197,1180L530,1409L696,1409L696,0Z" fill="#000" stroke="#000" stroke-width="26.9"/>
<path transform="translate(44.8,1403.4) rotate(-90) translate(438.59,0.00) scale(0.01909,-0.01909)" d="M515,0L515,1237L197,1010L197,1180L530,1409L696,1409L696,0Z" fill="#000" stroke="#000" stroke-width="21.0"/>
<path transform="translate(81.06,2094.40) scale(0.01489,-0.01489)" d="M515,0L515,1237L197,1010L197,1180L530,1409L696,1409L696,0Z" fill="#000" stroke="#000" stroke-width="26.9"/>
<path transform="translate(81.06,1967.50) scale(0.01489,-0.01489)" d="M515,0L515,1237L197,1010L197,1180L530,1409L696,1409L696,0Z" fill="#000" stroke="#000" stroke-width="26.9"/>
<path transform="translate(106.11,2385.00) scale(0.01489,-0.01489)" d="M515,0L515,1237L197,1010L197,1180L530,1409L696,1409L696,0Z" fill="#000" stroke="#000" stroke-width="26.9"/>
<path transform="translate(253.81,2385.00) scale(0.01489,-0.01489)" d="M515,0L515,1237L197,1010L197,1180L530,1409L696,1409L696,0Z" fill="#000" stroke="#000" stroke-width="26.9"/>
<path transform="translate(401.51,2385.00) scale(0.01489,-0.01489)" d="M515,0L515,1237L197,1010L197,1180L530,1409L696,1409L696,0Z" fill="#000" stroke="#000" stroke-width="26.9"/>
<path transform="translate(549.21,2385.00) scale(0.01489,-0.01489)" d="M515,0L515,1237L197,1010L197,1180L530,1409L696,1409L696,0Z" fill="#000" stroke="#000" stroke-width="26.9"/>
<path transform="translate(696.91,2385.00) scale(0.01489,-0.01489)" d="M515,0L515,1237L197,1010L197,1180L530,1409L696,1409L696,0Z" fill="#000" stroke="#000" stroke-width="26.9"/>
<path transform="translate(844.61,2385.00) scale(0.01489,-0.01489)" d="M515,0L515,1237L197,1010L197,1180L530,1409L696,1409L696,0Z" fill="#000" stroke="#000" stroke-width="26.9"/>
<path transform="translate(44.8,2254.1) rotate(-90) translate(438.59,0.00) scale(0.01909,-0.01909)" d="M515,0L515,1237L197,1010L197,1180L530,1409L696,1409L696,0Z" fill="#000" stroke="#000" stroke-width="21.0"/>
</g>
</svg>
</body></html>
